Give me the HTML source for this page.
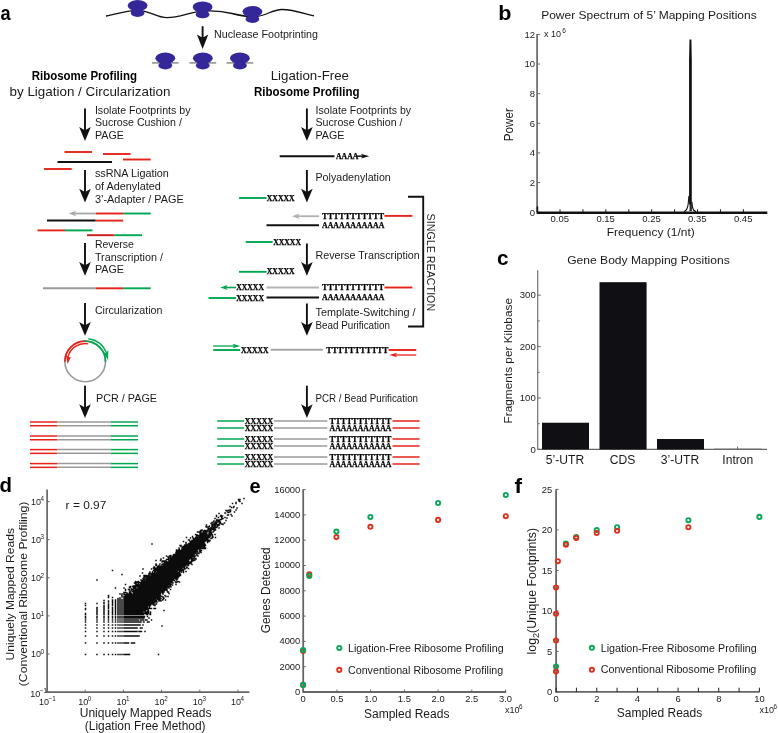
<!DOCTYPE html>
<html lang="en"><head><meta charset="utf-8"><title>Ligation-free ribosome profiling figure</title>
<style>html,body{margin:0;padding:0;background:#fff}svg{display:block}text{white-space:pre}</style>
</head><body>
<svg width="778" height="733" viewBox="0 0 778 733">
<rect width="778" height="733" fill="#fff"/>
<text x="0.4" y="20.4" font-family='"Liberation Sans", Arial, Helvetica, sans-serif' font-size="19.6" font-weight="bold" textLength="10.13" lengthAdjust="spacingAndGlyphs" fill="#000">a</text>
<text x="498.3" y="20.1" font-family='"Liberation Sans", Arial, Helvetica, sans-serif' font-size="19.6" font-weight="bold" textLength="13.17" lengthAdjust="spacingAndGlyphs" fill="#000">b</text>
<text x="497.0" y="264.7" font-family='"Liberation Sans", Arial, Helvetica, sans-serif' font-size="19.6" font-weight="bold" textLength="11.55" lengthAdjust="spacingAndGlyphs" fill="#000">c</text>
<text x="-0.6" y="491.7" font-family='"Liberation Sans", Arial, Helvetica, sans-serif' font-size="19.6" font-weight="bold" textLength="12.45" lengthAdjust="spacingAndGlyphs" fill="#000">d</text>
<text x="249.4" y="492.7" font-family='"Liberation Sans", Arial, Helvetica, sans-serif' font-size="19.6" font-weight="bold" textLength="11.12" lengthAdjust="spacingAndGlyphs" fill="#000">e</text>
<text x="514.4" y="492.5" font-family='"Liberation Sans", Arial, Helvetica, sans-serif' font-size="19.6" font-weight="bold" textLength="7.51" lengthAdjust="spacingAndGlyphs" fill="#000">f</text>
<path d="M106 16C118 14 126 10.5 137.6 10.3C150 10.5 156 17.6 167 17.7C180 17.6 190 12 202.6 11.2C212 10.6 222 11 232 13.5C240 15.5 248 17 256 16.6C266 16 272 9.6 282 9.5C293 9.6 304 13.5 314 15.8" fill="none" stroke="#111" stroke-width="1.3"/>
<ellipse cx="137.6" cy="5.6" rx="9.9" ry="5.6" fill="#33279a"/>
<ellipse cx="137.6" cy="13.0" rx="6.9" ry="3.9" fill="#33279a"/>
<ellipse cx="202.6" cy="7.0" rx="9.9" ry="5.6" fill="#33279a"/>
<ellipse cx="202.6" cy="14.4" rx="6.9" ry="3.9" fill="#33279a"/>
<ellipse cx="252.4" cy="11.6" rx="9.9" ry="5.6" fill="#33279a"/>
<ellipse cx="252.4" cy="19.0" rx="6.9" ry="3.9" fill="#33279a"/>
<path d="M201.65 26.2H203.54999999999998V37.2L208.29999999999998 34.5L202.6 49.1L196.9 34.5L201.65 37.2Z" fill="#111"/>
<text x="214" y="37.9" font-family='"Liberation Sans", Arial, Helvetica, sans-serif' font-size="10.2" textLength="104" lengthAdjust="spacingAndGlyphs" fill="#1a1a1a">Nuclease Footprinting</text>
<line x1="151.9" y1="62.9" x2="178.70000000000002" y2="62.9" stroke="#8c8c8c" stroke-width="1.5"/>
<ellipse cx="165.3" cy="58.2" rx="9.9" ry="5.6" fill="#33279a"/>
<ellipse cx="165.3" cy="65.60000000000001" rx="6.9" ry="3.9" fill="#33279a"/>
<line x1="189.4" y1="62.9" x2="216.20000000000002" y2="62.9" stroke="#8c8c8c" stroke-width="1.5"/>
<ellipse cx="202.8" cy="58.2" rx="9.9" ry="5.6" fill="#33279a"/>
<ellipse cx="202.8" cy="65.60000000000001" rx="6.9" ry="3.9" fill="#33279a"/>
<line x1="226.5" y1="62.9" x2="253.3" y2="62.9" stroke="#8c8c8c" stroke-width="1.5"/>
<ellipse cx="239.9" cy="58.2" rx="9.9" ry="5.6" fill="#33279a"/>
<ellipse cx="239.9" cy="65.60000000000001" rx="6.9" ry="3.9" fill="#33279a"/>
<text x="31.7" y="80" font-family='"Liberation Sans", Arial, Helvetica, sans-serif' font-size="12.6" font-weight="bold" textLength="105.3" lengthAdjust="spacingAndGlyphs" fill="#000">Ribosome Profiling</text>
<text x="9.5" y="96.2" font-family='"Liberation Sans", Arial, Helvetica, sans-serif' font-size="13.3" textLength="161" lengthAdjust="spacingAndGlyphs" fill="#1a1a1a">by Ligation / Circularization</text>
<text x="270.7" y="79.6" font-family='"Liberation Sans", Arial, Helvetica, sans-serif' font-size="13.3" textLength="78.3" lengthAdjust="spacingAndGlyphs" fill="#1a1a1a">Ligation-Free</text>
<text x="254" y="95.8" font-family='"Liberation Sans", Arial, Helvetica, sans-serif' font-size="12.6" font-weight="bold" textLength="105.5" lengthAdjust="spacingAndGlyphs" fill="#000">Ribosome Profiling</text>
<path d="M84.05 108.4H85.95V129.8L90.8 127.10000000000001L85 140.9L79.2 127.10000000000001L84.05 129.8Z" fill="#111"/>
<text x="94.9" y="113.6" font-family='"Liberation Sans", Arial, Helvetica, sans-serif' font-size="10.2" textLength="95.6" lengthAdjust="spacingAndGlyphs" fill="#1a1a1a">Isolate Footprints by</text>
<text x="94.9" y="126" font-family='"Liberation Sans", Arial, Helvetica, sans-serif' font-size="10.2" textLength="87" lengthAdjust="spacingAndGlyphs" fill="#1a1a1a">Sucrose Cushion /</text>
<text x="94.9" y="138.6" font-family='"Liberation Sans", Arial, Helvetica, sans-serif' font-size="10.2" textLength="29" lengthAdjust="spacingAndGlyphs" fill="#1a1a1a">PAGE</text>
<line x1="64.5" y1="152" x2="92" y2="152" stroke="#e5231a" stroke-width="1.9"/>
<line x1="103" y1="154" x2="130.5" y2="154" stroke="#e5231a" stroke-width="1.9"/>
<line x1="123" y1="159.5" x2="150.7" y2="159.5" stroke="#e5231a" stroke-width="1.9"/>
<line x1="57.5" y1="162.1" x2="112" y2="162.1" stroke="#111" stroke-width="2.0"/>
<line x1="44" y1="169" x2="71.7" y2="169" stroke="#e5231a" stroke-width="1.9"/>
<path d="M84.05 170H85.95V191.39999999999998L90.8 188.7L85 202.5L79.2 188.7L84.05 191.39999999999998Z" fill="#111"/>
<text x="94.9" y="177" font-family='"Liberation Sans", Arial, Helvetica, sans-serif' font-size="10.2" textLength="74" lengthAdjust="spacingAndGlyphs" fill="#1a1a1a">ssRNA Ligation</text>
<text x="94.9" y="189.6" font-family='"Liberation Sans", Arial, Helvetica, sans-serif' font-size="10.2" textLength="66" lengthAdjust="spacingAndGlyphs" fill="#1a1a1a">of Adenylated</text>
<text x="94.9" y="202.5" font-family='"Liberation Sans", Arial, Helvetica, sans-serif' font-size="10.2" textLength="89" lengthAdjust="spacingAndGlyphs" fill="#1a1a1a">3’-Adapter / PAGE</text>
<line x1="73.2" y1="213.5" x2="95.7" y2="213.5" stroke="#a8a8a8" stroke-width="1.8"/>
<path d="M68.7 213.5L76.2 210.8L74.325 213.5L76.2 216.2Z" fill="#a8a8a8"/>
<line x1="95.7" y1="213.5" x2="123.2" y2="213.5" stroke="#e5231a" stroke-width="1.9"/>
<line x1="123.2" y1="213.5" x2="150.7" y2="213.5" stroke="#00a650" stroke-width="1.9"/>
<line x1="47" y1="220.6" x2="95.7" y2="220.6" stroke="#111" stroke-width="2.0"/>
<line x1="95.7" y1="220.6" x2="123.2" y2="220.6" stroke="#e5231a" stroke-width="1.9"/>
<line x1="37.5" y1="230.4" x2="65" y2="230.4" stroke="#e5231a" stroke-width="1.9"/>
<line x1="65" y1="230.4" x2="92.5" y2="230.4" stroke="#00a650" stroke-width="1.9"/>
<line x1="87" y1="235.2" x2="114.5" y2="235.2" stroke="#c81e14" stroke-width="1.9"/>
<line x1="114.5" y1="235.2" x2="142" y2="235.2" stroke="#00a650" stroke-width="1.9"/>
<path d="M84.05 243H85.95V264.7L90.8 262.0L85 275.8L79.2 262.0L84.05 264.7Z" fill="#111"/>
<text x="94.9" y="248" font-family='"Liberation Sans", Arial, Helvetica, sans-serif' font-size="10.2" textLength="39" lengthAdjust="spacingAndGlyphs" fill="#1a1a1a">Reverse</text>
<text x="94.9" y="260.7" font-family='"Liberation Sans", Arial, Helvetica, sans-serif' font-size="10.2" textLength="68" lengthAdjust="spacingAndGlyphs" fill="#1a1a1a">Transcription /</text>
<text x="94.9" y="273.3" font-family='"Liberation Sans", Arial, Helvetica, sans-serif' font-size="10.2" textLength="29" lengthAdjust="spacingAndGlyphs" fill="#1a1a1a">PAGE</text>
<line x1="43" y1="288.3" x2="95.7" y2="288.3" stroke="#9a9a9a" stroke-width="1.9"/>
<line x1="95.7" y1="288.3" x2="123.2" y2="288.3" stroke="#e5231a" stroke-width="1.9"/>
<line x1="123.2" y1="288.3" x2="150.7" y2="288.3" stroke="#00a650" stroke-width="1.9"/>
<path d="M84.05 303H85.95V324.7L90.8 322.0L85 335.8L79.2 322.0L84.05 324.7Z" fill="#111"/>
<text x="94.9" y="314.3" font-family='"Liberation Sans", Arial, Helvetica, sans-serif' font-size="10.2" textLength="67.5" lengthAdjust="spacingAndGlyphs" fill="#1a1a1a">Circularization</text>
<circle cx="85.2" cy="361.4" r="20.3" fill="none" stroke="#9a9a9a" stroke-width="1.6"/>
<path d="M85.55 341.10A20.3 20.3 0 0 0 64.90 361.75" fill="none" stroke="#e5231a" stroke-width="1.7"/>
<path d="M88.29 343.87A17.8 17.8 0 0 0 67.93 357.09" fill="none" stroke="#e5231a" stroke-width="1.5"/>
<path d="M84.85 341.10A20.3 20.3 0 0 1 105.50 361.75" fill="none" stroke="#00a650" stroke-width="1.7"/>
<path d="M88.39 338.72A22.900000000000002 22.900000000000002 0 0 1 106.43 352.82" fill="none" stroke="#00a650" stroke-width="1.5"/>
<path d="M67.6 364L65.9 355.3L68.6 357.2L70.9 356.9Z" fill="#e5231a"/>
<path d="M108.1 360.2L103.5 352.6L106 353L108.3 350.3Z" fill="#00a650"/>
<path d="M84.05 385.8H85.95V406.9L90.8 404.2L85 418L79.2 404.2L84.05 406.9Z" fill="#111"/>
<text x="96" y="401.6" font-family='"Liberation Sans", Arial, Helvetica, sans-serif' font-size="10.2" textLength="61" lengthAdjust="spacingAndGlyphs" fill="#1a1a1a">PCR / PAGE</text>
<line x1="30" y1="422" x2="57.5" y2="422" stroke="#e5231a" stroke-width="1.5"/>
<line x1="57.5" y1="422" x2="110.5" y2="422" stroke="#9a9a9a" stroke-width="1.5"/>
<line x1="110.5" y1="422" x2="138" y2="422" stroke="#00a650" stroke-width="1.5"/>
<line x1="30" y1="425.75" x2="57.5" y2="425.75" stroke="#e5231a" stroke-width="1.5"/>
<line x1="57.5" y1="425.75" x2="110.5" y2="425.75" stroke="#9a9a9a" stroke-width="1.5"/>
<line x1="110.5" y1="425.75" x2="138" y2="425.75" stroke="#00a650" stroke-width="1.5"/>
<line x1="30" y1="436" x2="57.5" y2="436" stroke="#e5231a" stroke-width="1.5"/>
<line x1="57.5" y1="436" x2="110.5" y2="436" stroke="#9a9a9a" stroke-width="1.5"/>
<line x1="110.5" y1="436" x2="138" y2="436" stroke="#00a650" stroke-width="1.5"/>
<line x1="30" y1="439.75" x2="57.5" y2="439.75" stroke="#e5231a" stroke-width="1.5"/>
<line x1="57.5" y1="439.75" x2="110.5" y2="439.75" stroke="#9a9a9a" stroke-width="1.5"/>
<line x1="110.5" y1="439.75" x2="138" y2="439.75" stroke="#00a650" stroke-width="1.5"/>
<line x1="30" y1="449.6" x2="57.5" y2="449.6" stroke="#e5231a" stroke-width="1.5"/>
<line x1="57.5" y1="449.6" x2="110.5" y2="449.6" stroke="#9a9a9a" stroke-width="1.5"/>
<line x1="110.5" y1="449.6" x2="138" y2="449.6" stroke="#00a650" stroke-width="1.5"/>
<line x1="30" y1="453.35" x2="57.5" y2="453.35" stroke="#e5231a" stroke-width="1.5"/>
<line x1="57.5" y1="453.35" x2="110.5" y2="453.35" stroke="#9a9a9a" stroke-width="1.5"/>
<line x1="110.5" y1="453.35" x2="138" y2="453.35" stroke="#00a650" stroke-width="1.5"/>
<line x1="30" y1="463.6" x2="57.5" y2="463.6" stroke="#e5231a" stroke-width="1.5"/>
<line x1="57.5" y1="463.6" x2="110.5" y2="463.6" stroke="#9a9a9a" stroke-width="1.5"/>
<line x1="110.5" y1="463.6" x2="138" y2="463.6" stroke="#00a650" stroke-width="1.5"/>
<line x1="30" y1="467.35" x2="57.5" y2="467.35" stroke="#e5231a" stroke-width="1.5"/>
<line x1="57.5" y1="467.35" x2="110.5" y2="467.35" stroke="#9a9a9a" stroke-width="1.5"/>
<line x1="110.5" y1="467.35" x2="138" y2="467.35" stroke="#00a650" stroke-width="1.5"/>
<path d="M305.95 108.4H307.84999999999997V129.8L312.7 127.10000000000001L306.9 140.9L301.09999999999997 127.10000000000001L305.95 129.8Z" fill="#111"/>
<text x="315.5" y="113.6" font-family='"Liberation Sans", Arial, Helvetica, sans-serif' font-size="10.2" textLength="95.6" lengthAdjust="spacingAndGlyphs" fill="#1a1a1a">Isolate Footprints by</text>
<text x="315.5" y="126" font-family='"Liberation Sans", Arial, Helvetica, sans-serif' font-size="10.2" textLength="87" lengthAdjust="spacingAndGlyphs" fill="#1a1a1a">Sucrose Cushion /</text>
<text x="315.5" y="138.6" font-family='"Liberation Sans", Arial, Helvetica, sans-serif' font-size="10.2" textLength="29" lengthAdjust="spacingAndGlyphs" fill="#1a1a1a">PAGE</text>
<line x1="279.7" y1="156.2" x2="334.5" y2="156.2" stroke="#111" stroke-width="2.0"/>
<text x="336" y="158.6" font-family='"Liberation Serif", "Times New Roman", serif' font-size="7.8" font-weight="bold" textLength="22.5" lengthAdjust="spacingAndGlyphs" fill="#000" stroke="#000" stroke-width="0.25">AAAA</text>
<line x1="364.2" y1="156.2" x2="356" y2="156.2" stroke="#111" stroke-width="1.5"/>
<path d="M369.3 156.2L360.8 153.79999999999998L362.925 156.2L360.8 158.6Z" fill="#111"/>
<path d="M305.95 170H307.84999999999997V191.39999999999998L312.7 188.7L306.9 202.5L301.09999999999997 188.7L305.95 191.39999999999998Z" fill="#111"/>
<text x="315.5" y="180.5" font-family='"Liberation Sans", Arial, Helvetica, sans-serif' font-size="10.2" textLength="75.3" lengthAdjust="spacingAndGlyphs" fill="#1a1a1a">Polyadenylation</text>
<line x1="239" y1="198" x2="266.5" y2="198" stroke="#00a650" stroke-width="1.9"/>
<text x="266.8" y="200.7" font-family='"Liberation Serif", "Times New Roman", serif' font-size="8.2" font-weight="bold" textLength="27.8" lengthAdjust="spacingAndGlyphs" fill="#000" stroke="#000" stroke-width="0.25">XXXXX</text>
<path d="M408 196.8H423.2V326.5H408" fill="none" stroke="#111" stroke-width="1.9"/>
<text x="427.4" y="213.6" font-family='"Liberation Sans", Arial, Helvetica, sans-serif' font-size="10.7" textLength="97.6" lengthAdjust="spacingAndGlyphs" transform="rotate(90 427.4 213.6)" fill="#1a1a1a">SINGLE REACTION</text>
<line x1="296.5" y1="216.2" x2="319" y2="216.2" stroke="#b0b0b0" stroke-width="1.8"/>
<path d="M292 216.2L299.5 213.5L297.625 216.2L299.5 218.89999999999998Z" fill="#b0b0b0"/>
<text x="322" y="218.6" font-family='"Liberation Serif", "Times New Roman", serif' font-size="7.8" font-weight="bold" textLength="62.3" lengthAdjust="spacingAndGlyphs" fill="#000" stroke="#000" stroke-width="0.25">TTTTTTTTTTT</text>
<line x1="384.5" y1="215.9" x2="412.4" y2="215.9" stroke="#e5231a" stroke-width="1.9"/>
<line x1="266.5" y1="225.3" x2="319" y2="225.3" stroke="#111" stroke-width="2.0"/>
<text x="322" y="227.8" font-family='"Liberation Serif", "Times New Roman", serif' font-size="7.8" font-weight="bold" textLength="62.3" lengthAdjust="spacingAndGlyphs" fill="#000" stroke="#000" stroke-width="0.25">AAAAAAAAAAA</text>
<line x1="245.7" y1="242" x2="272.7" y2="242" stroke="#00a650" stroke-width="1.9"/>
<text x="273.2" y="244.9" font-family='"Liberation Serif", "Times New Roman", serif' font-size="8.2" font-weight="bold" textLength="27.8" lengthAdjust="spacingAndGlyphs" fill="#000" stroke="#000" stroke-width="0.25">XXXXX</text>
<path d="M305.95 243.6H307.84999999999997V264.7L312.7 262.0L306.9 275.8L301.09999999999997 262.0L305.95 264.7Z" fill="#111"/>
<text x="315.5" y="259.3" font-family='"Liberation Sans", Arial, Helvetica, sans-serif' font-size="10.2" textLength="104.3" lengthAdjust="spacingAndGlyphs" fill="#1a1a1a">Reverse Transcription</text>
<line x1="239" y1="271.8" x2="266.5" y2="271.8" stroke="#00a650" stroke-width="1.9"/>
<text x="266.8" y="274.4" font-family='"Liberation Serif", "Times New Roman", serif' font-size="8.2" font-weight="bold" textLength="27.8" lengthAdjust="spacingAndGlyphs" fill="#000" stroke="#000" stroke-width="0.25">XXXXX</text>
<line x1="224.7" y1="287.5" x2="236" y2="287.5" stroke="#00a650" stroke-width="1.6"/>
<path d="M220.2 287.5L227.7 285.0L225.825 287.5L227.7 290.0Z" fill="#00a650"/>
<text x="236.2" y="290.3" font-family='"Liberation Serif", "Times New Roman", serif' font-size="8.2" font-weight="bold" textLength="27.8" lengthAdjust="spacingAndGlyphs" fill="#000" stroke="#000" stroke-width="0.25">XXXXX</text>
<line x1="266.5" y1="287.5" x2="319" y2="287.5" stroke="#b4b4b4" stroke-width="1.9"/>
<text x="322" y="290.2" font-family='"Liberation Serif", "Times New Roman", serif' font-size="7.8" font-weight="bold" textLength="62.3" lengthAdjust="spacingAndGlyphs" fill="#000" stroke="#000" stroke-width="0.25">TTTTTTTTTTT</text>
<line x1="384.5" y1="287.5" x2="412.4" y2="287.5" stroke="#e5231a" stroke-width="1.9"/>
<line x1="208.5" y1="298" x2="236" y2="298" stroke="#00a650" stroke-width="1.9"/>
<text x="236.2" y="300.8" font-family='"Liberation Serif", "Times New Roman", serif' font-size="8.2" font-weight="bold" textLength="27.8" lengthAdjust="spacingAndGlyphs" fill="#000" stroke="#000" stroke-width="0.25">XXXXX</text>
<line x1="266.5" y1="297.6" x2="319" y2="297.6" stroke="#111" stroke-width="2.0"/>
<text x="322" y="299.8" font-family='"Liberation Serif", "Times New Roman", serif' font-size="7.8" font-weight="bold" textLength="62.3" lengthAdjust="spacingAndGlyphs" fill="#000" stroke="#000" stroke-width="0.25">AAAAAAAAAAA</text>
<path d="M305.95 303.4H307.84999999999997V324.7L312.7 322.0L306.9 335.8L301.09999999999997 322.0L305.95 324.7Z" fill="#111"/>
<text x="315.5" y="316.3" font-family='"Liberation Sans", Arial, Helvetica, sans-serif' font-size="10.2" textLength="100" lengthAdjust="spacingAndGlyphs" fill="#1a1a1a">Template-Switching /</text>
<text x="315.5" y="329" font-family='"Liberation Sans", Arial, Helvetica, sans-serif' font-size="10.2" textLength="74.5" lengthAdjust="spacingAndGlyphs" fill="#1a1a1a">Bead Purification</text>
<line x1="235.6" y1="346" x2="213.2" y2="346" stroke="#00a650" stroke-width="1.3"/>
<path d="M240.4 346L232.4 343.7L234.4 346L232.4 348.3Z" fill="#00a650"/>
<line x1="213.2" y1="350" x2="240.2" y2="350" stroke="#00a650" stroke-width="1.9"/>
<text x="241" y="352.6" font-family='"Liberation Serif", "Times New Roman", serif' font-size="8.2" font-weight="bold" textLength="27.6" lengthAdjust="spacingAndGlyphs" fill="#000" stroke="#000" stroke-width="0.25">XXXXX</text>
<line x1="270.7" y1="349.7" x2="323" y2="349.7" stroke="#a6a6a6" stroke-width="1.9"/>
<text x="326.3" y="352.8" font-family='"Liberation Serif", "Times New Roman", serif' font-size="7.8" font-weight="bold" textLength="62" lengthAdjust="spacingAndGlyphs" fill="#000" stroke="#000" stroke-width="0.25">TTTTTTTTTTT</text>
<line x1="388.7" y1="350" x2="416.3" y2="350" stroke="#e5231a" stroke-width="1.9"/>
<line x1="394.0" y1="355" x2="416.3" y2="355" stroke="#e5231a" stroke-width="1.3"/>
<path d="M389.2 355L397.2 352.7L395.2 355L397.2 357.3Z" fill="#e5231a"/>
<path d="M305.95 385.8H307.84999999999997V406.9L312.7 404.2L306.9 418L301.09999999999997 404.2L305.95 406.9Z" fill="#111"/>
<text x="315.5" y="401.7" font-family='"Liberation Sans", Arial, Helvetica, sans-serif' font-size="10.2" textLength="102.5" lengthAdjust="spacingAndGlyphs" fill="#1a1a1a">PCR / Bead Purification</text>
<line x1="217.2" y1="421" x2="244.2" y2="421" stroke="#00a650" stroke-width="1.5"/>
<text x="244.8" y="423.6" font-family='"Liberation Serif", "Times New Roman", serif' font-size="8.2" font-weight="bold" textLength="28.4" lengthAdjust="spacingAndGlyphs" fill="#000" stroke="#000" stroke-width="0.25">XXXXX</text>
<line x1="274" y1="421" x2="327.3" y2="421" stroke="#9a9a9a" stroke-width="1.5"/>
<text x="329.6" y="423.7" font-family='"Liberation Serif", "Times New Roman", serif' font-size="7.8" font-weight="bold" textLength="61.8" lengthAdjust="spacingAndGlyphs" fill="#000" stroke="#000" stroke-width="0.25">TTTTTTTTTTT</text>
<line x1="392.5" y1="421" x2="419.6" y2="421" stroke="#e5231a" stroke-width="1.5"/>
<line x1="217.2" y1="428" x2="244.2" y2="428" stroke="#00a650" stroke-width="1.5"/>
<text x="244.8" y="430.6" font-family='"Liberation Serif", "Times New Roman", serif' font-size="8.2" font-weight="bold" textLength="28.4" lengthAdjust="spacingAndGlyphs" fill="#000" stroke="#000" stroke-width="0.25">XXXXX</text>
<line x1="274" y1="428" x2="327.3" y2="428" stroke="#9a9a9a" stroke-width="1.5"/>
<text x="329.6" y="430.7" font-family='"Liberation Serif", "Times New Roman", serif' font-size="7.8" font-weight="bold" textLength="61.8" lengthAdjust="spacingAndGlyphs" fill="#000" stroke="#000" stroke-width="0.25">AAAAAAAAAAA</text>
<line x1="392.5" y1="428" x2="419.6" y2="428" stroke="#e5231a" stroke-width="1.5"/>
<line x1="217.2" y1="439" x2="244.2" y2="439" stroke="#00a650" stroke-width="1.5"/>
<text x="244.8" y="441.6" font-family='"Liberation Serif", "Times New Roman", serif' font-size="8.2" font-weight="bold" textLength="28.4" lengthAdjust="spacingAndGlyphs" fill="#000" stroke="#000" stroke-width="0.25">XXXXX</text>
<line x1="274" y1="439" x2="327.3" y2="439" stroke="#9a9a9a" stroke-width="1.5"/>
<text x="329.6" y="441.7" font-family='"Liberation Serif", "Times New Roman", serif' font-size="7.8" font-weight="bold" textLength="61.8" lengthAdjust="spacingAndGlyphs" fill="#000" stroke="#000" stroke-width="0.25">TTTTTTTTTTT</text>
<line x1="392.5" y1="439" x2="419.6" y2="439" stroke="#e5231a" stroke-width="1.5"/>
<line x1="217.2" y1="446" x2="244.2" y2="446" stroke="#00a650" stroke-width="1.5"/>
<text x="244.8" y="448.6" font-family='"Liberation Serif", "Times New Roman", serif' font-size="8.2" font-weight="bold" textLength="28.4" lengthAdjust="spacingAndGlyphs" fill="#000" stroke="#000" stroke-width="0.25">XXXXX</text>
<line x1="274" y1="446" x2="327.3" y2="446" stroke="#9a9a9a" stroke-width="1.5"/>
<text x="329.6" y="448.7" font-family='"Liberation Serif", "Times New Roman", serif' font-size="7.8" font-weight="bold" textLength="61.8" lengthAdjust="spacingAndGlyphs" fill="#000" stroke="#000" stroke-width="0.25">AAAAAAAAAAA</text>
<line x1="392.5" y1="446" x2="419.6" y2="446" stroke="#e5231a" stroke-width="1.5"/>
<line x1="217.2" y1="457" x2="244.2" y2="457" stroke="#00a650" stroke-width="1.5"/>
<text x="244.8" y="459.6" font-family='"Liberation Serif", "Times New Roman", serif' font-size="8.2" font-weight="bold" textLength="28.4" lengthAdjust="spacingAndGlyphs" fill="#000" stroke="#000" stroke-width="0.25">XXXXX</text>
<line x1="274" y1="457" x2="327.3" y2="457" stroke="#9a9a9a" stroke-width="1.5"/>
<text x="329.6" y="459.7" font-family='"Liberation Serif", "Times New Roman", serif' font-size="7.8" font-weight="bold" textLength="61.8" lengthAdjust="spacingAndGlyphs" fill="#000" stroke="#000" stroke-width="0.25">TTTTTTTTTTT</text>
<line x1="392.5" y1="457" x2="419.6" y2="457" stroke="#e5231a" stroke-width="1.5"/>
<line x1="217.2" y1="464" x2="244.2" y2="464" stroke="#00a650" stroke-width="1.5"/>
<text x="244.8" y="466.6" font-family='"Liberation Serif", "Times New Roman", serif' font-size="8.2" font-weight="bold" textLength="28.4" lengthAdjust="spacingAndGlyphs" fill="#000" stroke="#000" stroke-width="0.25">XXXXX</text>
<line x1="274" y1="464" x2="327.3" y2="464" stroke="#9a9a9a" stroke-width="1.5"/>
<text x="329.6" y="466.7" font-family='"Liberation Serif", "Times New Roman", serif' font-size="7.8" font-weight="bold" textLength="61.8" lengthAdjust="spacingAndGlyphs" fill="#000" stroke="#000" stroke-width="0.25">AAAAAAAAAAA</text>
<line x1="392.5" y1="464" x2="419.6" y2="464" stroke="#e5231a" stroke-width="1.5"/>
<text x="541.2" y="18.8" font-family='"Liberation Sans", Arial, Helvetica, sans-serif' font-size="11.5" textLength="215.5" lengthAdjust="spacingAndGlyphs" fill="#1a1a1a">Power Spectrum of 5’ Mapping Positions</text>
<line x1="537.1" y1="33.9" x2="537.1" y2="212.2" stroke="#707070" stroke-width="1.8"/>
<line x1="537.1" y1="212.2" x2="540.1" y2="212.2" stroke="#666" stroke-width="1"/>
<text x="535.1" y="215.5" font-family='"Liberation Sans", Arial, Helvetica, sans-serif' font-size="9.5" text-anchor="end" fill="#1a1a1a">0</text>
<line x1="537.1" y1="182.56666666666666" x2="540.1" y2="182.56666666666666" stroke="#666" stroke-width="1"/>
<text x="535.1" y="185.86666666666667" font-family='"Liberation Sans", Arial, Helvetica, sans-serif' font-size="9.5" text-anchor="end" fill="#1a1a1a">2</text>
<line x1="537.1" y1="152.93333333333334" x2="540.1" y2="152.93333333333334" stroke="#666" stroke-width="1"/>
<text x="535.1" y="156.23333333333335" font-family='"Liberation Sans", Arial, Helvetica, sans-serif' font-size="9.5" text-anchor="end" fill="#1a1a1a">4</text>
<line x1="537.1" y1="123.3" x2="540.1" y2="123.3" stroke="#666" stroke-width="1"/>
<text x="535.1" y="126.6" font-family='"Liberation Sans", Arial, Helvetica, sans-serif' font-size="9.5" text-anchor="end" fill="#1a1a1a">6</text>
<line x1="537.1" y1="93.66666666666667" x2="540.1" y2="93.66666666666667" stroke="#666" stroke-width="1"/>
<text x="535.1" y="96.96666666666667" font-family='"Liberation Sans", Arial, Helvetica, sans-serif' font-size="9.5" text-anchor="end" fill="#1a1a1a">8</text>
<line x1="537.1" y1="64.03333333333333" x2="540.1" y2="64.03333333333333" stroke="#666" stroke-width="1"/>
<text x="535.1" y="67.33333333333333" font-family='"Liberation Sans", Arial, Helvetica, sans-serif' font-size="9.5" text-anchor="end" fill="#1a1a1a">10</text>
<line x1="537.1" y1="34.400000000000006" x2="540.1" y2="34.400000000000006" stroke="#666" stroke-width="1"/>
<text x="535.1" y="37.7" font-family='"Liberation Sans", Arial, Helvetica, sans-serif' font-size="9.5" text-anchor="end" fill="#1a1a1a">12</text>
<text x="544" y="36.9" font-family='"Liberation Sans", Arial, Helvetica, sans-serif' font-size="9" fill="#1a1a1a">x 10</text>
<text x="562.3" y="32.8" font-family='"Liberation Sans", Arial, Helvetica, sans-serif' font-size="6.5" fill="#1a1a1a">6</text>
<line x1="560.02" y1="212.2" x2="560.02" y2="209.2" stroke="#222" stroke-width="1"/>
<line x1="582.94" y1="212.2" x2="582.94" y2="209.2" stroke="#222" stroke-width="1"/>
<line x1="605.86" y1="212.2" x2="605.86" y2="209.2" stroke="#222" stroke-width="1"/>
<line x1="628.78" y1="212.2" x2="628.78" y2="209.2" stroke="#222" stroke-width="1"/>
<line x1="651.6999999999999" y1="212.2" x2="651.6999999999999" y2="209.2" stroke="#222" stroke-width="1"/>
<line x1="674.62" y1="212.2" x2="674.62" y2="209.2" stroke="#222" stroke-width="1"/>
<line x1="697.54" y1="212.2" x2="697.54" y2="209.2" stroke="#222" stroke-width="1"/>
<line x1="720.46" y1="212.2" x2="720.46" y2="209.2" stroke="#222" stroke-width="1"/>
<line x1="743.3799999999999" y1="212.2" x2="743.3799999999999" y2="209.2" stroke="#222" stroke-width="1"/>
<text x="559.8199999999999" y="221.6" font-family='"Liberation Sans", Arial, Helvetica, sans-serif' font-size="9.5" text-anchor="middle" fill="#1a1a1a">0.05</text>
<text x="605.66" y="221.6" font-family='"Liberation Sans", Arial, Helvetica, sans-serif' font-size="9.5" text-anchor="middle" fill="#1a1a1a">0.15</text>
<text x="651.5" y="221.6" font-family='"Liberation Sans", Arial, Helvetica, sans-serif' font-size="9.5" text-anchor="middle" fill="#1a1a1a">0.25</text>
<text x="697.3399999999999" y="221.6" font-family='"Liberation Sans", Arial, Helvetica, sans-serif' font-size="9.5" text-anchor="middle" fill="#1a1a1a">0.35</text>
<text x="743.18" y="221.6" font-family='"Liberation Sans", Arial, Helvetica, sans-serif' font-size="9.5" text-anchor="middle" fill="#1a1a1a">0.45</text>
<line x1="536.6" y1="212.7" x2="767.3" y2="212.7" stroke="#111" stroke-width="2.6"/>
<path d="M537.4 212V206.5" stroke="#111" stroke-width="1.6" fill="none"/>
<path d="M689.05 211V60L689.5 39.4H691.4L691.8 60V211Z" fill="#111"/>
<path d="M683.8 211.6C686.1999999999999 211.3 687.0 209.5 687.8 206.2C688.1999999999999 204.5 688.5 201 688.9 196M696.1999999999999 211.6C694.0 211.3 693.1999999999999 210 692.6 207.5C692.3 206 692.1 204 691.9 202" stroke="#111" stroke-width="1.1" fill="none"/>
<path d="M689.65 210.7V204.5" stroke="#fff" stroke-width="0.7" fill="none"/>
<text x="606.8" y="235.5" font-family='"Liberation Sans", Arial, Helvetica, sans-serif' font-size="11.6" textLength="88" lengthAdjust="spacingAndGlyphs" fill="#1a1a1a">Frequency (1/nt)</text>
<text x="513.3" y="141.2" font-family='"Liberation Sans", Arial, Helvetica, sans-serif' font-size="12" textLength="33" lengthAdjust="spacingAndGlyphs" transform="rotate(-90 513.3 141.2)" fill="#1a1a1a">Power</text>
<text x="567.2" y="264.2" font-family='"Liberation Sans", Arial, Helvetica, sans-serif' font-size="11.8" textLength="162.5" lengthAdjust="spacingAndGlyphs" fill="#1a1a1a">Gene Body Mapping Positions</text>
<line x1="537.7" y1="270.2" x2="537.7" y2="449.4" stroke="#707070" stroke-width="1.2"/>
<line x1="537.7" y1="449.4" x2="767" y2="449.4" stroke="#666" stroke-width="1.2"/>
<line x1="537.7" y1="449.4" x2="540.7" y2="449.4" stroke="#666" stroke-width="1"/>
<text x="535.8000000000001" y="452.59999999999997" font-family='"Liberation Sans", Arial, Helvetica, sans-serif' font-size="9.6" text-anchor="end" fill="#1a1a1a">0</text>
<line x1="537.7" y1="423.7" x2="539.7" y2="423.7" stroke="#666" stroke-width="1"/>
<line x1="537.7" y1="398.0" x2="540.7" y2="398.0" stroke="#666" stroke-width="1"/>
<text x="535.8000000000001" y="401.2" font-family='"Liberation Sans", Arial, Helvetica, sans-serif' font-size="9.6" text-anchor="end" fill="#1a1a1a">100</text>
<line x1="537.7" y1="372.29999999999995" x2="539.7" y2="372.29999999999995" stroke="#666" stroke-width="1"/>
<line x1="537.7" y1="346.59999999999997" x2="540.7" y2="346.59999999999997" stroke="#666" stroke-width="1"/>
<text x="535.8000000000001" y="349.79999999999995" font-family='"Liberation Sans", Arial, Helvetica, sans-serif' font-size="9.6" text-anchor="end" fill="#1a1a1a">200</text>
<line x1="537.7" y1="320.9" x2="539.7" y2="320.9" stroke="#666" stroke-width="1"/>
<line x1="537.7" y1="295.19999999999993" x2="540.7" y2="295.19999999999993" stroke="#666" stroke-width="1"/>
<text x="535.8000000000001" y="298.3999999999999" font-family='"Liberation Sans", Arial, Helvetica, sans-serif' font-size="9.6" text-anchor="end" fill="#1a1a1a">300</text>
<rect x="542" y="422.72" width="47" height="26.68" fill="#101014"/>
<rect x="599.5" y="282.20" width="47.10000000000002" height="167.20" fill="#101014"/>
<rect x="657" y="439.02" width="47" height="10.38" fill="#101014"/>
<rect x="714" y="448.58" width="47.5" height="0.82" fill="#777"/>
<line x1="737.6" y1="446.6" x2="737.6" y2="449" stroke="#666" stroke-width="1"/>
<text x="565" y="463.5" font-family='"Liberation Sans", Arial, Helvetica, sans-serif' font-size="12.1" text-anchor="middle" fill="#1a1a1a">5’-UTR</text>
<text x="622.5" y="463.5" font-family='"Liberation Sans", Arial, Helvetica, sans-serif' font-size="12.1" text-anchor="middle" fill="#1a1a1a">CDS</text>
<text x="680" y="463.5" font-family='"Liberation Sans", Arial, Helvetica, sans-serif' font-size="12.1" text-anchor="middle" fill="#1a1a1a">3’-UTR</text>
<text x="737.8" y="463.5" font-family='"Liberation Sans", Arial, Helvetica, sans-serif' font-size="12.1" text-anchor="middle" fill="#1a1a1a">Intron</text>
<text x="511.7" y="423.4" font-family='"Liberation Sans", Arial, Helvetica, sans-serif' font-size="11.8" textLength="125.4" lengthAdjust="spacingAndGlyphs" transform="rotate(-90 511.7 423.4)" fill="#1a1a1a">Fragments per Kilobase</text>
<line x1="47.1" y1="489.5" x2="47.1" y2="693.0" stroke="#666" stroke-width="1.7"/>
<line x1="47.1" y1="692.2" x2="249.4" y2="692.2" stroke="#666" stroke-width="1.7"/>
<line x1="47.1" y1="692.1" x2="49.6" y2="692.1" stroke="#666" stroke-width="1"/>
<text x="30.2" y="696.6999999999999" font-family='"Liberation Sans", Arial, Helvetica, sans-serif' font-size="9" fill="#1a1a1a">10</text>
<text x="39.8" y="693.0999999999999" font-family='"Liberation Sans", Arial, Helvetica, sans-serif' font-size="6.3" fill="#1a1a1a">−1</text>
<line x1="47.0" y1="692.2" x2="47.0" y2="689.7" stroke="#666" stroke-width="1"/>
<text x="39.0" y="704.6" font-family='"Liberation Sans", Arial, Helvetica, sans-serif' font-size="9" fill="#1a1a1a">10</text>
<text x="48.6" y="701.0" font-family='"Liberation Sans", Arial, Helvetica, sans-serif' font-size="6.3" fill="#1a1a1a">−1</text>
<line x1="47.1" y1="654.0" x2="49.6" y2="654.0" stroke="#666" stroke-width="1"/>
<text x="31" y="657.3" font-family='"Liberation Sans", Arial, Helvetica, sans-serif' font-size="9" fill="#1a1a1a">10</text>
<text x="40.6" y="653.6999999999999" font-family='"Liberation Sans", Arial, Helvetica, sans-serif' font-size="6.3" fill="#1a1a1a">0</text>
<line x1="85.2" y1="692.2" x2="85.2" y2="689.7" stroke="#666" stroke-width="1"/>
<text x="78.2" y="704.6" font-family='"Liberation Sans", Arial, Helvetica, sans-serif' font-size="9" fill="#1a1a1a">10</text>
<text x="87.8" y="701.0" font-family='"Liberation Sans", Arial, Helvetica, sans-serif' font-size="6.3" fill="#1a1a1a">0</text>
<line x1="47.1" y1="615.9" x2="49.6" y2="615.9" stroke="#666" stroke-width="1"/>
<text x="31" y="619.1999999999999" font-family='"Liberation Sans", Arial, Helvetica, sans-serif' font-size="9" fill="#1a1a1a">10</text>
<text x="40.6" y="615.5999999999999" font-family='"Liberation Sans", Arial, Helvetica, sans-serif' font-size="6.3" fill="#1a1a1a">1</text>
<line x1="123.4" y1="692.2" x2="123.4" y2="689.7" stroke="#666" stroke-width="1"/>
<text x="116.4" y="704.6" font-family='"Liberation Sans", Arial, Helvetica, sans-serif' font-size="9" fill="#1a1a1a">10</text>
<text x="126.0" y="701.0" font-family='"Liberation Sans", Arial, Helvetica, sans-serif' font-size="6.3" fill="#1a1a1a">1</text>
<line x1="47.1" y1="577.8" x2="49.6" y2="577.8" stroke="#666" stroke-width="1"/>
<text x="31" y="581.0999999999999" font-family='"Liberation Sans", Arial, Helvetica, sans-serif' font-size="9" fill="#1a1a1a">10</text>
<text x="40.6" y="577.4999999999999" font-family='"Liberation Sans", Arial, Helvetica, sans-serif' font-size="6.3" fill="#1a1a1a">2</text>
<line x1="161.60000000000002" y1="692.2" x2="161.60000000000002" y2="689.7" stroke="#666" stroke-width="1"/>
<text x="154.60000000000002" y="704.6" font-family='"Liberation Sans", Arial, Helvetica, sans-serif' font-size="9" fill="#1a1a1a">10</text>
<text x="164.20000000000002" y="701.0" font-family='"Liberation Sans", Arial, Helvetica, sans-serif' font-size="6.3" fill="#1a1a1a">2</text>
<line x1="47.1" y1="539.7" x2="49.6" y2="539.7" stroke="#666" stroke-width="1"/>
<text x="31" y="543.0" font-family='"Liberation Sans", Arial, Helvetica, sans-serif' font-size="9" fill="#1a1a1a">10</text>
<text x="40.6" y="539.4" font-family='"Liberation Sans", Arial, Helvetica, sans-serif' font-size="6.3" fill="#1a1a1a">3</text>
<line x1="199.8" y1="692.2" x2="199.8" y2="689.7" stroke="#666" stroke-width="1"/>
<text x="192.8" y="704.6" font-family='"Liberation Sans", Arial, Helvetica, sans-serif' font-size="9" fill="#1a1a1a">10</text>
<text x="202.4" y="701.0" font-family='"Liberation Sans", Arial, Helvetica, sans-serif' font-size="6.3" fill="#1a1a1a">3</text>
<line x1="47.1" y1="501.6" x2="49.6" y2="501.6" stroke="#666" stroke-width="1"/>
<text x="31" y="504.90000000000003" font-family='"Liberation Sans", Arial, Helvetica, sans-serif' font-size="9" fill="#1a1a1a">10</text>
<text x="40.6" y="501.3" font-family='"Liberation Sans", Arial, Helvetica, sans-serif' font-size="6.3" fill="#1a1a1a">4</text>
<line x1="238.0" y1="692.2" x2="238.0" y2="689.7" stroke="#666" stroke-width="1"/>
<text x="231.0" y="704.6" font-family='"Liberation Sans", Arial, Helvetica, sans-serif' font-size="9" fill="#1a1a1a">10</text>
<text x="240.6" y="701.0" font-family='"Liberation Sans", Arial, Helvetica, sans-serif' font-size="6.3" fill="#1a1a1a">4</text>
<text x="65.6" y="508.5" font-family='"Liberation Sans", Arial, Helvetica, sans-serif' font-size="11.6" textLength="40.8" lengthAdjust="spacingAndGlyphs" fill="#1a1a1a">r = 0.97</text>
<text x="79.7" y="717.3" font-family='"Liberation Sans", Arial, Helvetica, sans-serif' font-size="12" textLength="131.8" lengthAdjust="spacingAndGlyphs" fill="#1a1a1a">Uniquely Mapped Reads</text>
<text x="84.8" y="730" font-family='"Liberation Sans", Arial, Helvetica, sans-serif' font-size="12" textLength="120.8" lengthAdjust="spacingAndGlyphs" fill="#1a1a1a">(Ligation Free Method)</text>
<text x="13.9" y="660.4" font-family='"Liberation Sans", Arial, Helvetica, sans-serif' font-size="11.6" textLength="132.4" lengthAdjust="spacingAndGlyphs" transform="rotate(-90 13.9 660.4)" fill="#1a1a1a">Uniquely Mapped Reads</text>
<text x="26.6" y="686.2" font-family='"Liberation Sans", Arial, Helvetica, sans-serif' font-size="11.6" textLength="184.6" lengthAdjust="spacingAndGlyphs" transform="rotate(-90 26.6 686.2)" fill="#1a1a1a">(Conventional Ribosome Profiling)</text>
<path d="M84.75 603.5h1.5M84.75 605.5h1.5M84.75 608.5h1.5M84.75 609.5h1.5M84.75 613.5h1.5M84.75 614.5h1.5M84.75 616.5h1.5M84.75 618h1.5M84.75 620h1.5M84.75 622h1.5M84.75 625h1.5M84.75 628h1.5M84.75 631.5h1.5M84.75 636h1.5M84.75 643h1.5M84.75 654.5h1.5M96.25 580h1.5M96.25 603.5h1.5M96.25 607.5h1.5M96.25 608.5h1.5M96.25 609.5h1.5M96.25 610.5h1.5M96.25 612h1.5M96.25 613.5h1.5M96.25 614.5h1.5M96.25 616.5h1.5M96.25 618h1.5M96.25 620h1.5M96.25 622h1.5M96.25 625h1.5M96.25 628h1.5M96.25 631.5h1.5M96.25 636h1.5M96.25 643h1.5M96.25 654.5h1.5M103.25 600.5h1.5M103.25 602.5h1.5M103.25 603.5h1.5M103.25 605.5h1.5M103.25 606.5h1.5M103.25 607.5h1.5M103.25 608.5h1.5M103.25 609.5h1.5M103.25 610.5h1.5M103.25 612h1.5M103.25 613.5h1.5M103.25 614.5h1.5M103.25 616.5h1.5M103.25 618h1.5M103.25 620h1.5M103.25 622h1.5M103.25 625h1.5M103.25 628h1.5M103.25 631.5h1.5M103.25 636h1.5M103.25 643h1.5M103.25 654.5h1.5M107.75 595.5h1.5M107.75 596h1.5M107.75 597.5h1.5M107.75 601h1.5M107.75 602h1.5M107.75 604h1.5M107.75 605.5h1.5M107.75 606.5h1.5M107.75 607.5h1.5M107.75 608.5h1.5M107.75 610.5h1.5M107.75 612h1.5M107.75 613.5h1.5M107.75 614.5h1.5M107.75 616.5h1.5M107.75 618h1.5M107.75 620h1.5M107.75 622h1.5M107.75 625h1.5M107.75 628h1.5M107.75 631.5h1.5M107.75 636h1.5M107.75 643h1.5M107.75 654.5h1.5M111.75 570.5h1.5M111.75 597.5h1.5M111.75 600h1.5M111.75 601h1.5M111.75 602.5h1.5M111.75 603.5h1.5M111.75 604h1.5M111.75 605h1.5M111.75 605.5h1.5M111.75 607.5h1.5M111.75 608.5h1.5M111.75 609.5h1.5M111.75 610.5h1.5M111.75 612h1.5M111.75 613.5h1.5M111.75 614.5h1.5M111.75 616.5h1.5M111.75 618h1.5M111.75 620h1.5M111.75 622h1.5M111.75 625h1.5M111.75 628h1.5M111.75 631.5h1.5M111.75 636h1.5M111.75 643h1.5M111.75 654.5h1.5M114.75 588h1.5M114.75 600h1.5M114.75 601h1.5M114.75 602h1.5M114.75 602.5h1.5M114.75 603.5h1.5M114.75 604h1.5M114.75 605h1.5M114.75 605.5h1.5M114.75 606.5h1.5M114.75 607.5h1.5M114.75 608.5h1.5M114.75 609.5h1.5M114.75 610.5h1.5M114.75 612h1.5M114.75 613.5h1.5M114.75 614.5h1.5M114.75 616.5h1.5M114.75 618h1.5M114.75 620h1.5M114.75 622h1.5M114.75 625h1.5M114.75 628h1.5M114.75 631.5h1.5M114.75 636h1.5M114.75 643h1.5M114.75 654.5h1.5M117.25 598.5h1.5M117.25 600h1.5M117.25 601h1.5M117.25 602h1.5M117.25 603.5h1.5M117.25 604h1.5M117.25 605h1.5M117.25 605.5h1.5M117.25 606.5h1.5M117.25 607.5h1.5M117.25 608.5h1.5M117.25 609.5h1.5M117.25 610.5h1.5M117.25 612h1.5M117.25 613.5h1.5M117.25 614.5h1.5M117.25 616.5h1.5M117.25 618h1.5M117.25 620h1.5M117.25 622h1.5M117.25 625h1.5M117.25 628h1.5M117.25 631.5h1.5M117.25 636h1.5M117.25 643h1.5M117.25 654.5h1.5M119.25 594h1.5M119.25 598h1.5M119.25 599.5h1.5M119.25 600.5h1.5M119.25 601h1.5M119.25 602.5h1.5M119.25 603.5h1.5M119.25 604h1.5M119.25 605h1.5M119.25 605.5h1.5M119.25 606.5h1.5M119.25 607.5h1.5M119.25 608.5h1.5M119.25 609.5h1.5M119.25 610.5h1.5M119.25 612h1.5M119.25 613.5h1.5M119.25 614.5h1.5M119.25 616.5h1.5M119.25 618h1.5M119.25 620h1.5M119.25 622h1.5M119.25 625h1.5M119.25 628h1.5M119.25 631.5h1.5M119.25 636h1.5M119.25 643h1.5M119.25 654.5h1.5M121.25 574.5h1.5M121.25 594h1.5M121.25 595.5h1.5M121.25 596.5h1.5M121.25 597h1.5M121.25 599.5h1.5M121.25 600h1.5M121.25 601h1.5M121.25 602h1.5M121.25 602.5h1.5M121.25 603.5h1.5M121.25 604h1.5M121.25 605h1.5M121.25 605.5h1.5M121.25 606.5h1.5M121.25 607.5h1.5M121.25 608.5h1.5M121.25 609.5h1.5M121.25 610.5h1.5M121.25 612h1.5M121.25 613.5h1.5M121.25 614.5h1.5M121.25 616.5h1.5M121.25 618h1.5M121.25 620h1.5M121.25 622h1.5M121.25 625h1.5M121.25 628h1.5M121.25 631.5h1.5M121.25 636h1.5M121.25 643h1.5M121.25 654.5h1.5M123.25 588h1.5M123.25 592.5h1.5M123.25 594h1.5M123.25 594.5h1.5M123.25 596.5h1.5M123.25 597h1.5M123.25 597.5h1.5M123.25 598.5h1.5M123.25 599.5h1.5M123.25 600h1.5M123.25 600.5h1.5M123.25 601h1.5M123.25 602h1.5M123.25 602.5h1.5M123.25 603.5h1.5M123.25 604h1.5M123.25 605h1.5M123.25 605.5h1.5M123.25 606.5h1.5M123.25 607.5h1.5M123.25 608.5h1.5M123.25 609.5h1.5M123.25 610.5h1.5M123.25 612h1.5M123.25 613.5h1.5M123.25 614.5h1.5M123.25 616.5h1.5M123.25 618h1.5M123.25 620h1.5M123.25 622h1.5M123.25 625h1.5M123.25 628h1.5M123.25 631.5h1.5M123.25 636h1.5M123.25 643h1.5M123.25 654.5h1.5M124.75 584.5h1.5M124.75 589.5h1.5M124.75 590.5h1.5M124.75 592.5h1.5M124.75 594.5h1.5M124.75 595h1.5M124.75 595.5h1.5M124.75 596h1.5M124.75 596.5h1.5M124.75 597h1.5M124.75 597.5h1.5M124.75 598h1.5M124.75 598.5h1.5M124.75 599.5h1.5M124.75 600h1.5M124.75 600.5h1.5M124.75 601h1.5M124.75 602h1.5M124.75 602.5h1.5M124.75 603.5h1.5M124.75 604h1.5M124.75 605h1.5M124.75 605.5h1.5M124.75 606.5h1.5M124.75 607.5h1.5M124.75 608.5h1.5M124.75 609.5h1.5M124.75 610.5h1.5M124.75 612h1.5M124.75 613.5h1.5M124.75 614.5h1.5M124.75 616.5h1.5M124.75 618h1.5M124.75 620h1.5M124.75 622h1.5M124.75 625h1.5M124.75 628h1.5M124.75 631.5h1.5M124.75 636h1.5M124.75 643h1.5M124.75 654.5h1.5M126.25 593h1.5M126.25 594h1.5M126.25 594.5h1.5M126.25 595.5h1.5M126.25 596.5h1.5M126.25 597h1.5M126.25 597.5h1.5M126.25 598h1.5M126.25 598.5h1.5M126.25 599.5h1.5M126.25 600h1.5M126.25 600.5h1.5M126.25 601h1.5M126.25 602h1.5M126.25 602.5h1.5M126.25 603.5h1.5M126.25 604h1.5M126.25 605h1.5M126.25 605.5h1.5M126.25 606.5h1.5M126.25 607.5h1.5M126.25 608.5h1.5M126.25 609.5h1.5M126.25 610.5h1.5M126.25 612h1.5M126.25 613.5h1.5M126.25 614.5h1.5M126.25 616.5h1.5M126.25 618h1.5M126.25 620h1.5M126.25 622h1.5M126.25 625h1.5M126.25 628h1.5M126.25 631.5h1.5M126.25 636h1.5M126.25 643h1.5M126.25 654.5h1.5M127.75 589.5h1.5M127.75 594h1.5M127.75 594.5h1.5M127.75 596h1.5M127.75 597.5h1.5M127.75 598h1.5M127.75 598.5h1.5M127.75 600h1.5M127.75 600.5h1.5M127.75 601h1.5M127.75 602h1.5M127.75 602.5h1.5M127.75 603.5h1.5M127.75 604h1.5M127.75 605h1.5M127.75 605.5h1.5M127.75 606.5h1.5M127.75 607.5h1.5M127.75 608.5h1.5M127.75 609.5h1.5M127.75 610.5h1.5M127.75 612h1.5M127.75 613.5h1.5M127.75 614.5h1.5M127.75 616.5h1.5M127.75 618h1.5M127.75 620h1.5M127.75 622h1.5M127.75 625h1.5M127.75 628h1.5M127.75 631.5h1.5M127.75 636h1.5M127.75 643h1.5M127.75 654.5h1.5M128.75 587h1.5M128.75 587.5h1.5M128.75 589.5h1.5M128.75 590h1.5M128.75 592h1.5M128.75 593h1.5M128.75 594h1.5M128.75 594.5h1.5M128.75 595h1.5M128.75 595.5h1.5M128.75 596.5h1.5M128.75 597h1.5M128.75 597.5h1.5M128.75 598.5h1.5M128.75 599.5h1.5M128.75 600h1.5M128.75 600.5h1.5M128.75 601h1.5M128.75 602h1.5M128.75 602.5h1.5M128.75 603.5h1.5M128.75 604h1.5M128.75 605.5h1.5M128.75 606.5h1.5M128.75 607.5h1.5M128.75 608.5h1.5M128.75 609.5h1.5M128.75 610.5h1.5M128.75 612h1.5M128.75 613.5h1.5M128.75 614.5h1.5M128.75 616.5h1.5M128.75 618h1.5M128.75 620h1.5M128.75 622h1.5M128.75 625h1.5M128.75 628h1.5M128.75 631.5h1.5M128.75 636h1.5M128.75 654.5h1.5M129.75 586.5h1.5M129.75 587.5h1.5M129.75 591.5h1.5M129.75 592h1.5M129.75 592.5h1.5M129.75 594h1.5M129.75 595h1.5M129.75 595.5h1.5M129.75 596h1.5M129.75 596.5h1.5M129.75 597h1.5M129.75 598h1.5M129.75 598.5h1.5M129.75 599.5h1.5M129.75 600h1.5M129.75 600.5h1.5M129.75 601h1.5M129.75 602h1.5M129.75 602.5h1.5M129.75 603.5h1.5M129.75 604h1.5M129.75 605h1.5M129.75 605.5h1.5M129.75 606.5h1.5M129.75 607.5h1.5M129.75 608.5h1.5M129.75 609.5h1.5M129.75 610.5h1.5M129.75 612h1.5M129.75 613.5h1.5M129.75 614.5h1.5M129.75 616.5h1.5M129.75 618h1.5M129.75 620h1.5M129.75 622h1.5M129.75 625h1.5M129.75 628h1.5M129.75 631.5h1.5M129.75 636h1.5M130.75 589h1.5M130.75 590.5h1.5M130.75 593.5h1.5M130.75 594h1.5M130.75 594.5h1.5M130.75 595h1.5M130.75 596h1.5M130.75 596.5h1.5M130.75 597.5h1.5M130.75 598h1.5M130.75 598.5h1.5M130.75 599.5h1.5M130.75 600h1.5M130.75 600.5h1.5M130.75 601h1.5M130.75 602h1.5M130.75 602.5h1.5M130.75 603.5h1.5M130.75 604h1.5M130.75 605h1.5M130.75 605.5h1.5M130.75 606.5h1.5M130.75 607.5h1.5M130.75 608.5h1.5M130.75 609.5h1.5M130.75 610.5h1.5M130.75 612h1.5M130.75 613.5h1.5M130.75 614.5h1.5M130.75 616.5h1.5M130.75 618h1.5M130.75 620h1.5M130.75 622h1.5M130.75 625h1.5M130.75 628h1.5M130.75 631.5h1.5M130.75 636h1.5M130.75 643h1.5M131.75 586.5h1.5M131.75 589.5h1.5M131.75 591.5h1.5M131.75 594.5h1.5M131.75 595h1.5M131.75 595.5h1.5M131.75 596h1.5M131.75 597h1.5M131.75 597.5h1.5M131.75 598h1.5M131.75 598.5h1.5M131.75 599.5h1.5M131.75 600h1.5M131.75 600.5h1.5M131.75 601h1.5M131.75 602h1.5M131.75 602.5h1.5M131.75 603.5h1.5M131.75 604h1.5M131.75 605h1.5M131.75 605.5h1.5M131.75 606.5h1.5M131.75 607.5h1.5M131.75 608.5h1.5M131.75 609.5h1.5M131.75 610.5h1.5M131.75 612h1.5M131.75 613.5h1.5M131.75 614.5h1.5M131.75 616.5h1.5M131.75 618h1.5M131.75 620h1.5M131.75 622h1.5M131.75 625h1.5M131.75 628h1.5M131.75 631.5h1.5M131.75 636h1.5M131.75 643h1.5M132.75 586h1.5M132.75 586.5h1.5M132.75 587h1.5M132.75 588h1.5M132.75 589.5h1.5M132.75 590h1.5M132.75 591h1.5M132.75 592h1.5M132.75 592.5h1.5M132.75 593h1.5M132.75 593.5h1.5M132.75 594h1.5M132.75 594.5h1.5M132.75 595h1.5M132.75 595.5h1.5M132.75 596h1.5M132.75 596.5h1.5M132.75 597h1.5M132.75 597.5h1.5M132.75 598h1.5M132.75 598.5h1.5M132.75 599.5h1.5M132.75 600h1.5M132.75 600.5h1.5M132.75 601h1.5M132.75 602h1.5M132.75 602.5h1.5M132.75 603.5h1.5M132.75 604h1.5M132.75 605h1.5M132.75 605.5h1.5M132.75 606.5h1.5M132.75 607.5h1.5M132.75 608.5h1.5M132.75 609.5h1.5M132.75 610.5h1.5M132.75 612h1.5M132.75 613.5h1.5M132.75 614.5h1.5M132.75 616.5h1.5M132.75 618h1.5M132.75 620h1.5M132.75 622h1.5M132.75 625h1.5M132.75 628h1.5M132.75 631.5h1.5M132.75 636h1.5M132.75 643h1.5M133.75 583h1.5M133.75 586h1.5M133.75 587h1.5M133.75 588.5h1.5M133.75 590.5h1.5M133.75 591.5h1.5M133.75 592h1.5M133.75 592.5h1.5M133.75 593h1.5M133.75 593.5h1.5M133.75 594h1.5M133.75 594.5h1.5M133.75 595h1.5M133.75 595.5h1.5M133.75 596h1.5M133.75 596.5h1.5M133.75 597h1.5M133.75 597.5h1.5M133.75 598.5h1.5M133.75 599.5h1.5M133.75 600h1.5M133.75 600.5h1.5M133.75 601h1.5M133.75 602h1.5M133.75 602.5h1.5M133.75 603.5h1.5M133.75 604h1.5M133.75 605h1.5M133.75 605.5h1.5M133.75 606.5h1.5M133.75 607.5h1.5M133.75 608.5h1.5M133.75 609.5h1.5M133.75 610.5h1.5M133.75 612h1.5M133.75 613.5h1.5M133.75 614.5h1.5M133.75 616.5h1.5M133.75 618h1.5M133.75 620h1.5M133.75 622h1.5M133.75 625h1.5M133.75 628h1.5M133.75 631.5h1.5M133.75 636h1.5M133.75 643h1.5M134.75 581.5h1.5M134.75 583h1.5M134.75 583.5h1.5M134.75 585.5h1.5M134.75 586.5h1.5M134.75 587h1.5M134.75 588.5h1.5M134.75 590h1.5M134.75 590.5h1.5M134.75 591.5h1.5M134.75 592h1.5M134.75 592.5h1.5M134.75 593h1.5M134.75 594h1.5M134.75 595h1.5M134.75 595.5h1.5M134.75 596h1.5M134.75 596.5h1.5M134.75 597h1.5M134.75 597.5h1.5M134.75 598h1.5M134.75 598.5h1.5M134.75 599.5h1.5M134.75 600h1.5M134.75 600.5h1.5M134.75 601h1.5M134.75 602h1.5M134.75 602.5h1.5M134.75 603.5h1.5M134.75 604h1.5M134.75 605h1.5M134.75 605.5h1.5M134.75 606.5h1.5M134.75 607.5h1.5M134.75 608.5h1.5M134.75 609.5h1.5M134.75 610.5h1.5M134.75 612h1.5M134.75 613.5h1.5M134.75 614.5h1.5M134.75 616.5h1.5M134.75 618h1.5M134.75 620h1.5M134.75 622h1.5M134.75 625h1.5M134.75 628h1.5M134.75 636h1.5M135.25 583.5h1.5M135.25 584.5h1.5M135.25 585.5h1.5M135.25 586.5h1.5M135.25 588.5h1.5M135.25 589.5h1.5M135.25 590.5h1.5M135.25 591h1.5M135.25 592h1.5M135.25 592.5h1.5M135.25 593.5h1.5M135.25 594h1.5M135.25 594.5h1.5M135.25 595h1.5M135.25 595.5h1.5M135.25 596.5h1.5M135.25 597h1.5M135.25 597.5h1.5M135.25 598h1.5M135.25 598.5h1.5M135.25 599.5h1.5M135.25 600h1.5M135.25 601h1.5M135.25 602h1.5M135.25 602.5h1.5M135.25 603.5h1.5M135.25 604h1.5M135.25 605h1.5M135.25 605.5h1.5M135.25 606.5h1.5M135.25 607.5h1.5M135.25 608.5h1.5M135.25 609.5h1.5M135.25 610.5h1.5M135.25 612h1.5M135.25 613.5h1.5M135.25 614.5h1.5M135.25 616.5h1.5M135.25 618h1.5M135.25 620h1.5M135.25 622h1.5M135.25 625h1.5M135.25 628h1.5M135.25 631.5h1.5M135.25 636h1.5M136.25 582h1.5M136.25 582.5h1.5M136.25 584.5h1.5M136.25 589.5h1.5M136.25 590h1.5M136.25 591h1.5M136.25 591.5h1.5M136.25 592h1.5M136.25 592.5h1.5M136.25 593h1.5M136.25 593.5h1.5M136.25 594h1.5M136.25 594.5h1.5M136.25 595h1.5M136.25 595.5h1.5M136.25 596h1.5M136.25 597h1.5M136.25 597.5h1.5M136.25 598h1.5M136.25 598.5h1.5M136.25 599.5h1.5M136.25 600h1.5M136.25 600.5h1.5M136.25 601h1.5M136.25 602h1.5M136.25 602.5h1.5M136.25 603.5h1.5M136.25 604h1.5M136.25 605h1.5M136.25 605.5h1.5M136.25 606.5h1.5M136.25 607.5h1.5M136.25 608.5h1.5M136.25 609.5h1.5M136.25 610.5h1.5M136.25 612h1.5M136.25 613.5h1.5M136.25 614.5h1.5M136.25 616.5h1.5M136.25 618h1.5M136.25 620h1.5M136.25 622h1.5M136.25 625h1.5M136.25 628h1.5M136.25 631.5h1.5M136.75 585h1.5M136.75 585.5h1.5M136.75 587h1.5M136.75 589h1.5M136.75 589.5h1.5M136.75 590h1.5M136.75 590.5h1.5M136.75 591h1.5M136.75 591.5h1.5M136.75 592h1.5M136.75 592.5h1.5M136.75 593.5h1.5M136.75 594h1.5M136.75 594.5h1.5M136.75 595h1.5M136.75 595.5h1.5M136.75 596h1.5M136.75 596.5h1.5M136.75 597h1.5M136.75 597.5h1.5M136.75 598h1.5M136.75 598.5h1.5M136.75 599.5h1.5M136.75 600h1.5M136.75 600.5h1.5M136.75 601h1.5M136.75 602h1.5M136.75 602.5h1.5M136.75 603.5h1.5M136.75 604h1.5M136.75 605h1.5M136.75 605.5h1.5M136.75 606.5h1.5M136.75 607.5h1.5M136.75 608.5h1.5M136.75 609.5h1.5M136.75 610.5h1.5M136.75 612h1.5M136.75 613.5h1.5M136.75 614.5h1.5M136.75 616.5h1.5M136.75 618h1.5M136.75 620h1.5M136.75 625h1.5M136.75 636h1.5M137.75 581.5h1.5M137.75 582.5h1.5M137.75 583.5h1.5M137.75 584h1.5M137.75 585.5h1.5M137.75 586.5h1.5M137.75 587h1.5M137.75 587.5h1.5M137.75 588.5h1.5M137.75 589.5h1.5M137.75 590h1.5M137.75 590.5h1.5M137.75 591h1.5M137.75 591.5h1.5M137.75 592h1.5M137.75 592.5h1.5M137.75 593h1.5M137.75 593.5h1.5M137.75 594h1.5M137.75 594.5h1.5M137.75 595h1.5M137.75 595.5h1.5M137.75 596h1.5M137.75 596.5h1.5M137.75 597.5h1.5M137.75 598h1.5M137.75 598.5h1.5M137.75 599.5h1.5M137.75 600h1.5M137.75 600.5h1.5M137.75 601h1.5M137.75 602h1.5M137.75 602.5h1.5M137.75 603.5h1.5M137.75 604h1.5M137.75 605h1.5M137.75 605.5h1.5M137.75 606.5h1.5M137.75 607.5h1.5M137.75 608.5h1.5M137.75 609.5h1.5M137.75 610.5h1.5M137.75 612h1.5M137.75 613.5h1.5M137.75 614.5h1.5M137.75 616.5h1.5M137.75 618h1.5M137.75 620h1.5M137.75 622h1.5M137.75 625h1.5M138.25 582.5h1.5M138.25 586.5h1.5M138.25 588.5h1.5M138.25 589.5h1.5M138.25 590h1.5M138.25 590.5h1.5M138.25 591.5h1.5M138.25 592.5h1.5M138.25 593h1.5M138.25 593.5h1.5M138.25 594h1.5M138.25 594.5h1.5M138.25 595h1.5M138.25 595.5h1.5M138.25 596h1.5M138.25 596.5h1.5M138.25 597h1.5M138.25 597.5h1.5M138.25 598h1.5M138.25 599.5h1.5M138.25 600h1.5M138.25 600.5h1.5M138.25 601h1.5M138.25 602h1.5M138.25 602.5h1.5M138.25 603.5h1.5M138.25 604h1.5M138.25 605h1.5M138.25 605.5h1.5M138.25 606.5h1.5M138.25 607.5h1.5M138.25 608.5h1.5M138.25 609.5h1.5M138.25 610.5h1.5M138.25 612h1.5M138.25 613.5h1.5M138.25 614.5h1.5M138.25 618h1.5M138.25 631.5h1.5M138.25 636h1.5M139.25 576h1.5M139.25 582.5h1.5M139.25 585h1.5M139.25 586h1.5M139.25 588h1.5M139.25 589h1.5M139.25 590h1.5M139.25 590.5h1.5M139.25 591h1.5M139.25 591.5h1.5M139.25 592h1.5M139.25 592.5h1.5M139.25 593h1.5M139.25 593.5h1.5M139.25 594h1.5M139.25 594.5h1.5M139.25 595h1.5M139.25 595.5h1.5M139.25 596h1.5M139.25 596.5h1.5M139.25 597h1.5M139.25 597.5h1.5M139.25 598h1.5M139.25 598.5h1.5M139.25 599.5h1.5M139.25 600h1.5M139.25 600.5h1.5M139.25 601h1.5M139.25 602h1.5M139.25 602.5h1.5M139.25 603.5h1.5M139.25 604h1.5M139.25 605h1.5M139.25 605.5h1.5M139.25 606.5h1.5M139.25 607.5h1.5M139.25 608.5h1.5M139.25 609.5h1.5M139.25 610.5h1.5M139.25 612h1.5M139.25 613.5h1.5M139.25 614.5h1.5M139.25 616.5h1.5M139.25 618h1.5M139.25 622h1.5M139.25 625h1.5M139.25 631.5h1.5M139.75 584h1.5M139.75 586h1.5M139.75 586.5h1.5M139.75 587h1.5M139.75 587.5h1.5M139.75 588.5h1.5M139.75 589h1.5M139.75 589.5h1.5M139.75 590h1.5M139.75 590.5h1.5M139.75 591h1.5M139.75 591.5h1.5M139.75 592h1.5M139.75 592.5h1.5M139.75 593h1.5M139.75 593.5h1.5M139.75 594h1.5M139.75 594.5h1.5M139.75 595h1.5M139.75 595.5h1.5M139.75 596h1.5M139.75 597.5h1.5M139.75 598h1.5M139.75 598.5h1.5M139.75 599.5h1.5M139.75 600h1.5M139.75 600.5h1.5M139.75 601h1.5M139.75 602h1.5M139.75 602.5h1.5M139.75 603.5h1.5M139.75 604h1.5M139.75 605h1.5M139.75 605.5h1.5M139.75 606.5h1.5M139.75 607.5h1.5M139.75 608.5h1.5M139.75 609.5h1.5M139.75 610.5h1.5M139.75 612h1.5M139.75 613.5h1.5M139.75 616.5h1.5M139.75 618h1.5M139.75 620h1.5M139.75 628h1.5M140.25 580h1.5M140.25 582.5h1.5M140.25 583.5h1.5M140.25 584h1.5M140.25 584.5h1.5M140.25 585h1.5M140.25 586h1.5M140.25 586.5h1.5M140.25 587h1.5M140.25 588h1.5M140.25 589.5h1.5M140.25 590.5h1.5M140.25 591h1.5M140.25 592h1.5M140.25 592.5h1.5M140.25 593h1.5M140.25 593.5h1.5M140.25 594h1.5M140.25 594.5h1.5M140.25 595h1.5M140.25 595.5h1.5M140.25 596h1.5M140.25 596.5h1.5M140.25 597h1.5M140.25 597.5h1.5M140.25 598h1.5M140.25 598.5h1.5M140.25 599.5h1.5M140.25 600h1.5M140.25 600.5h1.5M140.25 601h1.5M140.25 602h1.5M140.25 602.5h1.5M140.25 603.5h1.5M140.25 604h1.5M140.25 605.5h1.5M140.25 606.5h1.5M140.25 607.5h1.5M140.25 608.5h1.5M140.25 609.5h1.5M140.25 610.5h1.5M140.25 612h1.5M140.25 614.5h1.5M140.25 616.5h1.5M140.25 618h1.5M140.25 620h1.5M140.25 622h1.5M140.75 580.5h1.5M140.75 582.5h1.5M140.75 586h1.5M140.75 587.5h1.5M140.75 588h1.5M140.75 588.5h1.5M140.75 589h1.5M140.75 590h1.5M140.75 590.5h1.5M140.75 591.5h1.5M140.75 592h1.5M140.75 592.5h1.5M140.75 593h1.5M140.75 594h1.5M140.75 594.5h1.5M140.75 595h1.5M140.75 595.5h1.5M140.75 596h1.5M140.75 596.5h1.5M140.75 597h1.5M140.75 597.5h1.5M140.75 598h1.5M140.75 598.5h1.5M140.75 599.5h1.5M140.75 600h1.5M140.75 600.5h1.5M140.75 601h1.5M140.75 602h1.5M140.75 602.5h1.5M140.75 603.5h1.5M140.75 604h1.5M140.75 605h1.5M140.75 605.5h1.5M140.75 606.5h1.5M140.75 607.5h1.5M140.75 608.5h1.5M140.75 609.5h1.5M140.75 610.5h1.5M140.75 612h1.5M140.75 613.5h1.5M140.75 616.5h1.5M140.75 618h1.5M140.75 620h1.5M140.75 628h1.5M140.75 631.5h1.5M141.25 580.5h1.5M141.25 581h1.5M141.25 582h1.5M141.25 583h1.5M141.25 585h1.5M141.25 586.5h1.5M141.25 587h1.5M141.25 587.5h1.5M141.25 588h1.5M141.25 588.5h1.5M141.25 589.5h1.5M141.25 590.5h1.5M141.25 591h1.5M141.25 591.5h1.5M141.25 592h1.5M141.25 592.5h1.5M141.25 593h1.5M141.25 593.5h1.5M141.25 594h1.5M141.25 594.5h1.5M141.25 595h1.5M141.25 595.5h1.5M141.25 596h1.5M141.25 596.5h1.5M141.25 597h1.5M141.25 597.5h1.5M141.25 598h1.5M141.25 598.5h1.5M141.25 599.5h1.5M141.25 600h1.5M141.25 600.5h1.5M141.25 601h1.5M141.25 602h1.5M141.25 602.5h1.5M141.25 603.5h1.5M141.25 604h1.5M141.25 605h1.5M141.25 606.5h1.5M141.25 608.5h1.5M141.25 609.5h1.5M141.25 610.5h1.5M141.25 612h1.5M141.25 613.5h1.5M141.25 614.5h1.5M141.25 616.5h1.5M141.25 618h1.5M141.25 620h1.5M141.25 628h1.5M141.75 573h1.5M141.75 581.5h1.5M141.75 583.5h1.5M141.75 584h1.5M141.75 585h1.5M141.75 585.5h1.5M141.75 586h1.5M141.75 586.5h1.5M141.75 587h1.5M141.75 587.5h1.5M141.75 588.5h1.5M141.75 589.5h1.5M141.75 590.5h1.5M141.75 591h1.5M141.75 591.5h1.5M141.75 592h1.5M141.75 592.5h1.5M141.75 593h1.5M141.75 593.5h1.5M141.75 594h1.5M141.75 594.5h1.5M141.75 595h1.5M141.75 595.5h1.5M141.75 596h1.5M141.75 596.5h1.5M141.75 597h1.5M141.75 597.5h1.5M141.75 598h1.5M141.75 598.5h1.5M141.75 599.5h1.5M141.75 600h1.5M141.75 600.5h1.5M141.75 601h1.5M141.75 602h1.5M141.75 602.5h1.5M141.75 603.5h1.5M141.75 604h1.5M141.75 605h1.5M141.75 605.5h1.5M141.75 607.5h1.5M141.75 608.5h1.5M141.75 609.5h1.5M141.75 610.5h1.5M141.75 612h1.5M141.75 613.5h1.5M141.75 614.5h1.5M141.75 616.5h1.5M141.75 618h1.5M142.25 569h1.5M142.25 578.5h1.5M142.25 581h1.5M142.25 582h1.5M142.25 583.5h1.5M142.25 585.5h1.5M142.25 586.5h1.5M142.25 588h1.5M142.25 588.5h1.5M142.25 589.5h1.5M142.25 590h1.5M142.25 590.5h1.5M142.25 591h1.5M142.25 591.5h1.5M142.25 592h1.5M142.25 592.5h1.5M142.25 593h1.5M142.25 594h1.5M142.25 594.5h1.5M142.25 595h1.5M142.25 595.5h1.5M142.25 596h1.5M142.25 596.5h1.5M142.25 597h1.5M142.25 597.5h1.5M142.25 598h1.5M142.25 598.5h1.5M142.25 599.5h1.5M142.25 600h1.5M142.25 600.5h1.5M142.25 601h1.5M142.25 602h1.5M142.25 602.5h1.5M142.25 603.5h1.5M142.25 604h1.5M142.25 605h1.5M142.25 606.5h1.5M142.25 607.5h1.5M142.25 608.5h1.5M142.25 609.5h1.5M142.25 610.5h1.5M142.25 612h1.5M142.25 616.5h1.5M142.25 620h1.5M142.25 625h1.5M142.75 580h1.5M142.75 581h1.5M142.75 583h1.5M142.75 584h1.5M142.75 584.5h1.5M142.75 585.5h1.5M142.75 586h1.5M142.75 586.5h1.5M142.75 587h1.5M142.75 588h1.5M142.75 588.5h1.5M142.75 589h1.5M142.75 590h1.5M142.75 590.5h1.5M142.75 591h1.5M142.75 591.5h1.5M142.75 592h1.5M142.75 592.5h1.5M142.75 593h1.5M142.75 594h1.5M142.75 594.5h1.5M142.75 595h1.5M142.75 595.5h1.5M142.75 596h1.5M142.75 597h1.5M142.75 597.5h1.5M142.75 598h1.5M142.75 598.5h1.5M142.75 599.5h1.5M142.75 602h1.5M142.75 602.5h1.5M142.75 604h1.5M142.75 605h1.5M142.75 605.5h1.5M142.75 606.5h1.5M142.75 607.5h1.5M142.75 608.5h1.5M142.75 609.5h1.5M142.75 610.5h1.5M142.75 613.5h1.5M142.75 614.5h1.5M142.75 618h1.5M142.75 620h1.5M142.75 622h1.5M143.25 575.5h1.5M143.25 577h1.5M143.25 578.5h1.5M143.25 581h1.5M143.25 582.5h1.5M143.25 583h1.5M143.25 585.5h1.5M143.25 586h1.5M143.25 586.5h1.5M143.25 587h1.5M143.25 588h1.5M143.25 588.5h1.5M143.25 589h1.5M143.25 589.5h1.5M143.25 590h1.5M143.25 590.5h1.5M143.25 591h1.5M143.25 591.5h1.5M143.25 592h1.5M143.25 592.5h1.5M143.25 593h1.5M143.25 593.5h1.5M143.25 594h1.5M143.25 594.5h1.5M143.25 595h1.5M143.25 595.5h1.5M143.25 596h1.5M143.25 596.5h1.5M143.25 597h1.5M143.25 597.5h1.5M143.25 598h1.5M143.25 598.5h1.5M143.25 599.5h1.5M143.25 600h1.5M143.25 600.5h1.5M143.25 601h1.5M143.25 602h1.5M143.25 602.5h1.5M143.25 603.5h1.5M143.25 604h1.5M143.25 605h1.5M143.25 606.5h1.5M143.25 607.5h1.5M143.25 608.5h1.5M143.25 609.5h1.5M143.25 616.5h1.5M143.25 618h1.5M143.25 622h1.5M143.75 580h1.5M143.75 581.5h1.5M143.75 583h1.5M143.75 583.5h1.5M143.75 584.5h1.5M143.75 585.5h1.5M143.75 586h1.5M143.75 586.5h1.5M143.75 588.5h1.5M143.75 590h1.5M143.75 590.5h1.5M143.75 591h1.5M143.75 592h1.5M143.75 592.5h1.5M143.75 593h1.5M143.75 594h1.5M143.75 594.5h1.5M143.75 595h1.5M143.75 595.5h1.5M143.75 596h1.5M143.75 596.5h1.5M143.75 597h1.5M143.75 597.5h1.5M143.75 598h1.5M143.75 598.5h1.5M143.75 599.5h1.5M143.75 600h1.5M143.75 600.5h1.5M143.75 601h1.5M143.75 602h1.5M143.75 602.5h1.5M143.75 603.5h1.5M143.75 604h1.5M143.75 605h1.5M143.75 605.5h1.5M143.75 606.5h1.5M143.75 607.5h1.5M143.75 608.5h1.5M143.75 613.5h1.5M143.75 616.5h1.5M144.25 575.5h1.5M144.25 577h1.5M144.25 581.5h1.5M144.25 582.5h1.5M144.25 583h1.5M144.25 583.5h1.5M144.25 584h1.5M144.25 585h1.5M144.25 585.5h1.5M144.25 586h1.5M144.25 586.5h1.5M144.25 587h1.5M144.25 588.5h1.5M144.25 589h1.5M144.25 589.5h1.5M144.25 590h1.5M144.25 590.5h1.5M144.25 591h1.5M144.25 591.5h1.5M144.25 592h1.5M144.25 592.5h1.5M144.25 593.5h1.5M144.25 594h1.5M144.25 594.5h1.5M144.25 595h1.5M144.25 595.5h1.5M144.25 596h1.5M144.25 596.5h1.5M144.25 597h1.5M144.25 598h1.5M144.25 599.5h1.5M144.25 600h1.5M144.25 600.5h1.5M144.25 601h1.5M144.25 602h1.5M144.25 602.5h1.5M144.25 603.5h1.5M144.25 604h1.5M144.25 605h1.5M144.25 606.5h1.5M144.25 607.5h1.5M144.25 610.5h1.5M144.25 612h1.5M144.25 613.5h1.5M144.25 631.5h1.5M144.75 579h1.5M144.75 582.5h1.5M144.75 584.5h1.5M144.75 585h1.5M144.75 586h1.5M144.75 586.5h1.5M144.75 588h1.5M144.75 588.5h1.5M144.75 589h1.5M144.75 589.5h1.5M144.75 590.5h1.5M144.75 591h1.5M144.75 591.5h1.5M144.75 592h1.5M144.75 592.5h1.5M144.75 593.5h1.5M144.75 594h1.5M144.75 594.5h1.5M144.75 595h1.5M144.75 596h1.5M144.75 596.5h1.5M144.75 597h1.5M144.75 597.5h1.5M144.75 598h1.5M144.75 598.5h1.5M144.75 599.5h1.5M144.75 600h1.5M144.75 600.5h1.5M144.75 601h1.5M144.75 602h1.5M144.75 602.5h1.5M144.75 603.5h1.5M144.75 605h1.5M144.75 605.5h1.5M144.75 606.5h1.5M144.75 607.5h1.5M144.75 609.5h1.5M144.75 610.5h1.5M144.75 612h1.5M144.75 620h1.5M145.25 577h1.5M145.25 579h1.5M145.25 581h1.5M145.25 583h1.5M145.25 583.5h1.5M145.25 584h1.5M145.25 584.5h1.5M145.25 586h1.5M145.25 586.5h1.5M145.25 587h1.5M145.25 587.5h1.5M145.25 588.5h1.5M145.25 589h1.5M145.25 589.5h1.5M145.25 590h1.5M145.25 590.5h1.5M145.25 591h1.5M145.25 591.5h1.5M145.25 592h1.5M145.25 592.5h1.5M145.25 593h1.5M145.25 593.5h1.5M145.25 594h1.5M145.25 594.5h1.5M145.25 595h1.5M145.25 595.5h1.5M145.25 596h1.5M145.25 596.5h1.5M145.25 597h1.5M145.25 597.5h1.5M145.25 598h1.5M145.25 599.5h1.5M145.25 600h1.5M145.25 600.5h1.5M145.25 601h1.5M145.25 602h1.5M145.25 604h1.5M145.25 605h1.5M145.25 605.5h1.5M145.25 606.5h1.5M145.25 607.5h1.5M145.25 608.5h1.5M145.25 609.5h1.5M145.75 575.5h1.5M145.75 576h1.5M145.75 577h1.5M145.75 578.5h1.5M145.75 580h1.5M145.75 582.5h1.5M145.75 583.5h1.5M145.75 584h1.5M145.75 584.5h1.5M145.75 585.5h1.5M145.75 586.5h1.5M145.75 587.5h1.5M145.75 588h1.5M145.75 588.5h1.5M145.75 589h1.5M145.75 589.5h1.5M145.75 590h1.5M145.75 590.5h1.5M145.75 591.5h1.5M145.75 592h1.5M145.75 592.5h1.5M145.75 593.5h1.5M145.75 594h1.5M145.75 594.5h1.5M145.75 595h1.5M145.75 595.5h1.5M145.75 596h1.5M145.75 596.5h1.5M145.75 597h1.5M145.75 597.5h1.5M145.75 598h1.5M145.75 598.5h1.5M145.75 599.5h1.5M145.75 600h1.5M145.75 600.5h1.5M145.75 601h1.5M145.75 602h1.5M145.75 602.5h1.5M145.75 603.5h1.5M145.75 604h1.5M145.75 605h1.5M145.75 607.5h1.5M145.75 612h1.5M145.75 613.5h1.5M145.75 614.5h1.5M146.25 576h1.5M146.25 577.5h1.5M146.25 578.5h1.5M146.25 580.5h1.5M146.25 581.5h1.5M146.25 582.5h1.5M146.25 583h1.5M146.25 583.5h1.5M146.25 584h1.5M146.25 584.5h1.5M146.25 585.5h1.5M146.25 586.5h1.5M146.25 587h1.5M146.25 587.5h1.5M146.25 588h1.5M146.25 588.5h1.5M146.25 589.5h1.5M146.25 590h1.5M146.25 590.5h1.5M146.25 591h1.5M146.25 591.5h1.5M146.25 592h1.5M146.25 592.5h1.5M146.25 593h1.5M146.25 593.5h1.5M146.25 594h1.5M146.25 594.5h1.5M146.25 595h1.5M146.25 595.5h1.5M146.25 596h1.5M146.25 596.5h1.5M146.25 597h1.5M146.25 597.5h1.5M146.25 598h1.5M146.25 599.5h1.5M146.25 600h1.5M146.25 600.5h1.5M146.25 601h1.5M146.25 602h1.5M146.25 602.5h1.5M146.25 604h1.5M146.25 605h1.5M146.25 608.5h1.5M146.25 614.5h1.5M146.25 620h1.5M146.75 578h1.5M146.75 579h1.5M146.75 580.5h1.5M146.75 581h1.5M146.75 581.5h1.5M146.75 582h1.5M146.75 582.5h1.5M146.75 583.5h1.5M146.75 584h1.5M146.75 584.5h1.5M146.75 585h1.5M146.75 585.5h1.5M146.75 586.5h1.5M146.75 587h1.5M146.75 587.5h1.5M146.75 588h1.5M146.75 588.5h1.5M146.75 589h1.5M146.75 589.5h1.5M146.75 590h1.5M146.75 590.5h1.5M146.75 591h1.5M146.75 591.5h1.5M146.75 592h1.5M146.75 592.5h1.5M146.75 593h1.5M146.75 593.5h1.5M146.75 594h1.5M146.75 594.5h1.5M146.75 595h1.5M146.75 595.5h1.5M146.75 596h1.5M146.75 596.5h1.5M146.75 597h1.5M146.75 597.5h1.5M146.75 598h1.5M146.75 598.5h1.5M146.75 599.5h1.5M146.75 600h1.5M146.75 600.5h1.5M146.75 601h1.5M146.75 602h1.5M146.75 602.5h1.5M146.75 603.5h1.5M146.75 604h1.5M146.75 605h1.5M146.75 605.5h1.5M146.75 606.5h1.5M146.75 607.5h1.5M146.75 608.5h1.5M146.75 609.5h1.5M146.75 613.5h1.5M146.75 614.5h1.5M146.75 616.5h1.5M146.75 622h1.5M147.25 578h1.5M147.25 578.5h1.5M147.25 579h1.5M147.25 580h1.5M147.25 580.5h1.5M147.25 581h1.5M147.25 582h1.5M147.25 582.5h1.5M147.25 583h1.5M147.25 583.5h1.5M147.25 584.5h1.5M147.25 585.5h1.5M147.25 587h1.5M147.25 588h1.5M147.25 588.5h1.5M147.25 589.5h1.5M147.25 590h1.5M147.25 590.5h1.5M147.25 591h1.5M147.25 592h1.5M147.25 592.5h1.5M147.25 593h1.5M147.25 593.5h1.5M147.25 594h1.5M147.25 594.5h1.5M147.25 595.5h1.5M147.25 596h1.5M147.25 596.5h1.5M147.25 597h1.5M147.25 597.5h1.5M147.25 598h1.5M147.25 598.5h1.5M147.25 599.5h1.5M147.25 600h1.5M147.25 602h1.5M147.25 604h1.5M147.25 605h1.5M147.25 608.5h1.5M147.25 609.5h1.5M147.25 610.5h1.5M147.25 612h1.5M147.75 575.5h1.5M147.75 577h1.5M147.75 578.5h1.5M147.75 581h1.5M147.75 581.5h1.5M147.75 582h1.5M147.75 582.5h1.5M147.75 583.5h1.5M147.75 584h1.5M147.75 584.5h1.5M147.75 585h1.5M147.75 585.5h1.5M147.75 586h1.5M147.75 586.5h1.5M147.75 587h1.5M147.75 588h1.5M147.75 589h1.5M147.75 589.5h1.5M147.75 590h1.5M147.75 590.5h1.5M147.75 591h1.5M147.75 591.5h1.5M147.75 592h1.5M147.75 592.5h1.5M147.75 593h1.5M147.75 594.5h1.5M147.75 595h1.5M147.75 596h1.5M147.75 596.5h1.5M147.75 597h1.5M147.75 598h1.5M147.75 599.5h1.5M147.75 600h1.5M147.75 600.5h1.5M147.75 601h1.5M147.75 602h1.5M147.75 603.5h1.5M147.75 604h1.5M147.75 608.5h1.5M147.75 610.5h1.5M147.75 612h1.5M147.75 613.5h1.5M148.25 573.5h1.5M148.25 574.5h1.5M148.25 576.5h1.5M148.25 577h1.5M148.25 577.5h1.5M148.25 579.5h1.5M148.25 580h1.5M148.25 581h1.5M148.25 581.5h1.5M148.25 582h1.5M148.25 582.5h1.5M148.25 583h1.5M148.25 583.5h1.5M148.25 584h1.5M148.25 584.5h1.5M148.25 585h1.5M148.25 585.5h1.5M148.25 586h1.5M148.25 586.5h1.5M148.25 587h1.5M148.25 587.5h1.5M148.25 588h1.5M148.25 588.5h1.5M148.25 589h1.5M148.25 589.5h1.5M148.25 590h1.5M148.25 590.5h1.5M148.25 591h1.5M148.25 591.5h1.5M148.25 592h1.5M148.25 592.5h1.5M148.25 593h1.5M148.25 593.5h1.5M148.25 594h1.5M148.25 594.5h1.5M148.25 595h1.5M148.25 595.5h1.5M148.25 596h1.5M148.25 596.5h1.5M148.25 597h1.5M148.25 597.5h1.5M148.25 598h1.5M148.25 598.5h1.5M148.25 599.5h1.5M148.25 600h1.5M148.25 600.5h1.5M148.25 601h1.5M148.25 602h1.5M148.25 602.5h1.5M148.25 603.5h1.5M148.25 604h1.5M148.25 605h1.5M148.25 605.5h1.5M148.25 618h1.5M148.25 622h1.5M148.75 576h1.5M148.75 577h1.5M148.75 577.5h1.5M148.75 578.5h1.5M148.75 579.5h1.5M148.75 582h1.5M148.75 583.5h1.5M148.75 584h1.5M148.75 585h1.5M148.75 585.5h1.5M148.75 586.5h1.5M148.75 587h1.5M148.75 587.5h1.5M148.75 588h1.5M148.75 588.5h1.5M148.75 589h1.5M148.75 589.5h1.5M148.75 590h1.5M148.75 590.5h1.5M148.75 591h1.5M148.75 592h1.5M148.75 592.5h1.5M148.75 593.5h1.5M148.75 594h1.5M148.75 594.5h1.5M148.75 595h1.5M148.75 595.5h1.5M148.75 596.5h1.5M148.75 597h1.5M148.75 597.5h1.5M148.75 598h1.5M148.75 598.5h1.5M148.75 599.5h1.5M148.75 600h1.5M148.75 602.5h1.5M148.75 606.5h1.5M148.75 607.5h1.5M149.25 572h1.5M149.25 572.5h1.5M149.25 578.5h1.5M149.25 580.5h1.5M149.25 581.5h1.5M149.25 582h1.5M149.25 582.5h1.5M149.25 583.5h1.5M149.25 584h1.5M149.25 584.5h1.5M149.25 585h1.5M149.25 585.5h1.5M149.25 586h1.5M149.25 586.5h1.5M149.25 587h1.5M149.25 587.5h1.5M149.25 588h1.5M149.25 588.5h1.5M149.25 589h1.5M149.25 589.5h1.5M149.25 590h1.5M149.25 590.5h1.5M149.25 591.5h1.5M149.25 592h1.5M149.25 592.5h1.5M149.25 593h1.5M149.25 593.5h1.5M149.25 594h1.5M149.25 594.5h1.5M149.25 595h1.5M149.25 596h1.5M149.25 596.5h1.5M149.25 597h1.5M149.25 597.5h1.5M149.25 598h1.5M149.25 598.5h1.5M149.25 600h1.5M149.25 600.5h1.5M149.25 601h1.5M149.25 602h1.5M149.25 603.5h1.5M149.25 605h1.5M149.25 608.5h1.5M149.25 614.5h1.5M149.75 574h1.5M149.75 576h1.5M149.75 577h1.5M149.75 577.5h1.5M149.75 578.5h1.5M149.75 579h1.5M149.75 579.5h1.5M149.75 580h1.5M149.75 581h1.5M149.75 581.5h1.5M149.75 582h1.5M149.75 582.5h1.5M149.75 583h1.5M149.75 583.5h1.5M149.75 584h1.5M149.75 584.5h1.5M149.75 585h1.5M149.75 585.5h1.5M149.75 586h1.5M149.75 586.5h1.5M149.75 587h1.5M149.75 587.5h1.5M149.75 588h1.5M149.75 588.5h1.5M149.75 589h1.5M149.75 589.5h1.5M149.75 590h1.5M149.75 590.5h1.5M149.75 591h1.5M149.75 591.5h1.5M149.75 592h1.5M149.75 592.5h1.5M149.75 593h1.5M149.75 594h1.5M149.75 594.5h1.5M149.75 595h1.5M149.75 595.5h1.5M149.75 596h1.5M149.75 596.5h1.5M149.75 597h1.5M149.75 597.5h1.5M149.75 598h1.5M149.75 598.5h1.5M149.75 599.5h1.5M149.75 600h1.5M149.75 600.5h1.5M149.75 601h1.5M149.75 602h1.5M149.75 602.5h1.5M149.75 603.5h1.5M149.75 605h1.5M149.75 605.5h1.5M149.75 612h1.5M149.75 613.5h1.5M149.75 614.5h1.5M150.25 577.5h1.5M150.25 578h1.5M150.25 578.5h1.5M150.25 580.5h1.5M150.25 582h1.5M150.25 582.5h1.5M150.25 583h1.5M150.25 583.5h1.5M150.25 584h1.5M150.25 584.5h1.5M150.25 585.5h1.5M150.25 586h1.5M150.25 586.5h1.5M150.25 587h1.5M150.25 587.5h1.5M150.25 588h1.5M150.25 588.5h1.5M150.25 589h1.5M150.25 589.5h1.5M150.25 590h1.5M150.25 590.5h1.5M150.25 591h1.5M150.25 591.5h1.5M150.25 592h1.5M150.25 593h1.5M150.25 593.5h1.5M150.25 594h1.5M150.25 595.5h1.5M150.25 596h1.5M150.25 596.5h1.5M150.25 597h1.5M150.25 598h1.5M150.25 598.5h1.5M150.25 599.5h1.5M150.25 600.5h1.5M150.25 603.5h1.5M150.25 604h1.5M150.75 569h1.5M150.75 575h1.5M150.75 576.5h1.5M150.75 577h1.5M150.75 578h1.5M150.75 579h1.5M150.75 579.5h1.5M150.75 580h1.5M150.75 580.5h1.5M150.75 581h1.5M150.75 582h1.5M150.75 582.5h1.5M150.75 583h1.5M150.75 583.5h1.5M150.75 584h1.5M150.75 584.5h1.5M150.75 585h1.5M150.75 585.5h1.5M150.75 586h1.5M150.75 586.5h1.5M150.75 587h1.5M150.75 587.5h1.5M150.75 588h1.5M150.75 588.5h1.5M150.75 589.5h1.5M150.75 590h1.5M150.75 590.5h1.5M150.75 591h1.5M150.75 591.5h1.5M150.75 592h1.5M150.75 592.5h1.5M150.75 593h1.5M150.75 593.5h1.5M150.75 594h1.5M150.75 594.5h1.5M150.75 595.5h1.5M150.75 596h1.5M150.75 596.5h1.5M150.75 597h1.5M150.75 598h1.5M150.75 599.5h1.5M150.75 600.5h1.5M150.75 601h1.5M150.75 602h1.5M150.75 602.5h1.5M150.75 603.5h1.5M150.75 608.5h1.5M150.75 620h1.5M151.25 544h1.5M151.25 573.5h1.5M151.25 575h1.5M151.25 576.5h1.5M151.25 577h1.5M151.25 578h1.5M151.25 578.5h1.5M151.25 579.5h1.5M151.25 580.5h1.5M151.25 581h1.5M151.25 581.5h1.5M151.25 582h1.5M151.25 582.5h1.5M151.25 583h1.5M151.25 583.5h1.5M151.25 584h1.5M151.25 584.5h1.5M151.25 585h1.5M151.25 585.5h1.5M151.25 586h1.5M151.25 586.5h1.5M151.25 587h1.5M151.25 587.5h1.5M151.25 588h1.5M151.25 588.5h1.5M151.25 589h1.5M151.25 589.5h1.5M151.25 590h1.5M151.25 590.5h1.5M151.25 592h1.5M151.25 592.5h1.5M151.25 593h1.5M151.25 593.5h1.5M151.25 594h1.5M151.25 594.5h1.5M151.25 595h1.5M151.25 595.5h1.5M151.25 596h1.5M151.25 596.5h1.5M151.25 597h1.5M151.25 597.5h1.5M151.25 598h1.5M151.25 598.5h1.5M151.25 599.5h1.5M151.25 600h1.5M151.25 600.5h1.5M151.25 601h1.5M151.25 602h1.5M151.25 603.5h1.5M151.25 604h1.5M151.75 572h1.5M151.75 575h1.5M151.75 576.5h1.5M151.75 577h1.5M151.75 577.5h1.5M151.75 578.5h1.5M151.75 579h1.5M151.75 580h1.5M151.75 580.5h1.5M151.75 581h1.5M151.75 581.5h1.5M151.75 582.5h1.5M151.75 583h1.5M151.75 583.5h1.5M151.75 584h1.5M151.75 584.5h1.5M151.75 585h1.5M151.75 585.5h1.5M151.75 586h1.5M151.75 587h1.5M151.75 588h1.5M151.75 589h1.5M151.75 589.5h1.5M151.75 590.5h1.5M151.75 591h1.5M151.75 591.5h1.5M151.75 592h1.5M151.75 592.5h1.5M151.75 593h1.5M151.75 594h1.5M151.75 594.5h1.5M151.75 595h1.5M151.75 597h1.5M151.75 598h1.5M151.75 599.5h1.5M151.75 602.5h1.5M151.75 603.5h1.5M152.25 574h1.5M152.25 574.5h1.5M152.25 575.5h1.5M152.25 576.5h1.5M152.25 577h1.5M152.25 577.5h1.5M152.25 578h1.5M152.25 578.5h1.5M152.25 579h1.5M152.25 579.5h1.5M152.25 580h1.5M152.25 580.5h1.5M152.25 581.5h1.5M152.25 582h1.5M152.25 582.5h1.5M152.25 583h1.5M152.25 583.5h1.5M152.25 584h1.5M152.25 584.5h1.5M152.25 585h1.5M152.25 585.5h1.5M152.25 586h1.5M152.25 586.5h1.5M152.25 587h1.5M152.25 587.5h1.5M152.25 588h1.5M152.25 588.5h1.5M152.25 589h1.5M152.25 589.5h1.5M152.25 590h1.5M152.25 590.5h1.5M152.25 591h1.5M152.25 591.5h1.5M152.25 592h1.5M152.25 593h1.5M152.25 593.5h1.5M152.25 594h1.5M152.25 595h1.5M152.25 595.5h1.5M152.25 596h1.5M152.25 596.5h1.5M152.25 598h1.5M152.25 599.5h1.5M152.25 600h1.5M152.25 600.5h1.5M152.25 601h1.5M152.25 602h1.5M152.25 603.5h1.5M152.75 568h1.5M152.75 570.5h1.5M152.75 573.5h1.5M152.75 576h1.5M152.75 576.5h1.5M152.75 577.5h1.5M152.75 578h1.5M152.75 578.5h1.5M152.75 579h1.5M152.75 579.5h1.5M152.75 580h1.5M152.75 580.5h1.5M152.75 581h1.5M152.75 581.5h1.5M152.75 582h1.5M152.75 582.5h1.5M152.75 583h1.5M152.75 583.5h1.5M152.75 584h1.5M152.75 584.5h1.5M152.75 585.5h1.5M152.75 586h1.5M152.75 586.5h1.5M152.75 587h1.5M152.75 587.5h1.5M152.75 588h1.5M152.75 588.5h1.5M152.75 589h1.5M152.75 589.5h1.5M152.75 590.5h1.5M152.75 591h1.5M152.75 591.5h1.5M152.75 592h1.5M152.75 592.5h1.5M152.75 593h1.5M152.75 594h1.5M152.75 594.5h1.5M152.75 595h1.5M152.75 595.5h1.5M152.75 596h1.5M152.75 598.5h1.5M152.75 599.5h1.5M152.75 600.5h1.5M152.75 602h1.5M152.75 605h1.5M153.25 567h1.5M153.25 568.5h1.5M153.25 570.5h1.5M153.25 573.5h1.5M153.25 574h1.5M153.25 574.5h1.5M153.25 575.5h1.5M153.25 576h1.5M153.25 577h1.5M153.25 577.5h1.5M153.25 578h1.5M153.25 578.5h1.5M153.25 579h1.5M153.25 579.5h1.5M153.25 580h1.5M153.25 580.5h1.5M153.25 581h1.5M153.25 581.5h1.5M153.25 582h1.5M153.25 582.5h1.5M153.25 583h1.5M153.25 583.5h1.5M153.25 584h1.5M153.25 584.5h1.5M153.25 585h1.5M153.25 585.5h1.5M153.25 586h1.5M153.25 586.5h1.5M153.25 587h1.5M153.25 588h1.5M153.25 588.5h1.5M153.25 589.5h1.5M153.25 590h1.5M153.25 590.5h1.5M153.25 591.5h1.5M153.25 592h1.5M153.25 592.5h1.5M153.25 593h1.5M153.25 593.5h1.5M153.25 594h1.5M153.25 594.5h1.5M153.25 595h1.5M153.25 595.5h1.5M153.25 596.5h1.5M153.25 597h1.5M153.25 597.5h1.5M153.25 598h1.5M153.25 598.5h1.5M153.25 600h1.5M153.25 600.5h1.5M153.25 601h1.5M153.25 602h1.5M153.25 603.5h1.5M153.25 605h1.5M153.25 608.5h1.5M153.75 567.5h1.5M153.75 568h1.5M153.75 570h1.5M153.75 570.5h1.5M153.75 572h1.5M153.75 573h1.5M153.75 575.5h1.5M153.75 576.5h1.5M153.75 577h1.5M153.75 577.5h1.5M153.75 578h1.5M153.75 578.5h1.5M153.75 579h1.5M153.75 579.5h1.5M153.75 580h1.5M153.75 580.5h1.5M153.75 581h1.5M153.75 581.5h1.5M153.75 582h1.5M153.75 582.5h1.5M153.75 583h1.5M153.75 583.5h1.5M153.75 584h1.5M153.75 584.5h1.5M153.75 585h1.5M153.75 585.5h1.5M153.75 586h1.5M153.75 586.5h1.5M153.75 587h1.5M153.75 587.5h1.5M153.75 588h1.5M153.75 588.5h1.5M153.75 590h1.5M153.75 590.5h1.5M153.75 591h1.5M153.75 592h1.5M153.75 592.5h1.5M153.75 593h1.5M153.75 593.5h1.5M153.75 594h1.5M153.75 594.5h1.5M153.75 595h1.5M153.75 595.5h1.5M153.75 596h1.5M153.75 597h1.5M153.75 597.5h1.5M153.75 600h1.5M153.75 601h1.5M153.75 602h1.5M154.25 569h1.5M154.25 570h1.5M154.25 572h1.5M154.25 574h1.5M154.25 575.5h1.5M154.25 576.5h1.5M154.25 577h1.5M154.25 577.5h1.5M154.25 579h1.5M154.25 579.5h1.5M154.25 580h1.5M154.25 580.5h1.5M154.25 581h1.5M154.25 581.5h1.5M154.25 582h1.5M154.25 582.5h1.5M154.25 583h1.5M154.25 583.5h1.5M154.25 584h1.5M154.25 584.5h1.5M154.25 585h1.5M154.25 586h1.5M154.25 586.5h1.5M154.25 587h1.5M154.25 587.5h1.5M154.25 588h1.5M154.25 588.5h1.5M154.25 589h1.5M154.25 589.5h1.5M154.25 590h1.5M154.25 590.5h1.5M154.25 591h1.5M154.25 591.5h1.5M154.25 592h1.5M154.25 592.5h1.5M154.25 593h1.5M154.25 593.5h1.5M154.25 594h1.5M154.25 595h1.5M154.25 595.5h1.5M154.25 596h1.5M154.25 596.5h1.5M154.25 597.5h1.5M154.25 598.5h1.5M154.25 600h1.5M154.25 601h1.5M154.25 605.5h1.5M154.75 571.5h1.5M154.75 574h1.5M154.75 574.5h1.5M154.75 575h1.5M154.75 575.5h1.5M154.75 576h1.5M154.75 576.5h1.5M154.75 577h1.5M154.75 577.5h1.5M154.75 578h1.5M154.75 578.5h1.5M154.75 579h1.5M154.75 579.5h1.5M154.75 580h1.5M154.75 581h1.5M154.75 581.5h1.5M154.75 582h1.5M154.75 582.5h1.5M154.75 583h1.5M154.75 583.5h1.5M154.75 584h1.5M154.75 584.5h1.5M154.75 585h1.5M154.75 586h1.5M154.75 586.5h1.5M154.75 587h1.5M154.75 588h1.5M154.75 589h1.5M154.75 589.5h1.5M154.75 590h1.5M154.75 590.5h1.5M154.75 591.5h1.5M154.75 592h1.5M154.75 592.5h1.5M154.75 593h1.5M154.75 594h1.5M154.75 594.5h1.5M154.75 595.5h1.5M154.75 596.5h1.5M154.75 598.5h1.5M154.75 599.5h1.5M154.75 600.5h1.5M154.75 602h1.5M154.75 608.5h1.5M155.25 560.5h1.5M155.25 564h1.5M155.25 565.5h1.5M155.25 568.5h1.5M155.25 574h1.5M155.25 574.5h1.5M155.25 575.5h1.5M155.25 576h1.5M155.25 576.5h1.5M155.25 577h1.5M155.25 577.5h1.5M155.25 579h1.5M155.25 579.5h1.5M155.25 580h1.5M155.25 580.5h1.5M155.25 581h1.5M155.25 582h1.5M155.25 582.5h1.5M155.25 583h1.5M155.25 583.5h1.5M155.25 584h1.5M155.25 584.5h1.5M155.25 585h1.5M155.25 585.5h1.5M155.25 586h1.5M155.25 586.5h1.5M155.25 587h1.5M155.25 587.5h1.5M155.25 588h1.5M155.25 588.5h1.5M155.25 589.5h1.5M155.25 590h1.5M155.25 590.5h1.5M155.25 592h1.5M155.25 592.5h1.5M155.25 593.5h1.5M155.25 594h1.5M155.25 594.5h1.5M155.25 595h1.5M155.25 596.5h1.5M155.25 597h1.5M155.25 597.5h1.5M155.25 600.5h1.5M155.25 601h1.5M155.25 604h1.5M155.75 565h1.5M155.75 568h1.5M155.75 570h1.5M155.75 572.5h1.5M155.75 573h1.5M155.75 573.5h1.5M155.75 574h1.5M155.75 575h1.5M155.75 575.5h1.5M155.75 576.5h1.5M155.75 577h1.5M155.75 577.5h1.5M155.75 578h1.5M155.75 578.5h1.5M155.75 579h1.5M155.75 580.5h1.5M155.75 581h1.5M155.75 581.5h1.5M155.75 582h1.5M155.75 582.5h1.5M155.75 583h1.5M155.75 583.5h1.5M155.75 584h1.5M155.75 584.5h1.5M155.75 585h1.5M155.75 586.5h1.5M155.75 587h1.5M155.75 587.5h1.5M155.75 588h1.5M155.75 588.5h1.5M155.75 589h1.5M155.75 589.5h1.5M155.75 590h1.5M155.75 590.5h1.5M155.75 591h1.5M155.75 592h1.5M155.75 592.5h1.5M155.75 593h1.5M155.75 593.5h1.5M155.75 594h1.5M155.75 594.5h1.5M155.75 595h1.5M155.75 595.5h1.5M155.75 596h1.5M155.75 596.5h1.5M155.75 598h1.5M155.75 598.5h1.5M155.75 601h1.5M155.75 604h1.5M156.25 570.5h1.5M156.25 573.5h1.5M156.25 576h1.5M156.25 576.5h1.5M156.25 577h1.5M156.25 578h1.5M156.25 578.5h1.5M156.25 579h1.5M156.25 579.5h1.5M156.25 580h1.5M156.25 580.5h1.5M156.25 581h1.5M156.25 581.5h1.5M156.25 582h1.5M156.25 582.5h1.5M156.25 583h1.5M156.25 583.5h1.5M156.25 584h1.5M156.25 584.5h1.5M156.25 585.5h1.5M156.25 586h1.5M156.25 586.5h1.5M156.25 587h1.5M156.25 587.5h1.5M156.25 588h1.5M156.25 588.5h1.5M156.25 589.5h1.5M156.25 590h1.5M156.25 590.5h1.5M156.25 591h1.5M156.25 592h1.5M156.25 592.5h1.5M156.25 593.5h1.5M156.25 594h1.5M156.25 595h1.5M156.25 595.5h1.5M156.25 596.5h1.5M156.25 598h1.5M156.25 602h1.5M156.75 566.5h1.5M156.75 568h1.5M156.75 569h1.5M156.75 570.5h1.5M156.75 572h1.5M156.75 573h1.5M156.75 575h1.5M156.75 575.5h1.5M156.75 576h1.5M156.75 576.5h1.5M156.75 577h1.5M156.75 577.5h1.5M156.75 578h1.5M156.75 578.5h1.5M156.75 579h1.5M156.75 579.5h1.5M156.75 580h1.5M156.75 580.5h1.5M156.75 581h1.5M156.75 581.5h1.5M156.75 582h1.5M156.75 582.5h1.5M156.75 583h1.5M156.75 583.5h1.5M156.75 584h1.5M156.75 585h1.5M156.75 586h1.5M156.75 586.5h1.5M156.75 587h1.5M156.75 587.5h1.5M156.75 588h1.5M156.75 588.5h1.5M156.75 589h1.5M156.75 590h1.5M156.75 590.5h1.5M156.75 591h1.5M156.75 592h1.5M156.75 592.5h1.5M156.75 593h1.5M156.75 594h1.5M156.75 594.5h1.5M156.75 596h1.5M156.75 597.5h1.5M156.75 599.5h1.5M157.25 567.5h1.5M157.25 568h1.5M157.25 568.5h1.5M157.25 569h1.5M157.25 569.5h1.5M157.25 570h1.5M157.25 570.5h1.5M157.25 572.5h1.5M157.25 573h1.5M157.25 573.5h1.5M157.25 574h1.5M157.25 574.5h1.5M157.25 575.5h1.5M157.25 576h1.5M157.25 576.5h1.5M157.25 577h1.5M157.25 577.5h1.5M157.25 578h1.5M157.25 578.5h1.5M157.25 579h1.5M157.25 579.5h1.5M157.25 580h1.5M157.25 580.5h1.5M157.25 581h1.5M157.25 581.5h1.5M157.25 582h1.5M157.25 582.5h1.5M157.25 583.5h1.5M157.25 584h1.5M157.25 584.5h1.5M157.25 585h1.5M157.25 585.5h1.5M157.25 586h1.5M157.25 586.5h1.5M157.25 587h1.5M157.25 587.5h1.5M157.25 588h1.5M157.25 588.5h1.5M157.25 589h1.5M157.25 590.5h1.5M157.25 591h1.5M157.25 593h1.5M157.25 593.5h1.5M157.25 594h1.5M157.25 594.5h1.5M157.25 595h1.5M157.25 596h1.5M157.25 597h1.5M157.25 597.5h1.5M157.25 598.5h1.5M157.75 570.5h1.5M157.75 571.5h1.5M157.75 572.5h1.5M157.75 573.5h1.5M157.75 574h1.5M157.75 574.5h1.5M157.75 575h1.5M157.75 575.5h1.5M157.75 576.5h1.5M157.75 577h1.5M157.75 577.5h1.5M157.75 578h1.5M157.75 578.5h1.5M157.75 579h1.5M157.75 579.5h1.5M157.75 580h1.5M157.75 580.5h1.5M157.75 581.5h1.5M157.75 582h1.5M157.75 582.5h1.5M157.75 583h1.5M157.75 584h1.5M157.75 584.5h1.5M157.75 585h1.5M157.75 585.5h1.5M157.75 586h1.5M157.75 586.5h1.5M157.75 587h1.5M157.75 587.5h1.5M157.75 589.5h1.5M157.75 590h1.5M157.75 590.5h1.5M157.75 592h1.5M157.75 594h1.5M157.75 595.5h1.5M157.75 599.5h1.5M157.75 654.5h1.5M158.25 565.5h1.5M158.25 566.5h1.5M158.25 567h1.5M158.25 568h1.5M158.25 573h1.5M158.25 573.5h1.5M158.25 574h1.5M158.25 574.5h1.5M158.25 575h1.5M158.25 575.5h1.5M158.25 576h1.5M158.25 576.5h1.5M158.25 577h1.5M158.25 577.5h1.5M158.25 578h1.5M158.25 578.5h1.5M158.25 579h1.5M158.25 579.5h1.5M158.25 580h1.5M158.25 580.5h1.5M158.25 581h1.5M158.25 581.5h1.5M158.25 582h1.5M158.25 582.5h1.5M158.25 583h1.5M158.25 583.5h1.5M158.25 584h1.5M158.25 584.5h1.5M158.25 585h1.5M158.25 585.5h1.5M158.25 586h1.5M158.25 586.5h1.5M158.25 587h1.5M158.25 587.5h1.5M158.25 588h1.5M158.25 588.5h1.5M158.25 589.5h1.5M158.25 590h1.5M158.25 590.5h1.5M158.25 591h1.5M158.25 591.5h1.5M158.25 592h1.5M158.25 592.5h1.5M158.25 593h1.5M158.25 593.5h1.5M158.25 595h1.5M158.25 595.5h1.5M158.25 596h1.5M158.25 597h1.5M158.25 598.5h1.5M158.25 601h1.5M158.75 566.5h1.5M158.75 569h1.5M158.75 569.5h1.5M158.75 570.5h1.5M158.75 571.5h1.5M158.75 572.5h1.5M158.75 573h1.5M158.75 573.5h1.5M158.75 574.5h1.5M158.75 575h1.5M158.75 575.5h1.5M158.75 576h1.5M158.75 576.5h1.5M158.75 577h1.5M158.75 578h1.5M158.75 578.5h1.5M158.75 579h1.5M158.75 579.5h1.5M158.75 580h1.5M158.75 580.5h1.5M158.75 581h1.5M158.75 581.5h1.5M158.75 582h1.5M158.75 582.5h1.5M158.75 583h1.5M158.75 583.5h1.5M158.75 584h1.5M158.75 584.5h1.5M158.75 585h1.5M158.75 585.5h1.5M158.75 586h1.5M158.75 586.5h1.5M158.75 587h1.5M158.75 587.5h1.5M158.75 588h1.5M158.75 588.5h1.5M158.75 589h1.5M158.75 589.5h1.5M158.75 590h1.5M158.75 590.5h1.5M158.75 591h1.5M158.75 592h1.5M158.75 592.5h1.5M158.75 593.5h1.5M158.75 594h1.5M158.75 594.5h1.5M159.25 564h1.5M159.25 567.5h1.5M159.25 568h1.5M159.25 569h1.5M159.25 569.5h1.5M159.25 570h1.5M159.25 570.5h1.5M159.25 571.5h1.5M159.25 572h1.5M159.25 573.5h1.5M159.25 574h1.5M159.25 574.5h1.5M159.25 575h1.5M159.25 575.5h1.5M159.25 576.5h1.5M159.25 577h1.5M159.25 577.5h1.5M159.25 578h1.5M159.25 578.5h1.5M159.25 579h1.5M159.25 579.5h1.5M159.25 580h1.5M159.25 580.5h1.5M159.25 581h1.5M159.25 581.5h1.5M159.25 582h1.5M159.25 582.5h1.5M159.25 583h1.5M159.25 583.5h1.5M159.25 584h1.5M159.25 584.5h1.5M159.25 585h1.5M159.25 586h1.5M159.25 586.5h1.5M159.25 587h1.5M159.25 587.5h1.5M159.25 588h1.5M159.25 588.5h1.5M159.25 589h1.5M159.25 590h1.5M159.25 592h1.5M159.25 593h1.5M159.25 593.5h1.5M159.25 594.5h1.5M159.25 595.5h1.5M159.25 597.5h1.5M159.25 600h1.5M159.25 600.5h1.5M159.75 560.5h1.5M159.75 566.5h1.5M159.75 567h1.5M159.75 568.5h1.5M159.75 569h1.5M159.75 569.5h1.5M159.75 570.5h1.5M159.75 571h1.5M159.75 571.5h1.5M159.75 572h1.5M159.75 573h1.5M159.75 573.5h1.5M159.75 574h1.5M159.75 574.5h1.5M159.75 575h1.5M159.75 575.5h1.5M159.75 576h1.5M159.75 576.5h1.5M159.75 577h1.5M159.75 577.5h1.5M159.75 578h1.5M159.75 578.5h1.5M159.75 579h1.5M159.75 579.5h1.5M159.75 580h1.5M159.75 580.5h1.5M159.75 581h1.5M159.75 581.5h1.5M159.75 582h1.5M159.75 582.5h1.5M159.75 583h1.5M159.75 583.5h1.5M159.75 584h1.5M159.75 584.5h1.5M159.75 585h1.5M159.75 585.5h1.5M159.75 586h1.5M159.75 586.5h1.5M159.75 587h1.5M159.75 587.5h1.5M159.75 588h1.5M159.75 588.5h1.5M159.75 589h1.5M159.75 589.5h1.5M159.75 590h1.5M159.75 590.5h1.5M159.75 592h1.5M159.75 593.5h1.5M159.75 595.5h1.5M159.75 596h1.5M159.75 598.5h1.5M160.25 559h1.5M160.25 559.5h1.5M160.25 566h1.5M160.25 567.5h1.5M160.25 569h1.5M160.25 570h1.5M160.25 570.5h1.5M160.25 571h1.5M160.25 571.5h1.5M160.25 572h1.5M160.25 572.5h1.5M160.25 573h1.5M160.25 573.5h1.5M160.25 574h1.5M160.25 574.5h1.5M160.25 575h1.5M160.25 575.5h1.5M160.25 576h1.5M160.25 576.5h1.5M160.25 577h1.5M160.25 577.5h1.5M160.25 578h1.5M160.25 578.5h1.5M160.25 579h1.5M160.25 579.5h1.5M160.25 580h1.5M160.25 580.5h1.5M160.25 581h1.5M160.25 581.5h1.5M160.25 582.5h1.5M160.25 583h1.5M160.25 583.5h1.5M160.25 584h1.5M160.25 585h1.5M160.25 585.5h1.5M160.25 586h1.5M160.25 586.5h1.5M160.25 587h1.5M160.25 587.5h1.5M160.25 588h1.5M160.25 588.5h1.5M160.25 589h1.5M160.25 590h1.5M160.25 590.5h1.5M160.25 591h1.5M160.25 598.5h1.5M160.25 601h1.5M160.75 567h1.5M160.75 568h1.5M160.75 569.5h1.5M160.75 570h1.5M160.75 571.5h1.5M160.75 572h1.5M160.75 573h1.5M160.75 573.5h1.5M160.75 574h1.5M160.75 574.5h1.5M160.75 575.5h1.5M160.75 576h1.5M160.75 576.5h1.5M160.75 577.5h1.5M160.75 578h1.5M160.75 578.5h1.5M160.75 579h1.5M160.75 579.5h1.5M160.75 580h1.5M160.75 581h1.5M160.75 581.5h1.5M160.75 582h1.5M160.75 582.5h1.5M160.75 583.5h1.5M160.75 584h1.5M160.75 584.5h1.5M160.75 585h1.5M160.75 586h1.5M160.75 586.5h1.5M160.75 588h1.5M160.75 590.5h1.5M160.75 592h1.5M161.25 562h1.5M161.25 564.5h1.5M161.25 567h1.5M161.25 567.5h1.5M161.25 569.5h1.5M161.25 570h1.5M161.25 570.5h1.5M161.25 572h1.5M161.25 573h1.5M161.25 573.5h1.5M161.25 574h1.5M161.25 574.5h1.5M161.25 575h1.5M161.25 575.5h1.5M161.25 576h1.5M161.25 576.5h1.5M161.25 577h1.5M161.25 577.5h1.5M161.25 578h1.5M161.25 578.5h1.5M161.25 579h1.5M161.25 579.5h1.5M161.25 580h1.5M161.25 580.5h1.5M161.25 581h1.5M161.25 581.5h1.5M161.25 582h1.5M161.25 582.5h1.5M161.25 583h1.5M161.25 583.5h1.5M161.25 584h1.5M161.25 584.5h1.5M161.25 585h1.5M161.25 585.5h1.5M161.25 586h1.5M161.25 586.5h1.5M161.25 588h1.5M161.25 589h1.5M161.25 589.5h1.5M161.25 590h1.5M161.25 590.5h1.5M161.25 591h1.5M161.25 592h1.5M161.25 596.5h1.5M161.25 626h1.5M161.75 561h1.5M161.75 566.5h1.5M161.75 569h1.5M161.75 570h1.5M161.75 570.5h1.5M161.75 571h1.5M161.75 572h1.5M161.75 572.5h1.5M161.75 573h1.5M161.75 573.5h1.5M161.75 574h1.5M161.75 574.5h1.5M161.75 575h1.5M161.75 575.5h1.5M161.75 576.5h1.5M161.75 577h1.5M161.75 577.5h1.5M161.75 578h1.5M161.75 579h1.5M161.75 579.5h1.5M161.75 580h1.5M161.75 580.5h1.5M161.75 581.5h1.5M161.75 582h1.5M161.75 582.5h1.5M161.75 583h1.5M161.75 584h1.5M161.75 584.5h1.5M161.75 585.5h1.5M161.75 586h1.5M161.75 587h1.5M161.75 588h1.5M161.75 588.5h1.5M161.75 589h1.5M161.75 591h1.5M161.75 592h1.5M161.75 593h1.5M161.75 600h1.5M162.25 561.5h1.5M162.25 564h1.5M162.25 564.5h1.5M162.25 565.5h1.5M162.25 566h1.5M162.25 567.5h1.5M162.25 568h1.5M162.25 568.5h1.5M162.25 569h1.5M162.25 569.5h1.5M162.25 570.5h1.5M162.25 571h1.5M162.25 571.5h1.5M162.25 572.5h1.5M162.25 573h1.5M162.25 573.5h1.5M162.25 574h1.5M162.25 574.5h1.5M162.25 575h1.5M162.25 576h1.5M162.25 576.5h1.5M162.25 577h1.5M162.25 577.5h1.5M162.25 578h1.5M162.25 578.5h1.5M162.25 579h1.5M162.25 579.5h1.5M162.25 580h1.5M162.25 581h1.5M162.25 581.5h1.5M162.25 582h1.5M162.25 582.5h1.5M162.25 583h1.5M162.25 584.5h1.5M162.25 585h1.5M162.25 586h1.5M162.25 586.5h1.5M162.25 587h1.5M162.25 588h1.5M162.25 588.5h1.5M162.25 589.5h1.5M162.25 590.5h1.5M162.25 591h1.5M162.25 593.5h1.5M162.25 594h1.5M162.25 597h1.5M162.25 599.5h1.5M162.75 558h1.5M162.75 561h1.5M162.75 565h1.5M162.75 567h1.5M162.75 567.5h1.5M162.75 568h1.5M162.75 569h1.5M162.75 570.5h1.5M162.75 571.5h1.5M162.75 572h1.5M162.75 572.5h1.5M162.75 573h1.5M162.75 573.5h1.5M162.75 574h1.5M162.75 575h1.5M162.75 575.5h1.5M162.75 576h1.5M162.75 576.5h1.5M162.75 577h1.5M162.75 577.5h1.5M162.75 578h1.5M162.75 578.5h1.5M162.75 579h1.5M162.75 579.5h1.5M162.75 580h1.5M162.75 580.5h1.5M162.75 581.5h1.5M162.75 582h1.5M162.75 582.5h1.5M162.75 583h1.5M162.75 584h1.5M162.75 585h1.5M162.75 585.5h1.5M162.75 586.5h1.5M162.75 588h1.5M162.75 598.5h1.5M163.25 561h1.5M163.25 564h1.5M163.25 565h1.5M163.25 565.5h1.5M163.25 566h1.5M163.25 567h1.5M163.25 567.5h1.5M163.25 568h1.5M163.25 568.5h1.5M163.25 569h1.5M163.25 569.5h1.5M163.25 570h1.5M163.25 570.5h1.5M163.25 571h1.5M163.25 571.5h1.5M163.25 572h1.5M163.25 572.5h1.5M163.25 573h1.5M163.25 573.5h1.5M163.25 574h1.5M163.25 574.5h1.5M163.25 575h1.5M163.25 575.5h1.5M163.25 576h1.5M163.25 576.5h1.5M163.25 577h1.5M163.25 577.5h1.5M163.25 578h1.5M163.25 578.5h1.5M163.25 579h1.5M163.25 580h1.5M163.25 580.5h1.5M163.25 581h1.5M163.25 581.5h1.5M163.25 582h1.5M163.25 582.5h1.5M163.25 583h1.5M163.25 583.5h1.5M163.25 584h1.5M163.25 584.5h1.5M163.25 585.5h1.5M163.25 586h1.5M163.25 586.5h1.5M163.25 587.5h1.5M163.25 588h1.5M163.25 588.5h1.5M163.25 589.5h1.5M163.25 591.5h1.5M163.25 592h1.5M163.25 598h1.5M163.25 610.5h1.5M163.75 561h1.5M163.75 562.5h1.5M163.75 563.5h1.5M163.75 565.5h1.5M163.75 566h1.5M163.75 566.5h1.5M163.75 568h1.5M163.75 568.5h1.5M163.75 569h1.5M163.75 569.5h1.5M163.75 570.5h1.5M163.75 571h1.5M163.75 571.5h1.5M163.75 572h1.5M163.75 572.5h1.5M163.75 573h1.5M163.75 573.5h1.5M163.75 574h1.5M163.75 575h1.5M163.75 575.5h1.5M163.75 576h1.5M163.75 576.5h1.5M163.75 577h1.5M163.75 577.5h1.5M163.75 578h1.5M163.75 578.5h1.5M163.75 580h1.5M163.75 580.5h1.5M163.75 581h1.5M163.75 581.5h1.5M163.75 582h1.5M163.75 582.5h1.5M163.75 583h1.5M163.75 583.5h1.5M163.75 584.5h1.5M163.75 585h1.5M163.75 585.5h1.5M163.75 586h1.5M163.75 586.5h1.5M163.75 587h1.5M163.75 589.5h1.5M163.75 590.5h1.5M164.25 563h1.5M164.25 564h1.5M164.25 566h1.5M164.25 567h1.5M164.25 567.5h1.5M164.25 568h1.5M164.25 569h1.5M164.25 569.5h1.5M164.25 570h1.5M164.25 570.5h1.5M164.25 571h1.5M164.25 571.5h1.5M164.25 572h1.5M164.25 572.5h1.5M164.25 573h1.5M164.25 573.5h1.5M164.25 574h1.5M164.25 574.5h1.5M164.25 575h1.5M164.25 575.5h1.5M164.25 576h1.5M164.25 576.5h1.5M164.25 577h1.5M164.25 577.5h1.5M164.25 578h1.5M164.25 578.5h1.5M164.25 579h1.5M164.25 579.5h1.5M164.25 580h1.5M164.25 581h1.5M164.25 581.5h1.5M164.25 582h1.5M164.25 582.5h1.5M164.25 583h1.5M164.25 583.5h1.5M164.25 584h1.5M164.25 585h1.5M164.25 585.5h1.5M164.25 586h1.5M164.25 587h1.5M164.25 588h1.5M164.25 590h1.5M164.25 595.5h1.5M164.75 562.5h1.5M164.75 565.5h1.5M164.75 566h1.5M164.75 566.5h1.5M164.75 567h1.5M164.75 568h1.5M164.75 568.5h1.5M164.75 569.5h1.5M164.75 570h1.5M164.75 570.5h1.5M164.75 571h1.5M164.75 571.5h1.5M164.75 572h1.5M164.75 572.5h1.5M164.75 573h1.5M164.75 573.5h1.5M164.75 574h1.5M164.75 574.5h1.5M164.75 575.5h1.5M164.75 576h1.5M164.75 577h1.5M164.75 577.5h1.5M164.75 578h1.5M164.75 578.5h1.5M164.75 579.5h1.5M164.75 580h1.5M164.75 580.5h1.5M164.75 581h1.5M164.75 582h1.5M164.75 582.5h1.5M164.75 583h1.5M164.75 583.5h1.5M164.75 584h1.5M164.75 586h1.5M164.75 588h1.5M164.75 588.5h1.5M164.75 589.5h1.5M164.75 600h1.5M165.25 561h1.5M165.25 563.5h1.5M165.25 564h1.5M165.25 564.5h1.5M165.25 565.5h1.5M165.25 566h1.5M165.25 568h1.5M165.25 568.5h1.5M165.25 569h1.5M165.25 569.5h1.5M165.25 570.5h1.5M165.25 571.5h1.5M165.25 572.5h1.5M165.25 573h1.5M165.25 573.5h1.5M165.25 574h1.5M165.25 574.5h1.5M165.25 575h1.5M165.25 575.5h1.5M165.25 576.5h1.5M165.25 577h1.5M165.25 577.5h1.5M165.25 578h1.5M165.25 578.5h1.5M165.25 579h1.5M165.25 580h1.5M165.25 581h1.5M165.25 581.5h1.5M165.25 582h1.5M165.25 582.5h1.5M165.25 583h1.5M165.25 584h1.5M165.25 585h1.5M165.25 585.5h1.5M165.25 586.5h1.5M165.25 588h1.5M165.25 590h1.5M165.25 596.5h1.5M165.75 556h1.5M165.75 559.5h1.5M165.75 562h1.5M165.75 563h1.5M165.75 563.5h1.5M165.75 565.5h1.5M165.75 566h1.5M165.75 566.5h1.5M165.75 567h1.5M165.75 567.5h1.5M165.75 568h1.5M165.75 568.5h1.5M165.75 569h1.5M165.75 569.5h1.5M165.75 570h1.5M165.75 570.5h1.5M165.75 571h1.5M165.75 571.5h1.5M165.75 572h1.5M165.75 572.5h1.5M165.75 573h1.5M165.75 573.5h1.5M165.75 574.5h1.5M165.75 575h1.5M165.75 575.5h1.5M165.75 576h1.5M165.75 576.5h1.5M165.75 577h1.5M165.75 577.5h1.5M165.75 578h1.5M165.75 578.5h1.5M165.75 579h1.5M165.75 579.5h1.5M165.75 580h1.5M165.75 581h1.5M165.75 581.5h1.5M165.75 582h1.5M165.75 582.5h1.5M165.75 583.5h1.5M165.75 584h1.5M165.75 585h1.5M165.75 585.5h1.5M165.75 586h1.5M165.75 587.5h1.5M165.75 588.5h1.5M166.25 559.5h1.5M166.25 564.5h1.5M166.25 565.5h1.5M166.25 566.5h1.5M166.25 567h1.5M166.25 568h1.5M166.25 568.5h1.5M166.25 569h1.5M166.25 569.5h1.5M166.25 570h1.5M166.25 570.5h1.5M166.25 571h1.5M166.25 571.5h1.5M166.25 572h1.5M166.25 572.5h1.5M166.25 573h1.5M166.25 573.5h1.5M166.25 574h1.5M166.25 574.5h1.5M166.25 575h1.5M166.25 575.5h1.5M166.25 576.5h1.5M166.25 577h1.5M166.25 577.5h1.5M166.25 578h1.5M166.25 578.5h1.5M166.25 579h1.5M166.25 579.5h1.5M166.25 580h1.5M166.25 581.5h1.5M166.25 582h1.5M166.25 582.5h1.5M166.25 583h1.5M166.25 583.5h1.5M166.25 584h1.5M166.25 586h1.5M166.25 587h1.5M166.25 588h1.5M166.25 589.5h1.5M166.25 590.5h1.5M166.75 563.5h1.5M166.75 564h1.5M166.75 564.5h1.5M166.75 565h1.5M166.75 565.5h1.5M166.75 566h1.5M166.75 567h1.5M166.75 567.5h1.5M166.75 568h1.5M166.75 568.5h1.5M166.75 569h1.5M166.75 569.5h1.5M166.75 570h1.5M166.75 570.5h1.5M166.75 571h1.5M166.75 571.5h1.5M166.75 572h1.5M166.75 572.5h1.5M166.75 573h1.5M166.75 573.5h1.5M166.75 574h1.5M166.75 574.5h1.5M166.75 575h1.5M166.75 575.5h1.5M166.75 576h1.5M166.75 576.5h1.5M166.75 577h1.5M166.75 577.5h1.5M166.75 578h1.5M166.75 578.5h1.5M166.75 579h1.5M166.75 582.5h1.5M166.75 583.5h1.5M166.75 584.5h1.5M166.75 585h1.5M166.75 585.5h1.5M166.75 586h1.5M166.75 592h1.5M167.25 557h1.5M167.25 562h1.5M167.25 563.5h1.5M167.25 564h1.5M167.25 565h1.5M167.25 565.5h1.5M167.25 566h1.5M167.25 566.5h1.5M167.25 567h1.5M167.25 567.5h1.5M167.25 568h1.5M167.25 568.5h1.5M167.25 569h1.5M167.25 569.5h1.5M167.25 570.5h1.5M167.25 571h1.5M167.25 571.5h1.5M167.25 572h1.5M167.25 572.5h1.5M167.25 573h1.5M167.25 573.5h1.5M167.25 574h1.5M167.25 574.5h1.5M167.25 575h1.5M167.25 575.5h1.5M167.25 576h1.5M167.25 576.5h1.5M167.25 577.5h1.5M167.25 578h1.5M167.25 578.5h1.5M167.25 579h1.5M167.25 579.5h1.5M167.25 580h1.5M167.25 581.5h1.5M167.25 583.5h1.5M167.25 585h1.5M167.25 586h1.5M167.25 596.5h1.5M167.75 557h1.5M167.75 558h1.5M167.75 559.5h1.5M167.75 562.5h1.5M167.75 563h1.5M167.75 564h1.5M167.75 564.5h1.5M167.75 565.5h1.5M167.75 566h1.5M167.75 566.5h1.5M167.75 567h1.5M167.75 567.5h1.5M167.75 568h1.5M167.75 568.5h1.5M167.75 569h1.5M167.75 569.5h1.5M167.75 570h1.5M167.75 570.5h1.5M167.75 571h1.5M167.75 571.5h1.5M167.75 572h1.5M167.75 572.5h1.5M167.75 573h1.5M167.75 573.5h1.5M167.75 574h1.5M167.75 575h1.5M167.75 575.5h1.5M167.75 576h1.5M167.75 576.5h1.5M167.75 577h1.5M167.75 577.5h1.5M167.75 578h1.5M167.75 578.5h1.5M167.75 579h1.5M167.75 579.5h1.5M167.75 580.5h1.5M167.75 581h1.5M167.75 581.5h1.5M167.75 583.5h1.5M167.75 587h1.5M167.75 592h1.5M168.25 560.5h1.5M168.25 561.5h1.5M168.25 562h1.5M168.25 562.5h1.5M168.25 564h1.5M168.25 565h1.5M168.25 565.5h1.5M168.25 566h1.5M168.25 566.5h1.5M168.25 567h1.5M168.25 567.5h1.5M168.25 568h1.5M168.25 568.5h1.5M168.25 570h1.5M168.25 570.5h1.5M168.25 571h1.5M168.25 571.5h1.5M168.25 572h1.5M168.25 573h1.5M168.25 573.5h1.5M168.25 574h1.5M168.25 575h1.5M168.25 575.5h1.5M168.25 576h1.5M168.25 577.5h1.5M168.25 578h1.5M168.25 578.5h1.5M168.25 579h1.5M168.25 580h1.5M168.25 581h1.5M168.25 581.5h1.5M168.25 582h1.5M168.25 582.5h1.5M168.25 586.5h1.5M168.25 588h1.5M168.25 593.5h1.5M168.75 556h1.5M168.75 560h1.5M168.75 563h1.5M168.75 564.5h1.5M168.75 565h1.5M168.75 565.5h1.5M168.75 566h1.5M168.75 566.5h1.5M168.75 567h1.5M168.75 567.5h1.5M168.75 568h1.5M168.75 568.5h1.5M168.75 569h1.5M168.75 569.5h1.5M168.75 570h1.5M168.75 570.5h1.5M168.75 571h1.5M168.75 571.5h1.5M168.75 572.5h1.5M168.75 573h1.5M168.75 573.5h1.5M168.75 574h1.5M168.75 574.5h1.5M168.75 575h1.5M168.75 575.5h1.5M168.75 576h1.5M168.75 577h1.5M168.75 577.5h1.5M168.75 578h1.5M168.75 578.5h1.5M168.75 579h1.5M168.75 580h1.5M168.75 581h1.5M168.75 582.5h1.5M168.75 584.5h1.5M169.25 558h1.5M169.25 560h1.5M169.25 560.5h1.5M169.25 561h1.5M169.25 561.5h1.5M169.25 562h1.5M169.25 563h1.5M169.25 563.5h1.5M169.25 564.5h1.5M169.25 565h1.5M169.25 565.5h1.5M169.25 566h1.5M169.25 566.5h1.5M169.25 567h1.5M169.25 568h1.5M169.25 568.5h1.5M169.25 569h1.5M169.25 569.5h1.5M169.25 570h1.5M169.25 570.5h1.5M169.25 571h1.5M169.25 571.5h1.5M169.25 572h1.5M169.25 572.5h1.5M169.25 573h1.5M169.25 573.5h1.5M169.25 574h1.5M169.25 574.5h1.5M169.25 576h1.5M169.25 576.5h1.5M169.25 577h1.5M169.25 580h1.5M169.25 581h1.5M169.25 582h1.5M169.25 583h1.5M169.25 586h1.5M169.75 555.5h1.5M169.75 557h1.5M169.75 558h1.5M169.75 559h1.5M169.75 559.5h1.5M169.75 560h1.5M169.75 561h1.5M169.75 562.5h1.5M169.75 563h1.5M169.75 563.5h1.5M169.75 564h1.5M169.75 564.5h1.5M169.75 565h1.5M169.75 565.5h1.5M169.75 566h1.5M169.75 566.5h1.5M169.75 567.5h1.5M169.75 568h1.5M169.75 569h1.5M169.75 569.5h1.5M169.75 570h1.5M169.75 570.5h1.5M169.75 571.5h1.5M169.75 572h1.5M169.75 572.5h1.5M169.75 573h1.5M169.75 573.5h1.5M169.75 574h1.5M169.75 574.5h1.5M169.75 575h1.5M169.75 575.5h1.5M169.75 576h1.5M169.75 577h1.5M169.75 577.5h1.5M169.75 578h1.5M169.75 578.5h1.5M169.75 579.5h1.5M169.75 580h1.5M169.75 580.5h1.5M169.75 581h1.5M169.75 582.5h1.5M169.75 583h1.5M169.75 584.5h1.5M169.75 585.5h1.5M169.75 589.5h1.5M170.25 556h1.5M170.25 558.5h1.5M170.25 560h1.5M170.25 561h1.5M170.25 561.5h1.5M170.25 562h1.5M170.25 563h1.5M170.25 563.5h1.5M170.25 564h1.5M170.25 564.5h1.5M170.25 565.5h1.5M170.25 566h1.5M170.25 566.5h1.5M170.25 567h1.5M170.25 567.5h1.5M170.25 568h1.5M170.25 568.5h1.5M170.25 569.5h1.5M170.25 570.5h1.5M170.25 571h1.5M170.25 571.5h1.5M170.25 572.5h1.5M170.25 573.5h1.5M170.25 574h1.5M170.25 575h1.5M170.25 575.5h1.5M170.25 576h1.5M170.25 577h1.5M170.25 577.5h1.5M170.25 580h1.5M170.25 580.5h1.5M170.25 581h1.5M170.25 581.5h1.5M170.25 582h1.5M170.25 582.5h1.5M170.25 584.5h1.5M170.25 587h1.5M170.75 558h1.5M170.75 559.5h1.5M170.75 560h1.5M170.75 560.5h1.5M170.75 561h1.5M170.75 562h1.5M170.75 563h1.5M170.75 563.5h1.5M170.75 565h1.5M170.75 566.5h1.5M170.75 567h1.5M170.75 567.5h1.5M170.75 568h1.5M170.75 568.5h1.5M170.75 569h1.5M170.75 569.5h1.5M170.75 570h1.5M170.75 570.5h1.5M170.75 571h1.5M170.75 571.5h1.5M170.75 572h1.5M170.75 572.5h1.5M170.75 573h1.5M170.75 573.5h1.5M170.75 574h1.5M170.75 575h1.5M170.75 575.5h1.5M170.75 576.5h1.5M170.75 577h1.5M170.75 577.5h1.5M170.75 578h1.5M170.75 578.5h1.5M170.75 579.5h1.5M170.75 580h1.5M170.75 582.5h1.5M171.25 558h1.5M171.25 560h1.5M171.25 561h1.5M171.25 562h1.5M171.25 562.5h1.5M171.25 563h1.5M171.25 564h1.5M171.25 564.5h1.5M171.25 565h1.5M171.25 565.5h1.5M171.25 566h1.5M171.25 566.5h1.5M171.25 567h1.5M171.25 567.5h1.5M171.25 568h1.5M171.25 568.5h1.5M171.25 569h1.5M171.25 569.5h1.5M171.25 570h1.5M171.25 570.5h1.5M171.25 571h1.5M171.25 571.5h1.5M171.25 572h1.5M171.25 572.5h1.5M171.25 573h1.5M171.25 573.5h1.5M171.25 574h1.5M171.25 574.5h1.5M171.25 575h1.5M171.25 575.5h1.5M171.25 576.5h1.5M171.25 577h1.5M171.25 577.5h1.5M171.25 579.5h1.5M171.25 580h1.5M171.25 580.5h1.5M171.25 581.5h1.5M171.25 582.5h1.5M171.75 557h1.5M171.75 558.5h1.5M171.75 559h1.5M171.75 559.5h1.5M171.75 560.5h1.5M171.75 561.5h1.5M171.75 562h1.5M171.75 562.5h1.5M171.75 563h1.5M171.75 563.5h1.5M171.75 564h1.5M171.75 564.5h1.5M171.75 566h1.5M171.75 566.5h1.5M171.75 567h1.5M171.75 567.5h1.5M171.75 568h1.5M171.75 568.5h1.5M171.75 569h1.5M171.75 569.5h1.5M171.75 570h1.5M171.75 570.5h1.5M171.75 571h1.5M171.75 571.5h1.5M171.75 572h1.5M171.75 572.5h1.5M171.75 573h1.5M171.75 573.5h1.5M171.75 574h1.5M171.75 574.5h1.5M171.75 575h1.5M171.75 575.5h1.5M171.75 576h1.5M171.75 577.5h1.5M171.75 578h1.5M171.75 578.5h1.5M171.75 579h1.5M171.75 580h1.5M171.75 583h1.5M171.75 585h1.5M172.25 556h1.5M172.25 557h1.5M172.25 558h1.5M172.25 559h1.5M172.25 561h1.5M172.25 561.5h1.5M172.25 562h1.5M172.25 562.5h1.5M172.25 563h1.5M172.25 563.5h1.5M172.25 564h1.5M172.25 564.5h1.5M172.25 565.5h1.5M172.25 566h1.5M172.25 566.5h1.5M172.25 567h1.5M172.25 567.5h1.5M172.25 568h1.5M172.25 568.5h1.5M172.25 569h1.5M172.25 569.5h1.5M172.25 570h1.5M172.25 570.5h1.5M172.25 571h1.5M172.25 571.5h1.5M172.25 572h1.5M172.25 572.5h1.5M172.25 573h1.5M172.25 574h1.5M172.25 574.5h1.5M172.25 575h1.5M172.25 575.5h1.5M172.25 576h1.5M172.25 576.5h1.5M172.25 577h1.5M172.25 578h1.5M172.25 579.5h1.5M172.25 583h1.5M172.75 555h1.5M172.75 555.5h1.5M172.75 556.5h1.5M172.75 558.5h1.5M172.75 560.5h1.5M172.75 561h1.5M172.75 561.5h1.5M172.75 562.5h1.5M172.75 563h1.5M172.75 563.5h1.5M172.75 564h1.5M172.75 564.5h1.5M172.75 565h1.5M172.75 565.5h1.5M172.75 566h1.5M172.75 566.5h1.5M172.75 567h1.5M172.75 567.5h1.5M172.75 568.5h1.5M172.75 569h1.5M172.75 570h1.5M172.75 570.5h1.5M172.75 571h1.5M172.75 571.5h1.5M172.75 572h1.5M172.75 572.5h1.5M172.75 573h1.5M172.75 573.5h1.5M172.75 574h1.5M172.75 574.5h1.5M172.75 575h1.5M172.75 575.5h1.5M172.75 576h1.5M172.75 577h1.5M172.75 577.5h1.5M172.75 578.5h1.5M172.75 579h1.5M172.75 580.5h1.5M173.25 554.5h1.5M173.25 556h1.5M173.25 557h1.5M173.25 559h1.5M173.25 560h1.5M173.25 561.5h1.5M173.25 562.5h1.5M173.25 563h1.5M173.25 563.5h1.5M173.25 564.5h1.5M173.25 565h1.5M173.25 565.5h1.5M173.25 566h1.5M173.25 567h1.5M173.25 567.5h1.5M173.25 568h1.5M173.25 568.5h1.5M173.25 569h1.5M173.25 569.5h1.5M173.25 570h1.5M173.25 570.5h1.5M173.25 571.5h1.5M173.25 572h1.5M173.25 572.5h1.5M173.25 573h1.5M173.25 573.5h1.5M173.25 575h1.5M173.25 575.5h1.5M173.25 576h1.5M173.25 577h1.5M173.25 578h1.5M173.25 580.5h1.5M173.75 554.5h1.5M173.75 555h1.5M173.75 559.5h1.5M173.75 560h1.5M173.75 560.5h1.5M173.75 561h1.5M173.75 562h1.5M173.75 562.5h1.5M173.75 563h1.5M173.75 563.5h1.5M173.75 564h1.5M173.75 564.5h1.5M173.75 565h1.5M173.75 565.5h1.5M173.75 566h1.5M173.75 566.5h1.5M173.75 567h1.5M173.75 567.5h1.5M173.75 568h1.5M173.75 568.5h1.5M173.75 569.5h1.5M173.75 570h1.5M173.75 570.5h1.5M173.75 571h1.5M173.75 571.5h1.5M173.75 572h1.5M173.75 572.5h1.5M173.75 573h1.5M173.75 573.5h1.5M173.75 574.5h1.5M173.75 575h1.5M173.75 576.5h1.5M173.75 577h1.5M173.75 580.5h1.5M174.25 557h1.5M174.25 557.5h1.5M174.25 558h1.5M174.25 559.5h1.5M174.25 560h1.5M174.25 560.5h1.5M174.25 561h1.5M174.25 561.5h1.5M174.25 562h1.5M174.25 562.5h1.5M174.25 563h1.5M174.25 563.5h1.5M174.25 564h1.5M174.25 565h1.5M174.25 565.5h1.5M174.25 566h1.5M174.25 566.5h1.5M174.25 567h1.5M174.25 567.5h1.5M174.25 568h1.5M174.25 568.5h1.5M174.25 569h1.5M174.25 570h1.5M174.25 570.5h1.5M174.25 571h1.5M174.25 572.5h1.5M174.25 573h1.5M174.25 574h1.5M174.25 575h1.5M174.25 576h1.5M174.25 577.5h1.5M174.25 578.5h1.5M174.75 554.5h1.5M174.75 555.5h1.5M174.75 556.5h1.5M174.75 557.5h1.5M174.75 558h1.5M174.75 558.5h1.5M174.75 559h1.5M174.75 559.5h1.5M174.75 560.5h1.5M174.75 561h1.5M174.75 561.5h1.5M174.75 562h1.5M174.75 562.5h1.5M174.75 563h1.5M174.75 563.5h1.5M174.75 564h1.5M174.75 564.5h1.5M174.75 565h1.5M174.75 566h1.5M174.75 566.5h1.5M174.75 567h1.5M174.75 567.5h1.5M174.75 568h1.5M174.75 568.5h1.5M174.75 569h1.5M174.75 569.5h1.5M174.75 570h1.5M174.75 570.5h1.5M174.75 571h1.5M174.75 572h1.5M174.75 573h1.5M174.75 573.5h1.5M174.75 574h1.5M174.75 575h1.5M174.75 577h1.5M174.75 578.5h1.5M174.75 582h1.5M175.25 552.5h1.5M175.25 553.5h1.5M175.25 555h1.5M175.25 555.5h1.5M175.25 556h1.5M175.25 556.5h1.5M175.25 557h1.5M175.25 557.5h1.5M175.25 558.5h1.5M175.25 559.5h1.5M175.25 560h1.5M175.25 561h1.5M175.25 561.5h1.5M175.25 562.5h1.5M175.25 563h1.5M175.25 563.5h1.5M175.25 564h1.5M175.25 564.5h1.5M175.25 565h1.5M175.25 565.5h1.5M175.25 566h1.5M175.25 566.5h1.5M175.25 567h1.5M175.25 567.5h1.5M175.25 568h1.5M175.25 568.5h1.5M175.25 569h1.5M175.25 569.5h1.5M175.25 570h1.5M175.25 572h1.5M175.25 572.5h1.5M175.25 573h1.5M175.25 573.5h1.5M175.25 574h1.5M175.25 574.5h1.5M175.25 575h1.5M175.25 575.5h1.5M175.25 576h1.5M175.25 579h1.5M175.25 582.5h1.5M175.25 584.5h1.5M175.75 550h1.5M175.75 551.5h1.5M175.75 553h1.5M175.75 554.5h1.5M175.75 555h1.5M175.75 555.5h1.5M175.75 556h1.5M175.75 557h1.5M175.75 557.5h1.5M175.75 559h1.5M175.75 559.5h1.5M175.75 560h1.5M175.75 560.5h1.5M175.75 561.5h1.5M175.75 562h1.5M175.75 562.5h1.5M175.75 563h1.5M175.75 563.5h1.5M175.75 564h1.5M175.75 564.5h1.5M175.75 565h1.5M175.75 565.5h1.5M175.75 566h1.5M175.75 566.5h1.5M175.75 567.5h1.5M175.75 568h1.5M175.75 568.5h1.5M175.75 569h1.5M175.75 570.5h1.5M175.75 571h1.5M175.75 571.5h1.5M175.75 572h1.5M175.75 572.5h1.5M175.75 573h1.5M175.75 573.5h1.5M175.75 574h1.5M175.75 574.5h1.5M175.75 576.5h1.5M175.75 577h1.5M175.75 577.5h1.5M175.75 578h1.5M175.75 578.5h1.5M175.75 580h1.5M176.25 550.5h1.5M176.25 553h1.5M176.25 553.5h1.5M176.25 554h1.5M176.25 554.5h1.5M176.25 555h1.5M176.25 555.5h1.5M176.25 556h1.5M176.25 557h1.5M176.25 557.5h1.5M176.25 558h1.5M176.25 558.5h1.5M176.25 559h1.5M176.25 559.5h1.5M176.25 560h1.5M176.25 560.5h1.5M176.25 561h1.5M176.25 562h1.5M176.25 562.5h1.5M176.25 563h1.5M176.25 563.5h1.5M176.25 564h1.5M176.25 564.5h1.5M176.25 565h1.5M176.25 565.5h1.5M176.25 566h1.5M176.25 566.5h1.5M176.25 567h1.5M176.25 567.5h1.5M176.25 568h1.5M176.25 568.5h1.5M176.25 569h1.5M176.25 569.5h1.5M176.25 570h1.5M176.25 570.5h1.5M176.25 571.5h1.5M176.25 572h1.5M176.25 572.5h1.5M176.25 573h1.5M176.25 574h1.5M176.25 575h1.5M176.25 577h1.5M176.25 577.5h1.5M176.25 582h1.5M176.75 550.5h1.5M176.75 552h1.5M176.75 554.5h1.5M176.75 555h1.5M176.75 556h1.5M176.75 556.5h1.5M176.75 557.5h1.5M176.75 558.5h1.5M176.75 559h1.5M176.75 559.5h1.5M176.75 560h1.5M176.75 561h1.5M176.75 561.5h1.5M176.75 562h1.5M176.75 562.5h1.5M176.75 563h1.5M176.75 563.5h1.5M176.75 564h1.5M176.75 564.5h1.5M176.75 565.5h1.5M176.75 566h1.5M176.75 566.5h1.5M176.75 567h1.5M176.75 567.5h1.5M176.75 568h1.5M176.75 568.5h1.5M176.75 569h1.5M176.75 569.5h1.5M176.75 570h1.5M176.75 570.5h1.5M176.75 571h1.5M176.75 571.5h1.5M176.75 572h1.5M176.75 573h1.5M176.75 573.5h1.5M176.75 579h1.5M177.25 551.5h1.5M177.25 552.5h1.5M177.25 553.5h1.5M177.25 555h1.5M177.25 556h1.5M177.25 556.5h1.5M177.25 557.5h1.5M177.25 558h1.5M177.25 559h1.5M177.25 559.5h1.5M177.25 560h1.5M177.25 560.5h1.5M177.25 561h1.5M177.25 561.5h1.5M177.25 562.5h1.5M177.25 563h1.5M177.25 563.5h1.5M177.25 564h1.5M177.25 564.5h1.5M177.25 565h1.5M177.25 566h1.5M177.25 567h1.5M177.25 567.5h1.5M177.25 568h1.5M177.25 568.5h1.5M177.25 569h1.5M177.25 569.5h1.5M177.25 570h1.5M177.25 572.5h1.5M177.25 573h1.5M177.25 574.5h1.5M177.25 575h1.5M177.25 576h1.5M177.25 577h1.5M177.25 577.5h1.5M177.25 581.5h1.5M177.75 550h1.5M177.75 551h1.5M177.75 552h1.5M177.75 553h1.5M177.75 555.5h1.5M177.75 556h1.5M177.75 556.5h1.5M177.75 557h1.5M177.75 558h1.5M177.75 558.5h1.5M177.75 559h1.5M177.75 559.5h1.5M177.75 560h1.5M177.75 560.5h1.5M177.75 561h1.5M177.75 561.5h1.5M177.75 562h1.5M177.75 562.5h1.5M177.75 563.5h1.5M177.75 564h1.5M177.75 564.5h1.5M177.75 565h1.5M177.75 565.5h1.5M177.75 566h1.5M177.75 566.5h1.5M177.75 567.5h1.5M177.75 569.5h1.5M177.75 573h1.5M177.75 574h1.5M177.75 575h1.5M177.75 576.5h1.5M178.25 548h1.5M178.25 551.5h1.5M178.25 552h1.5M178.25 554.5h1.5M178.25 555.5h1.5M178.25 557h1.5M178.25 558h1.5M178.25 558.5h1.5M178.25 559h1.5M178.25 559.5h1.5M178.25 560h1.5M178.25 560.5h1.5M178.25 561h1.5M178.25 561.5h1.5M178.25 562h1.5M178.25 562.5h1.5M178.25 563h1.5M178.25 563.5h1.5M178.25 564h1.5M178.25 564.5h1.5M178.25 565h1.5M178.25 565.5h1.5M178.25 566h1.5M178.25 566.5h1.5M178.25 567h1.5M178.25 567.5h1.5M178.25 568h1.5M178.25 569h1.5M178.25 569.5h1.5M178.25 570h1.5M178.25 573.5h1.5M178.25 576.5h1.5M178.75 549.5h1.5M178.75 550.5h1.5M178.75 553h1.5M178.75 554h1.5M178.75 554.5h1.5M178.75 555h1.5M178.75 556h1.5M178.75 556.5h1.5M178.75 557h1.5M178.75 557.5h1.5M178.75 559h1.5M178.75 559.5h1.5M178.75 560h1.5M178.75 560.5h1.5M178.75 561h1.5M178.75 561.5h1.5M178.75 562h1.5M178.75 562.5h1.5M178.75 563h1.5M178.75 563.5h1.5M178.75 564h1.5M178.75 564.5h1.5M178.75 565h1.5M178.75 565.5h1.5M178.75 566h1.5M178.75 566.5h1.5M178.75 567h1.5M178.75 568h1.5M178.75 570h1.5M178.75 571h1.5M178.75 571.5h1.5M178.75 573h1.5M178.75 574h1.5M178.75 582h1.5M179.25 545.5h1.5M179.25 552h1.5M179.25 552.5h1.5M179.25 553.5h1.5M179.25 555.5h1.5M179.25 556h1.5M179.25 556.5h1.5M179.25 557h1.5M179.25 557.5h1.5M179.25 558h1.5M179.25 558.5h1.5M179.25 559h1.5M179.25 559.5h1.5M179.25 560h1.5M179.25 560.5h1.5M179.25 561h1.5M179.25 562.5h1.5M179.25 563.5h1.5M179.25 564h1.5M179.25 565h1.5M179.25 566h1.5M179.25 566.5h1.5M179.25 568h1.5M179.25 568.5h1.5M179.25 569h1.5M179.25 569.5h1.5M179.25 571h1.5M179.25 574h1.5M179.25 575.5h1.5M179.75 551h1.5M179.75 552h1.5M179.75 552.5h1.5M179.75 553h1.5M179.75 554h1.5M179.75 554.5h1.5M179.75 555.5h1.5M179.75 556h1.5M179.75 556.5h1.5M179.75 557h1.5M179.75 557.5h1.5M179.75 558.5h1.5M179.75 559h1.5M179.75 559.5h1.5M179.75 560h1.5M179.75 560.5h1.5M179.75 561h1.5M179.75 561.5h1.5M179.75 562h1.5M179.75 562.5h1.5M179.75 563.5h1.5M179.75 564h1.5M179.75 564.5h1.5M179.75 565.5h1.5M179.75 566h1.5M179.75 566.5h1.5M179.75 567h1.5M179.75 567.5h1.5M179.75 569.5h1.5M179.75 570h1.5M179.75 570.5h1.5M179.75 571.5h1.5M179.75 574.5h1.5M179.75 575.5h1.5M180.25 545.5h1.5M180.25 546h1.5M180.25 546.5h1.5M180.25 550.5h1.5M180.25 552.5h1.5M180.25 553.5h1.5M180.25 554h1.5M180.25 555h1.5M180.25 556h1.5M180.25 556.5h1.5M180.25 557h1.5M180.25 557.5h1.5M180.25 558h1.5M180.25 558.5h1.5M180.25 559h1.5M180.25 559.5h1.5M180.25 560h1.5M180.25 560.5h1.5M180.25 561h1.5M180.25 561.5h1.5M180.25 562h1.5M180.25 562.5h1.5M180.25 563h1.5M180.25 563.5h1.5M180.25 564.5h1.5M180.25 565h1.5M180.25 566h1.5M180.25 568.5h1.5M180.25 569h1.5M180.75 552.5h1.5M180.75 553h1.5M180.75 553.5h1.5M180.75 554h1.5M180.75 554.5h1.5M180.75 555h1.5M180.75 555.5h1.5M180.75 556h1.5M180.75 557h1.5M180.75 557.5h1.5M180.75 558h1.5M180.75 558.5h1.5M180.75 559h1.5M180.75 559.5h1.5M180.75 560h1.5M180.75 560.5h1.5M180.75 561h1.5M180.75 561.5h1.5M180.75 562h1.5M180.75 562.5h1.5M180.75 563.5h1.5M180.75 564h1.5M180.75 565h1.5M180.75 566h1.5M180.75 567h1.5M180.75 568h1.5M180.75 568.5h1.5M180.75 569h1.5M180.75 569.5h1.5M180.75 570h1.5M180.75 570.5h1.5M180.75 572h1.5M181.25 548.5h1.5M181.25 549h1.5M181.25 549.5h1.5M181.25 550.5h1.5M181.25 551h1.5M181.25 552h1.5M181.25 552.5h1.5M181.25 553h1.5M181.25 553.5h1.5M181.25 554.5h1.5M181.25 555.5h1.5M181.25 556h1.5M181.25 556.5h1.5M181.25 557h1.5M181.25 557.5h1.5M181.25 558h1.5M181.25 559h1.5M181.25 560h1.5M181.25 560.5h1.5M181.25 561h1.5M181.25 561.5h1.5M181.25 562h1.5M181.25 562.5h1.5M181.25 563h1.5M181.25 563.5h1.5M181.25 565h1.5M181.25 566.5h1.5M181.25 567h1.5M181.25 568h1.5M181.25 569.5h1.5M181.25 570h1.5M181.75 547.5h1.5M181.75 548.5h1.5M181.75 549h1.5M181.75 551h1.5M181.75 552h1.5M181.75 553h1.5M181.75 553.5h1.5M181.75 554.5h1.5M181.75 555h1.5M181.75 555.5h1.5M181.75 556h1.5M181.75 556.5h1.5M181.75 557.5h1.5M181.75 558h1.5M181.75 558.5h1.5M181.75 559h1.5M181.75 559.5h1.5M181.75 560h1.5M181.75 561h1.5M181.75 561.5h1.5M181.75 562h1.5M181.75 562.5h1.5M181.75 563h1.5M181.75 563.5h1.5M181.75 564.5h1.5M181.75 565h1.5M181.75 566h1.5M181.75 566.5h1.5M181.75 567h1.5M181.75 570.5h1.5M182.25 546.5h1.5M182.25 547.5h1.5M182.25 548.5h1.5M182.25 549.5h1.5M182.25 550h1.5M182.25 552h1.5M182.25 553h1.5M182.25 553.5h1.5M182.25 554h1.5M182.25 554.5h1.5M182.25 555h1.5M182.25 555.5h1.5M182.25 556.5h1.5M182.25 557h1.5M182.25 557.5h1.5M182.25 558h1.5M182.25 558.5h1.5M182.25 559h1.5M182.25 559.5h1.5M182.25 560h1.5M182.25 560.5h1.5M182.25 561h1.5M182.25 561.5h1.5M182.25 562h1.5M182.25 563h1.5M182.25 563.5h1.5M182.25 564.5h1.5M182.25 566h1.5M182.25 567h1.5M182.75 541.5h1.5M182.75 548h1.5M182.75 549.5h1.5M182.75 550h1.5M182.75 550.5h1.5M182.75 551h1.5M182.75 552h1.5M182.75 552.5h1.5M182.75 553h1.5M182.75 553.5h1.5M182.75 554h1.5M182.75 554.5h1.5M182.75 555h1.5M182.75 556h1.5M182.75 556.5h1.5M182.75 557h1.5M182.75 558h1.5M182.75 558.5h1.5M182.75 559h1.5M182.75 559.5h1.5M182.75 560h1.5M182.75 560.5h1.5M182.75 562h1.5M182.75 563h1.5M182.75 563.5h1.5M182.75 565h1.5M182.75 566h1.5M182.75 566.5h1.5M182.75 567h1.5M182.75 570h1.5M182.75 571h1.5M182.75 572.5h1.5M183.25 547.5h1.5M183.25 548.5h1.5M183.25 549h1.5M183.25 549.5h1.5M183.25 551h1.5M183.25 552h1.5M183.25 552.5h1.5M183.25 554h1.5M183.25 554.5h1.5M183.25 555h1.5M183.25 555.5h1.5M183.25 556.5h1.5M183.25 559h1.5M183.25 559.5h1.5M183.25 560h1.5M183.25 561h1.5M183.25 562.5h1.5M183.25 563h1.5M183.25 564h1.5M183.25 565h1.5M183.25 565.5h1.5M183.25 568.5h1.5M183.75 545.5h1.5M183.75 546h1.5M183.75 546.5h1.5M183.75 548h1.5M183.75 550h1.5M183.75 551h1.5M183.75 552.5h1.5M183.75 553h1.5M183.75 554h1.5M183.75 555h1.5M183.75 555.5h1.5M183.75 556h1.5M183.75 556.5h1.5M183.75 557h1.5M183.75 557.5h1.5M183.75 558h1.5M183.75 558.5h1.5M183.75 560h1.5M183.75 561h1.5M183.75 562.5h1.5M183.75 563h1.5M183.75 564h1.5M183.75 564.5h1.5M183.75 567.5h1.5M184.25 545h1.5M184.25 545.5h1.5M184.25 547.5h1.5M184.25 549.5h1.5M184.25 550.5h1.5M184.25 551h1.5M184.25 552h1.5M184.25 553.5h1.5M184.25 554h1.5M184.25 554.5h1.5M184.25 555h1.5M184.25 555.5h1.5M184.25 556h1.5M184.25 556.5h1.5M184.25 557h1.5M184.25 557.5h1.5M184.25 558h1.5M184.25 558.5h1.5M184.25 559.5h1.5M184.25 560.5h1.5M184.25 561h1.5M184.25 561.5h1.5M184.25 562h1.5M184.25 565h1.5M184.25 565.5h1.5M184.25 566h1.5M184.25 569h1.5M184.75 547h1.5M184.75 548h1.5M184.75 549h1.5M184.75 551.5h1.5M184.75 552h1.5M184.75 553.5h1.5M184.75 555h1.5M184.75 555.5h1.5M184.75 556h1.5M184.75 556.5h1.5M184.75 557h1.5M184.75 557.5h1.5M184.75 558.5h1.5M184.75 559h1.5M184.75 559.5h1.5M184.75 560h1.5M184.75 560.5h1.5M184.75 561h1.5M184.75 561.5h1.5M184.75 564.5h1.5M184.75 565h1.5M185.25 542.5h1.5M185.25 543h1.5M185.25 544.5h1.5M185.25 547h1.5M185.25 548h1.5M185.25 550h1.5M185.25 550.5h1.5M185.25 551.5h1.5M185.25 552h1.5M185.25 552.5h1.5M185.25 553h1.5M185.25 554h1.5M185.25 554.5h1.5M185.25 555.5h1.5M185.25 556h1.5M185.25 556.5h1.5M185.25 557h1.5M185.25 557.5h1.5M185.25 558.5h1.5M185.25 559.5h1.5M185.25 560.5h1.5M185.25 561h1.5M185.25 561.5h1.5M185.25 563h1.5M185.25 564h1.5M185.25 571.5h1.5M185.75 537.5h1.5M185.75 545h1.5M185.75 546.5h1.5M185.75 547h1.5M185.75 548.5h1.5M185.75 549.5h1.5M185.75 550h1.5M185.75 550.5h1.5M185.75 551h1.5M185.75 551.5h1.5M185.75 552h1.5M185.75 552.5h1.5M185.75 553h1.5M185.75 553.5h1.5M185.75 554h1.5M185.75 555h1.5M185.75 555.5h1.5M185.75 556h1.5M185.75 556.5h1.5M185.75 557h1.5M185.75 557.5h1.5M185.75 558h1.5M185.75 560h1.5M185.75 560.5h1.5M185.75 561.5h1.5M185.75 562h1.5M185.75 564.5h1.5M185.75 567.5h1.5M185.75 568h1.5M186.25 546.5h1.5M186.25 547h1.5M186.25 548.5h1.5M186.25 549h1.5M186.25 549.5h1.5M186.25 550.5h1.5M186.25 551h1.5M186.25 552h1.5M186.25 552.5h1.5M186.25 553.5h1.5M186.25 554.5h1.5M186.25 555h1.5M186.25 555.5h1.5M186.25 556h1.5M186.25 556.5h1.5M186.25 557h1.5M186.25 557.5h1.5M186.25 558.5h1.5M186.25 559h1.5M186.25 559.5h1.5M186.25 560h1.5M186.25 561h1.5M186.25 561.5h1.5M186.25 563.5h1.5M186.25 564h1.5M186.25 565h1.5M186.25 567h1.5M186.25 567.5h1.5M186.75 546h1.5M186.75 546.5h1.5M186.75 547.5h1.5M186.75 548h1.5M186.75 548.5h1.5M186.75 549.5h1.5M186.75 550h1.5M186.75 550.5h1.5M186.75 551h1.5M186.75 552h1.5M186.75 552.5h1.5M186.75 553h1.5M186.75 554h1.5M186.75 554.5h1.5M186.75 555.5h1.5M186.75 556h1.5M186.75 556.5h1.5M186.75 557h1.5M186.75 558h1.5M186.75 560.5h1.5M186.75 561.5h1.5M187.25 544.5h1.5M187.25 545.5h1.5M187.25 546.5h1.5M187.25 547h1.5M187.25 547.5h1.5M187.25 548h1.5M187.25 548.5h1.5M187.25 549h1.5M187.25 550h1.5M187.25 552h1.5M187.25 552.5h1.5M187.25 554h1.5M187.25 555h1.5M187.25 556h1.5M187.25 557h1.5M187.25 559h1.5M187.25 560h1.5M187.25 561h1.5M187.25 561.5h1.5M187.25 562h1.5M187.25 562.5h1.5M187.25 563h1.5M187.25 564h1.5M187.25 565h1.5M187.75 540h1.5M187.75 544h1.5M187.75 545h1.5M187.75 545.5h1.5M187.75 546h1.5M187.75 547h1.5M187.75 547.5h1.5M187.75 548.5h1.5M187.75 549.5h1.5M187.75 550h1.5M187.75 550.5h1.5M187.75 551h1.5M187.75 552.5h1.5M187.75 553h1.5M187.75 553.5h1.5M187.75 554h1.5M187.75 554.5h1.5M187.75 555h1.5M187.75 556h1.5M187.75 556.5h1.5M187.75 557h1.5M187.75 558h1.5M187.75 558.5h1.5M187.75 559.5h1.5M187.75 560h1.5M187.75 561h1.5M187.75 561.5h1.5M187.75 563h1.5M187.75 563.5h1.5M187.75 564h1.5M187.75 565.5h1.5M187.75 568.5h1.5M188.25 543.5h1.5M188.25 545.5h1.5M188.25 546.5h1.5M188.25 547.5h1.5M188.25 548h1.5M188.25 548.5h1.5M188.25 549h1.5M188.25 549.5h1.5M188.25 550h1.5M188.25 550.5h1.5M188.25 551h1.5M188.25 552h1.5M188.25 552.5h1.5M188.25 553h1.5M188.25 553.5h1.5M188.25 554h1.5M188.25 554.5h1.5M188.25 555.5h1.5M188.25 556h1.5M188.25 556.5h1.5M188.25 557.5h1.5M188.25 558h1.5M188.25 559h1.5M188.25 559.5h1.5M188.25 562.5h1.5M188.25 563.5h1.5M188.75 540h1.5M188.75 543.5h1.5M188.75 545h1.5M188.75 548.5h1.5M188.75 549h1.5M188.75 549.5h1.5M188.75 551h1.5M188.75 551.5h1.5M188.75 553h1.5M188.75 553.5h1.5M188.75 554h1.5M188.75 554.5h1.5M188.75 555.5h1.5M188.75 556h1.5M188.75 558.5h1.5M188.75 563.5h1.5M189.25 541.5h1.5M189.25 545h1.5M189.25 545.5h1.5M189.25 546h1.5M189.25 546.5h1.5M189.25 547.5h1.5M189.25 548h1.5M189.25 548.5h1.5M189.25 549h1.5M189.25 549.5h1.5M189.25 550.5h1.5M189.25 551.5h1.5M189.25 552h1.5M189.25 552.5h1.5M189.25 553h1.5M189.25 553.5h1.5M189.25 554h1.5M189.25 554.5h1.5M189.25 555h1.5M189.25 556h1.5M189.25 556.5h1.5M189.25 557h1.5M189.25 558h1.5M189.25 562h1.5M189.75 538h1.5M189.75 541.5h1.5M189.75 543h1.5M189.75 543.5h1.5M189.75 544.5h1.5M189.75 545.5h1.5M189.75 546h1.5M189.75 546.5h1.5M189.75 547h1.5M189.75 547.5h1.5M189.75 548h1.5M189.75 550.5h1.5M189.75 551.5h1.5M189.75 552h1.5M189.75 552.5h1.5M189.75 553h1.5M189.75 553.5h1.5M189.75 554h1.5M189.75 554.5h1.5M189.75 556.5h1.5M189.75 557h1.5M189.75 558.5h1.5M189.75 562h1.5M190.25 543h1.5M190.25 543.5h1.5M190.25 544.5h1.5M190.25 545h1.5M190.25 546.5h1.5M190.25 547h1.5M190.25 547.5h1.5M190.25 548h1.5M190.25 548.5h1.5M190.25 549.5h1.5M190.25 550h1.5M190.25 550.5h1.5M190.25 551h1.5M190.25 551.5h1.5M190.25 552h1.5M190.25 552.5h1.5M190.25 553h1.5M190.25 553.5h1.5M190.25 554h1.5M190.25 554.5h1.5M190.25 556h1.5M190.25 563.5h1.5M190.75 541.5h1.5M190.75 542h1.5M190.75 544h1.5M190.75 544.5h1.5M190.75 545h1.5M190.75 545.5h1.5M190.75 546h1.5M190.75 546.5h1.5M190.75 547.5h1.5M190.75 548h1.5M190.75 548.5h1.5M190.75 549.5h1.5M190.75 550h1.5M190.75 550.5h1.5M190.75 551h1.5M190.75 551.5h1.5M190.75 552h1.5M190.75 553h1.5M190.75 554h1.5M190.75 554.5h1.5M190.75 555h1.5M190.75 555.5h1.5M190.75 556.5h1.5M190.75 558h1.5M190.75 559.5h1.5M190.75 561h1.5M190.75 562h1.5M191.25 540.5h1.5M191.25 541h1.5M191.25 542h1.5M191.25 542.5h1.5M191.25 544h1.5M191.25 544.5h1.5M191.25 545h1.5M191.25 545.5h1.5M191.25 546h1.5M191.25 547h1.5M191.25 548.5h1.5M191.25 549h1.5M191.25 550h1.5M191.25 551h1.5M191.25 551.5h1.5M191.25 552h1.5M191.25 552.5h1.5M191.25 554.5h1.5M191.25 555.5h1.5M191.25 557.5h1.5M191.25 558h1.5M191.25 564.5h1.5M191.75 536.5h1.5M191.75 542.5h1.5M191.75 543.5h1.5M191.75 544.5h1.5M191.75 545h1.5M191.75 546h1.5M191.75 546.5h1.5M191.75 547h1.5M191.75 547.5h1.5M191.75 548h1.5M191.75 548.5h1.5M191.75 549.5h1.5M191.75 550.5h1.5M191.75 552h1.5M191.75 552.5h1.5M191.75 553h1.5M191.75 553.5h1.5M191.75 554.5h1.5M191.75 555h1.5M191.75 555.5h1.5M191.75 559h1.5M191.75 561h1.5M192.25 538h1.5M192.25 543.5h1.5M192.25 544h1.5M192.25 545h1.5M192.25 546h1.5M192.25 546.5h1.5M192.25 547h1.5M192.25 547.5h1.5M192.25 548h1.5M192.25 549h1.5M192.25 549.5h1.5M192.25 550.5h1.5M192.25 551h1.5M192.25 552h1.5M192.25 552.5h1.5M192.25 556h1.5M192.25 559.5h1.5M192.75 538.5h1.5M192.75 539h1.5M192.75 540h1.5M192.75 540.5h1.5M192.75 541.5h1.5M192.75 542h1.5M192.75 542.5h1.5M192.75 543h1.5M192.75 544.5h1.5M192.75 545h1.5M192.75 546.5h1.5M192.75 547.5h1.5M192.75 549.5h1.5M192.75 550h1.5M192.75 550.5h1.5M192.75 551h1.5M192.75 553.5h1.5M192.75 554h1.5M192.75 556.5h1.5M193.25 539h1.5M193.25 541.5h1.5M193.25 542.5h1.5M193.25 543.5h1.5M193.25 545h1.5M193.25 546h1.5M193.25 547h1.5M193.25 548h1.5M193.25 550h1.5M193.25 550.5h1.5M193.25 551h1.5M193.25 551.5h1.5M193.25 552.5h1.5M193.25 553h1.5M193.25 553.5h1.5M193.25 555h1.5M193.25 555.5h1.5M193.25 557h1.5M193.25 558.5h1.5M193.25 560.5h1.5M193.75 539h1.5M193.75 541h1.5M193.75 541.5h1.5M193.75 542h1.5M193.75 542.5h1.5M193.75 543.5h1.5M193.75 544h1.5M193.75 544.5h1.5M193.75 545h1.5M193.75 545.5h1.5M193.75 546h1.5M193.75 547h1.5M193.75 548.5h1.5M193.75 550.5h1.5M193.75 552.5h1.5M193.75 558h1.5M194.25 540h1.5M194.25 540.5h1.5M194.25 541h1.5M194.25 541.5h1.5M194.25 542h1.5M194.25 542.5h1.5M194.25 545h1.5M194.25 546.5h1.5M194.25 547.5h1.5M194.25 548h1.5M194.25 548.5h1.5M194.25 549.5h1.5M194.25 550h1.5M194.25 550.5h1.5M194.25 551h1.5M194.25 551.5h1.5M194.25 552.5h1.5M194.25 560h1.5M194.75 534.5h1.5M194.75 537.5h1.5M194.75 538h1.5M194.75 538.5h1.5M194.75 539.5h1.5M194.75 540h1.5M194.75 540.5h1.5M194.75 541.5h1.5M194.75 542h1.5M194.75 543.5h1.5M194.75 544h1.5M194.75 544.5h1.5M194.75 545.5h1.5M194.75 546h1.5M194.75 546.5h1.5M194.75 547h1.5M194.75 547.5h1.5M194.75 548h1.5M194.75 549.5h1.5M194.75 551h1.5M194.75 553h1.5M194.75 553.5h1.5M194.75 556h1.5M195.25 537.5h1.5M195.25 538h1.5M195.25 540h1.5M195.25 541.5h1.5M195.25 542h1.5M195.25 543.5h1.5M195.25 544h1.5M195.25 544.5h1.5M195.25 545h1.5M195.25 546h1.5M195.25 546.5h1.5M195.25 547h1.5M195.25 547.5h1.5M195.25 548h1.5M195.25 549h1.5M195.25 549.5h1.5M195.25 550.5h1.5M195.25 551h1.5M195.25 551.5h1.5M195.25 558.5h1.5M195.25 559h1.5M195.75 535h1.5M195.75 536h1.5M195.75 537.5h1.5M195.75 538.5h1.5M195.75 539.5h1.5M195.75 542h1.5M195.75 543h1.5M195.75 544h1.5M195.75 545h1.5M195.75 546h1.5M195.75 547h1.5M195.75 548.5h1.5M195.75 552h1.5M195.75 554h1.5M196.25 536.5h1.5M196.25 539.5h1.5M196.25 540.5h1.5M196.25 541.5h1.5M196.25 542h1.5M196.25 543h1.5M196.25 543.5h1.5M196.25 545h1.5M196.25 546h1.5M196.25 547h1.5M196.25 549h1.5M196.25 549.5h1.5M196.25 550.5h1.5M196.25 551h1.5M196.25 554.5h1.5M196.25 555h1.5M196.75 532h1.5M196.75 535h1.5M196.75 538h1.5M196.75 538.5h1.5M196.75 539.5h1.5M196.75 540h1.5M196.75 542h1.5M196.75 542.5h1.5M196.75 543h1.5M196.75 544h1.5M196.75 545h1.5M196.75 545.5h1.5M196.75 546h1.5M196.75 547h1.5M196.75 548h1.5M196.75 551.5h1.5M197.25 535.5h1.5M197.25 537.5h1.5M197.25 538h1.5M197.25 538.5h1.5M197.25 539.5h1.5M197.25 540.5h1.5M197.25 542h1.5M197.25 544h1.5M197.25 545h1.5M197.25 545.5h1.5M197.25 546h1.5M197.25 547.5h1.5M197.25 548h1.5M197.25 549h1.5M197.25 553h1.5M197.25 556h1.5M197.75 537.5h1.5M197.75 539.5h1.5M197.75 540.5h1.5M197.75 541.5h1.5M197.75 542.5h1.5M197.75 543h1.5M197.75 545h1.5M197.75 546h1.5M197.75 547.5h1.5M197.75 548.5h1.5M198.25 532h1.5M198.25 536.5h1.5M198.25 537.5h1.5M198.25 538.5h1.5M198.25 539h1.5M198.25 539.5h1.5M198.25 540h1.5M198.25 541h1.5M198.25 542h1.5M198.25 542.5h1.5M198.25 543h1.5M198.25 544.5h1.5M198.25 545h1.5M198.25 546h1.5M198.25 549h1.5M198.25 553.5h1.5M198.75 536h1.5M198.75 537h1.5M198.75 539h1.5M198.75 539.5h1.5M198.75 540.5h1.5M198.75 541.5h1.5M198.75 542.5h1.5M198.75 543h1.5M198.75 543.5h1.5M198.75 544.5h1.5M198.75 545.5h1.5M198.75 546.5h1.5M198.75 547.5h1.5M198.75 548h1.5M198.75 548.5h1.5M198.75 551h1.5M199.25 533.5h1.5M199.25 534.5h1.5M199.25 535h1.5M199.25 535.5h1.5M199.25 536.5h1.5M199.25 537h1.5M199.25 538.5h1.5M199.25 539.5h1.5M199.25 540.5h1.5M199.25 541.5h1.5M199.25 542h1.5M199.25 544h1.5M199.25 544.5h1.5M199.25 545.5h1.5M199.25 546h1.5M199.25 550h1.5M199.25 552h1.5M199.75 530.5h1.5M199.75 532h1.5M199.75 533h1.5M199.75 534.5h1.5M199.75 537.5h1.5M199.75 539h1.5M199.75 540h1.5M199.75 540.5h1.5M199.75 543h1.5M199.75 543.5h1.5M199.75 544.5h1.5M199.75 545h1.5M199.75 546.5h1.5M199.75 551h1.5M200.25 537h1.5M200.25 537.5h1.5M200.25 538h1.5M200.25 539h1.5M200.25 540.5h1.5M200.25 541h1.5M200.25 542h1.5M200.25 545h1.5M200.25 546h1.5M200.25 546.5h1.5M200.25 547.5h1.5M200.25 548.5h1.5M200.25 552.5h1.5M200.75 531h1.5M200.75 533h1.5M200.75 533.5h1.5M200.75 535.5h1.5M200.75 536h1.5M200.75 538.5h1.5M200.75 539h1.5M200.75 541.5h1.5M200.75 542h1.5M200.75 542.5h1.5M200.75 543h1.5M200.75 544h1.5M200.75 546h1.5M200.75 548.5h1.5M200.75 550.5h1.5M201.25 530h1.5M201.25 534h1.5M201.25 535.5h1.5M201.25 537.5h1.5M201.25 538.5h1.5M201.25 539h1.5M201.25 543h1.5M201.25 545h1.5M201.25 548h1.5M201.75 533h1.5M201.75 533.5h1.5M201.75 535h1.5M201.75 536h1.5M201.75 536.5h1.5M201.75 537h1.5M201.75 537.5h1.5M201.75 540.5h1.5M201.75 542.5h1.5M201.75 545.5h1.5M201.75 546h1.5M202.25 534h1.5M202.25 535h1.5M202.25 536.5h1.5M202.25 537.5h1.5M202.25 538h1.5M202.25 538.5h1.5M202.25 541.5h1.5M202.25 542h1.5M202.25 542.5h1.5M202.25 543.5h1.5M202.25 547h1.5M202.25 548.5h1.5M202.75 531h1.5M202.75 531.5h1.5M202.75 535h1.5M202.75 535.5h1.5M202.75 536h1.5M202.75 537h1.5M202.75 537.5h1.5M202.75 539.5h1.5M202.75 540h1.5M202.75 540.5h1.5M202.75 542.5h1.5M202.75 544h1.5M202.75 545.5h1.5M202.75 547h1.5M203.25 531h1.5M203.25 533h1.5M203.25 535.5h1.5M203.25 536h1.5M203.25 538h1.5M203.25 538.5h1.5M203.25 539h1.5M203.25 539.5h1.5M203.25 542.5h1.5M203.25 544.5h1.5M203.25 546.5h1.5M203.75 530.5h1.5M203.75 532h1.5M203.75 533.5h1.5M203.75 534h1.5M203.75 534.5h1.5M203.75 535.5h1.5M203.75 536.5h1.5M203.75 541.5h1.5M203.75 544h1.5M203.75 545h1.5M203.75 547h1.5M203.75 548.5h1.5M204.25 531h1.5M204.25 536.5h1.5M204.25 537.5h1.5M204.25 538.5h1.5M204.25 539h1.5M204.25 539.5h1.5M204.25 541h1.5M204.25 541.5h1.5M204.25 544.5h1.5M204.25 545h1.5M204.75 535h1.5M204.75 536.5h1.5M204.75 538h1.5M204.75 539.5h1.5M204.75 540.5h1.5M204.75 545.5h1.5M204.75 548h1.5M204.75 548.5h1.5M205.25 526.5h1.5M205.25 530.5h1.5M205.25 532.5h1.5M205.25 533.5h1.5M205.25 536.5h1.5M205.25 539.5h1.5M205.25 540h1.5M205.25 540.5h1.5M205.75 525h1.5M205.75 527h1.5M205.75 531h1.5M205.75 535.5h1.5M205.75 538.5h1.5M205.75 540h1.5M206.25 531.5h1.5M206.25 532h1.5M206.25 534h1.5M206.25 536h1.5M206.25 537.5h1.5M206.75 535.5h1.5M206.75 536h1.5M206.75 539.5h1.5M206.75 540.5h1.5M206.75 541h1.5M206.75 541.5h1.5M206.75 542.5h1.5M207.25 527h1.5M207.25 529h1.5M207.25 530h1.5M207.25 536h1.5M207.25 538h1.5M207.75 528.5h1.5M207.75 531h1.5M207.75 536h1.5M207.75 536.5h1.5M207.75 540h1.5M208.25 529h1.5M208.25 533h1.5M208.25 534.5h1.5M208.25 537.5h1.5M208.25 541.5h1.5M208.75 526h1.5M208.75 526.5h1.5M208.75 528.5h1.5M208.75 532h1.5M208.75 535h1.5M208.75 535.5h1.5M208.75 537h1.5M208.75 537.5h1.5M209.25 528.5h1.5M209.25 529.5h1.5M209.25 530.5h1.5M209.25 533.5h1.5M209.25 535h1.5M209.25 540.5h1.5M209.75 528h1.5M209.75 528.5h1.5M209.75 529.5h1.5M209.75 531h1.5M209.75 531.5h1.5M209.75 532.5h1.5M209.75 533h1.5M209.75 535.5h1.5M209.75 536h1.5M210.25 523.5h1.5M210.25 528h1.5M210.25 531h1.5M210.25 531.5h1.5M210.25 534h1.5M210.25 538.5h1.5M210.75 529.5h1.5M210.75 533h1.5M210.75 534.5h1.5M211.25 522.5h1.5M211.25 524.5h1.5M211.25 525.5h1.5M211.25 526.5h1.5M211.25 527h1.5M211.25 527.5h1.5M211.25 534.5h1.5M211.25 538h1.5M211.75 526h1.5M211.75 526.5h1.5M211.75 528h1.5M211.75 529.5h1.5M211.75 535h1.5M211.75 536.5h1.5M212.25 524h1.5M212.25 524.5h1.5M212.25 532h1.5M212.25 537h1.5M212.75 522h1.5M212.75 524.5h1.5M212.75 525h1.5M212.75 527h1.5M212.75 527.5h1.5M212.75 528h1.5M212.75 529.5h1.5M213.25 521h1.5M213.25 529h1.5M213.25 530.5h1.5M213.25 531h1.5M213.75 524h1.5M213.75 525.5h1.5M213.75 526.5h1.5M214.25 518.5h1.5M214.25 523h1.5M214.25 526h1.5M214.25 527h1.5M214.25 528.5h1.5M214.25 534.5h1.5M214.75 522.5h1.5M214.75 525.5h1.5M214.75 530h1.5M214.75 537.5h1.5M215.25 521.5h1.5M215.25 522h1.5M215.25 524.5h1.5M215.25 525h1.5M215.25 527.5h1.5M215.75 515.5h1.5M215.75 516.5h1.5M215.75 520.5h1.5M215.75 522.5h1.5M215.75 523h1.5M215.75 524h1.5M215.75 527.5h1.5M216.25 519.5h1.5M216.25 527h1.5M216.75 520.5h1.5M216.75 526h1.5M217.25 521.5h1.5M217.25 522h1.5M217.25 524.5h1.5M217.75 517.5h1.5M217.75 521.5h1.5M218.25 513.5h1.5M218.25 520h1.5M218.25 522h1.5M218.25 525h1.5M218.25 525.5h1.5M218.25 528h1.5M218.75 520.5h1.5M218.75 522h1.5M218.75 524h1.5M219.25 521.5h1.5M219.25 522.5h1.5M219.25 523h1.5M219.75 516h1.5M219.75 519.5h1.5M219.75 522.5h1.5M220.25 515.5h1.5M220.25 519.5h1.5M220.75 516.5h1.5M220.75 517h1.5M220.75 524h1.5M221.25 518h1.5M221.25 519h1.5M221.75 516h1.5M221.75 524h1.5M222.25 518.5h1.5M222.25 524.5h1.5M223.75 523h1.5M224.25 513h1.5M224.25 517.5h1.5M224.75 513h1.5M225.25 510.5h1.5M225.25 520.5h1.5M226.25 511h1.5M226.25 518h1.5M226.75 515h1.5M227.25 510.5h1.5M227.25 512.5h1.5M227.75 512.5h1.5M227.75 515h1.5M228.75 510h1.5M228.75 512h1.5M229.25 506.5h1.5M229.75 510h1.5M229.75 511.5h1.5M230.25 514.5h1.5M230.75 507.5h1.5M231.25 516h1.5M231.75 503.5h1.5M232.75 507.5h1.5M233.25 506.5h1.5M233.75 512h1.5M235.25 502.5h1.5M235.25 503.5h1.5M235.25 510h1.5M236.25 508h1.5M237.75 499.5h1.5M238.25 501h1.5M239.25 499.5h1.5M239.25 501.5h1.5M241.25 503.5h1.5M243.25 498.5h1.5" stroke="#0c0c0c" stroke-width="1.5" fill="none"/>
<line x1="303.2" y1="489.2" x2="303.2" y2="692.9" stroke="#666" stroke-width="1.8"/>
<line x1="303.2" y1="692.0" x2="506.2" y2="692.0" stroke="#666" stroke-width="1.8"/>
<line x1="303.2" y1="692.0" x2="305.7" y2="692.0" stroke="#666" stroke-width="1"/>
<text x="300.3" y="694.9" font-family='"Liberation Sans", Arial, Helvetica, sans-serif' font-size="9.4" text-anchor="end" fill="#1a1a1a">0</text>
<line x1="303.2" y1="666.7" x2="305.7" y2="666.7" stroke="#666" stroke-width="1"/>
<text x="300.3" y="669.6" font-family='"Liberation Sans", Arial, Helvetica, sans-serif' font-size="9.4" text-anchor="end" fill="#1a1a1a">2000</text>
<line x1="303.2" y1="641.4" x2="305.7" y2="641.4" stroke="#666" stroke-width="1"/>
<text x="300.3" y="644.3" font-family='"Liberation Sans", Arial, Helvetica, sans-serif' font-size="9.4" text-anchor="end" fill="#1a1a1a">4000</text>
<line x1="303.2" y1="616.1" x2="305.7" y2="616.1" stroke="#666" stroke-width="1"/>
<text x="300.3" y="619.0" font-family='"Liberation Sans", Arial, Helvetica, sans-serif' font-size="9.4" text-anchor="end" fill="#1a1a1a">6000</text>
<line x1="303.2" y1="590.8" x2="305.7" y2="590.8" stroke="#666" stroke-width="1"/>
<text x="300.3" y="593.6999999999999" font-family='"Liberation Sans", Arial, Helvetica, sans-serif' font-size="9.4" text-anchor="end" fill="#1a1a1a">8000</text>
<line x1="303.2" y1="565.5" x2="305.7" y2="565.5" stroke="#666" stroke-width="1"/>
<text x="300.3" y="568.4" font-family='"Liberation Sans", Arial, Helvetica, sans-serif' font-size="9.4" text-anchor="end" fill="#1a1a1a">10000</text>
<line x1="303.2" y1="540.2" x2="305.7" y2="540.2" stroke="#666" stroke-width="1"/>
<text x="300.3" y="543.1" font-family='"Liberation Sans", Arial, Helvetica, sans-serif' font-size="9.4" text-anchor="end" fill="#1a1a1a">12000</text>
<line x1="303.2" y1="514.9000000000001" x2="305.7" y2="514.9000000000001" stroke="#666" stroke-width="1"/>
<text x="300.3" y="517.8000000000001" font-family='"Liberation Sans", Arial, Helvetica, sans-serif' font-size="9.4" text-anchor="end" fill="#1a1a1a">14000</text>
<line x1="303.2" y1="489.6" x2="305.7" y2="489.6" stroke="#666" stroke-width="1"/>
<text x="300.3" y="492.5" font-family='"Liberation Sans", Arial, Helvetica, sans-serif' font-size="9.4" text-anchor="end" fill="#1a1a1a">16000</text>
<line x1="303.2" y1="692.0" x2="303.2" y2="689.5" stroke="#666" stroke-width="1"/>
<text x="303.2" y="702.3" font-family='"Liberation Sans", Arial, Helvetica, sans-serif' font-size="9.4" text-anchor="middle" fill="#1a1a1a">0</text>
<line x1="336.925" y1="692.0" x2="336.925" y2="689.5" stroke="#666" stroke-width="1"/>
<text x="336.925" y="702.3" font-family='"Liberation Sans", Arial, Helvetica, sans-serif' font-size="9.4" text-anchor="middle" fill="#1a1a1a">0.5</text>
<line x1="370.65" y1="692.0" x2="370.65" y2="689.5" stroke="#666" stroke-width="1"/>
<text x="370.65" y="702.3" font-family='"Liberation Sans", Arial, Helvetica, sans-serif' font-size="9.4" text-anchor="middle" fill="#1a1a1a">1.0</text>
<line x1="404.375" y1="692.0" x2="404.375" y2="689.5" stroke="#666" stroke-width="1"/>
<text x="404.375" y="702.3" font-family='"Liberation Sans", Arial, Helvetica, sans-serif' font-size="9.4" text-anchor="middle" fill="#1a1a1a">1.5</text>
<line x1="438.1" y1="692.0" x2="438.1" y2="689.5" stroke="#666" stroke-width="1"/>
<text x="438.1" y="702.3" font-family='"Liberation Sans", Arial, Helvetica, sans-serif' font-size="9.4" text-anchor="middle" fill="#1a1a1a">2.0</text>
<line x1="471.825" y1="692.0" x2="471.825" y2="689.5" stroke="#666" stroke-width="1"/>
<text x="471.825" y="702.3" font-family='"Liberation Sans", Arial, Helvetica, sans-serif' font-size="9.4" text-anchor="middle" fill="#1a1a1a">2.5</text>
<line x1="505.55" y1="692.0" x2="505.55" y2="689.5" stroke="#666" stroke-width="1"/>
<text x="505.55" y="702.3" font-family='"Liberation Sans", Arial, Helvetica, sans-serif' font-size="9.4" text-anchor="middle" fill="#1a1a1a">3.0</text>
<text x="505" y="712.8" font-family='"Liberation Sans", Arial, Helvetica, sans-serif' font-size="9" fill="#1a1a1a">x10</text>
<text x="519" y="708.8" font-family='"Liberation Sans", Arial, Helvetica, sans-serif' font-size="6.3" fill="#1a1a1a">6</text>
<text x="364" y="717.5" font-family='"Liberation Sans", Arial, Helvetica, sans-serif' font-size="12" textLength="85.4" lengthAdjust="spacingAndGlyphs" fill="#1a1a1a">Sampled Reads</text>
<text x="270" y="633.3" font-family='"Liberation Sans", Arial, Helvetica, sans-serif' font-size="12" textLength="86" lengthAdjust="spacingAndGlyphs" transform="rotate(-90 270 633.3)" fill="#1a1a1a">Genes Detected</text>
<circle cx="303.09999999999997" cy="684.9" r="2.1" fill="none" stroke="#e0301e" stroke-width="1.9"/>
<circle cx="303.09999999999997" cy="650.9" r="2.1" fill="none" stroke="#e0301e" stroke-width="1.9"/>
<circle cx="309.3" cy="574.2" r="2.1" fill="none" stroke="#e0301e" stroke-width="1.9"/>
<circle cx="336.4" cy="537.1" r="2.1" fill="none" stroke="#e0301e" stroke-width="1.9"/>
<circle cx="370.4" cy="526.8" r="2.1" fill="none" stroke="#e0301e" stroke-width="1.9"/>
<circle cx="438.09999999999997" cy="519.9" r="2.1" fill="none" stroke="#e0301e" stroke-width="1.9"/>
<circle cx="505.8" cy="516.2" r="2.1" fill="none" stroke="#e0301e" stroke-width="1.9"/>
<circle cx="303.09999999999997" cy="684.9" r="2.1" fill="none" stroke="#0aa55a" stroke-width="1.9"/>
<circle cx="303.09999999999997" cy="650.1" r="2.1" fill="none" stroke="#0aa55a" stroke-width="1.9"/>
<circle cx="309.3" cy="575.9" r="2.1" fill="none" stroke="#0aa55a" stroke-width="1.9"/>
<circle cx="336.4" cy="531.6" r="2.1" fill="none" stroke="#0aa55a" stroke-width="1.9"/>
<circle cx="370.4" cy="517" r="2.1" fill="none" stroke="#0aa55a" stroke-width="1.9"/>
<circle cx="438.09999999999997" cy="503" r="2.1" fill="none" stroke="#0aa55a" stroke-width="1.9"/>
<circle cx="505.8" cy="495" r="2.1" fill="none" stroke="#0aa55a" stroke-width="1.9"/>
<circle cx="339.3" cy="648" r="2.1" fill="none" stroke="#0aa55a" stroke-width="1.9"/>
<text x="348" y="651.6" font-family='"Liberation Sans", Arial, Helvetica, sans-serif' font-size="10.2" textLength="155.6" lengthAdjust="spacingAndGlyphs" fill="#1a1a1a">Ligation-Free Ribosome Profiling</text>
<circle cx="339.3" cy="669.9" r="2.1" fill="none" stroke="#e0301e" stroke-width="1.9"/>
<text x="348" y="673.6" font-family='"Liberation Sans", Arial, Helvetica, sans-serif' font-size="10.2" textLength="155.2" lengthAdjust="spacingAndGlyphs" fill="#1a1a1a">Conventional Ribosome Profiling</text>
<line x1="556.1" y1="489.2" x2="556.1" y2="692.8" stroke="#666" stroke-width="1.8"/>
<line x1="556.1" y1="691.9" x2="759.6" y2="691.9" stroke="#666" stroke-width="1.8"/>
<line x1="556.1" y1="691.9" x2="558.6" y2="691.9" stroke="#666" stroke-width="1"/>
<text x="552.2" y="695.1999999999999" font-family='"Liberation Sans", Arial, Helvetica, sans-serif' font-size="9.4" text-anchor="end" fill="#1a1a1a">0</text>
<line x1="556.1" y1="651.4" x2="558.6" y2="651.4" stroke="#666" stroke-width="1"/>
<text x="552.2" y="654.6999999999999" font-family='"Liberation Sans", Arial, Helvetica, sans-serif' font-size="9.4" text-anchor="end" fill="#1a1a1a">5</text>
<line x1="556.1" y1="610.9" x2="558.6" y2="610.9" stroke="#666" stroke-width="1"/>
<text x="552.2" y="614.1999999999999" font-family='"Liberation Sans", Arial, Helvetica, sans-serif' font-size="9.4" text-anchor="end" fill="#1a1a1a">10</text>
<line x1="556.1" y1="570.4" x2="558.6" y2="570.4" stroke="#666" stroke-width="1"/>
<text x="552.2" y="573.6999999999999" font-family='"Liberation Sans", Arial, Helvetica, sans-serif' font-size="9.4" text-anchor="end" fill="#1a1a1a">15</text>
<line x1="556.1" y1="529.9" x2="558.6" y2="529.9" stroke="#666" stroke-width="1"/>
<text x="552.2" y="533.1999999999999" font-family='"Liberation Sans", Arial, Helvetica, sans-serif' font-size="9.4" text-anchor="end" fill="#1a1a1a">20</text>
<line x1="556.1" y1="489.4" x2="558.6" y2="489.4" stroke="#666" stroke-width="1"/>
<text x="552.2" y="492.7" font-family='"Liberation Sans", Arial, Helvetica, sans-serif' font-size="9.4" text-anchor="end" fill="#1a1a1a">25</text>
<line x1="556.1" y1="691.9" x2="556.1" y2="687.6999999999999" stroke="#222" stroke-width="1"/>
<text x="556.1" y="702.3" font-family='"Liberation Sans", Arial, Helvetica, sans-serif' font-size="9.4" text-anchor="middle" fill="#1a1a1a">0</text>
<line x1="576.4300000000001" y1="691.9" x2="576.4300000000001" y2="687.6999999999999" stroke="#222" stroke-width="1"/>
<line x1="596.76" y1="691.9" x2="596.76" y2="687.6999999999999" stroke="#222" stroke-width="1"/>
<text x="596.76" y="702.3" font-family='"Liberation Sans", Arial, Helvetica, sans-serif' font-size="9.4" text-anchor="middle" fill="#1a1a1a">2</text>
<line x1="617.09" y1="691.9" x2="617.09" y2="687.6999999999999" stroke="#222" stroke-width="1"/>
<line x1="637.4200000000001" y1="691.9" x2="637.4200000000001" y2="687.6999999999999" stroke="#222" stroke-width="1"/>
<text x="637.4200000000001" y="702.3" font-family='"Liberation Sans", Arial, Helvetica, sans-serif' font-size="9.4" text-anchor="middle" fill="#1a1a1a">4</text>
<line x1="657.75" y1="691.9" x2="657.75" y2="687.6999999999999" stroke="#222" stroke-width="1"/>
<line x1="678.08" y1="691.9" x2="678.08" y2="687.6999999999999" stroke="#222" stroke-width="1"/>
<text x="678.08" y="702.3" font-family='"Liberation Sans", Arial, Helvetica, sans-serif' font-size="9.4" text-anchor="middle" fill="#1a1a1a">6</text>
<line x1="698.4100000000001" y1="691.9" x2="698.4100000000001" y2="687.6999999999999" stroke="#222" stroke-width="1"/>
<line x1="718.74" y1="691.9" x2="718.74" y2="687.6999999999999" stroke="#222" stroke-width="1"/>
<text x="718.74" y="702.3" font-family='"Liberation Sans", Arial, Helvetica, sans-serif' font-size="9.4" text-anchor="middle" fill="#1a1a1a">8</text>
<line x1="739.0699999999999" y1="691.9" x2="739.0699999999999" y2="687.6999999999999" stroke="#222" stroke-width="1"/>
<line x1="759.4" y1="691.9" x2="759.4" y2="687.6999999999999" stroke="#222" stroke-width="1"/>
<text x="759.4" y="702.3" font-family='"Liberation Sans", Arial, Helvetica, sans-serif' font-size="9.4" text-anchor="middle" fill="#1a1a1a">10</text>
<text x="759.4" y="712.6" font-family='"Liberation Sans", Arial, Helvetica, sans-serif' font-size="9" fill="#1a1a1a">x10</text>
<text x="773.4" y="708.6" font-family='"Liberation Sans", Arial, Helvetica, sans-serif' font-size="6.3" fill="#1a1a1a">6</text>
<text x="616.8" y="717.3" font-family='"Liberation Sans", Arial, Helvetica, sans-serif' font-size="12" textLength="85.4" lengthAdjust="spacingAndGlyphs" fill="#1a1a1a">Sampled Reads</text>
<text transform="translate(535.7 654.4) rotate(-90)" font-family='"Liberation Sans", Arial, sans-serif' font-size="12" fill="#1a1a1a" textLength="126.4" lengthAdjust="spacingAndGlyphs">log<tspan font-size="9" dy="3">2</tspan><tspan dy="-3">(Unique Footprints)</tspan></text>
<circle cx="556" cy="666.5" r="2.1" fill="none" stroke="#0aa55a" stroke-width="1.9"/>
<circle cx="565.9" cy="543.6" r="2.1" fill="none" stroke="#0aa55a" stroke-width="1.9"/>
<circle cx="576.2" cy="537" r="2.1" fill="none" stroke="#0aa55a" stroke-width="1.9"/>
<circle cx="596.7" cy="530.1" r="2.1" fill="none" stroke="#0aa55a" stroke-width="1.9"/>
<circle cx="617.1" cy="527.2" r="2.1" fill="none" stroke="#0aa55a" stroke-width="1.9"/>
<circle cx="688.4" cy="520.2" r="2.1" fill="none" stroke="#0aa55a" stroke-width="1.9"/>
<circle cx="759.4" cy="516.9" r="2.1" fill="none" stroke="#0aa55a" stroke-width="1.9"/>
<circle cx="556" cy="671.6" r="2.1" fill="none" stroke="#e0301e" stroke-width="1.9"/>
<circle cx="556" cy="640.5" r="2.1" fill="none" stroke="#e0301e" stroke-width="1.9"/>
<circle cx="556" cy="613.8" r="2.1" fill="none" stroke="#e0301e" stroke-width="1.9"/>
<circle cx="556" cy="587.5" r="2.1" fill="none" stroke="#e0301e" stroke-width="1.9"/>
<circle cx="557.9" cy="561.2" r="2.1" fill="none" stroke="#e0301e" stroke-width="1.9"/>
<circle cx="565.9" cy="544.7" r="2.1" fill="none" stroke="#e0301e" stroke-width="1.9"/>
<circle cx="576.2" cy="538.1" r="2.1" fill="none" stroke="#e0301e" stroke-width="1.9"/>
<circle cx="596.7" cy="533" r="2.1" fill="none" stroke="#e0301e" stroke-width="1.9"/>
<circle cx="617.1" cy="530.8" r="2.1" fill="none" stroke="#e0301e" stroke-width="1.9"/>
<circle cx="688.4" cy="527.2" r="2.1" fill="none" stroke="#e0301e" stroke-width="1.9"/>
<circle cx="591.9" cy="647.8" r="2.1" fill="none" stroke="#0aa55a" stroke-width="1.9"/>
<text x="600.7" y="651.5" font-family='"Liberation Sans", Arial, Helvetica, sans-serif' font-size="10.2" textLength="156" lengthAdjust="spacingAndGlyphs" fill="#1a1a1a">Ligation-Free Ribosome Profiling</text>
<circle cx="591.9" cy="669.8" r="2.1" fill="none" stroke="#e0301e" stroke-width="1.9"/>
<text x="600.7" y="673.4" font-family='"Liberation Sans", Arial, Helvetica, sans-serif' font-size="10.2" textLength="155.6" lengthAdjust="spacingAndGlyphs" fill="#1a1a1a">Conventional Ribosome Profiling</text>
</svg>
</body></html>
